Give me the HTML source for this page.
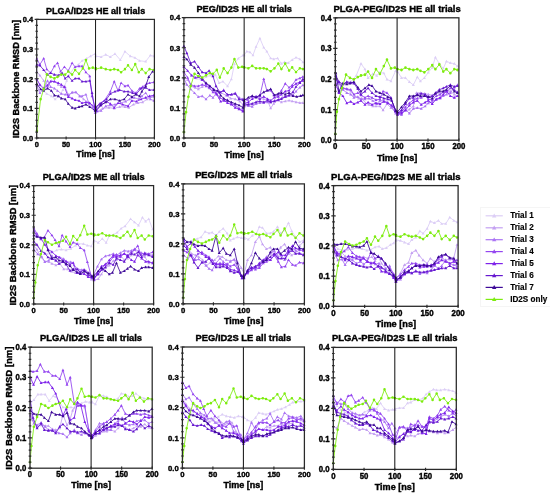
<!DOCTYPE html><html><head><meta charset="utf-8"><style>html,body{margin:0;padding:0;background:#fff}svg{display:block;filter:blur(0.45px)}text{font-family:"Liberation Sans",sans-serif;font-weight:bold;fill:#000;stroke:#000;stroke-width:0.4px}</style></head><body>
<svg width="550" height="495" viewBox="0 0 550 495">
<rect width="550" height="495" fill="#fff"/>
<path d="M36.77 79.19 L39.84 85.33 L42.91 90.71 L46.75 93.78 L51.36 96.08 L55.2 99.16 L59.04 96.08 L62.88 89.94 L66.72 80.72 L70.56 73.04 L74.4 67.67 L78.24 64.59 L82.08 60.75 L86.69 58.45 L90.53 56.14 L95.14 53.84 L95.77 56.14 L101.14 56.91 L105.75 54.61 L110.36 56.91 L114.97 53.84 L120.35 59.98 L124.95 51.54 L130.33 56.14 L134.94 57.68 L139.55 60.75 L145.69 61.52 L150.3 55.38 L153.83 56.14" fill="none" stroke="#dccef6" stroke-width="0.83" stroke-linejoin="round"/>
<path d="M36.77 77.67L38.21 80.25L35.32 80.25ZM39.84 83.81L41.28 86.39L38.4 86.39ZM42.91 89.19L44.36 91.77L41.47 91.77ZM46.75 92.26L48.2 94.84L45.31 94.84ZM51.36 94.56L52.81 97.15L49.92 97.15ZM55.2 97.63L56.65 100.22L53.76 100.22ZM59.04 94.56L60.49 97.15L57.6 97.15ZM62.88 88.42L64.33 91L61.44 91ZM66.72 79.2L68.17 81.79L65.28 81.79ZM70.56 71.52L72.01 74.11L69.12 74.11ZM74.4 66.14L75.85 68.73L72.96 68.73ZM78.24 63.07L79.69 65.66L76.8 65.66ZM82.08 59.23L83.53 61.82L80.64 61.82ZM86.69 56.93L88.14 59.51L85.25 59.51ZM90.53 54.62L91.98 57.21L89.09 57.21ZM95.14 52.32L96.58 54.9L93.7 54.9ZM95.77 54.62L97.21 57.21L94.32 57.21ZM101.14 55.39L102.59 57.98L99.7 57.98ZM105.75 53.09L107.2 55.67L104.31 55.67ZM110.36 55.39L111.81 57.98L108.92 57.98ZM114.97 52.32L116.41 54.9L113.53 54.9ZM120.35 58.46L121.79 61.05L118.9 61.05ZM124.95 50.02L126.4 52.6L123.51 52.6ZM130.33 54.62L131.77 57.21L128.89 57.21ZM134.94 56.16L136.38 58.74L133.49 58.74ZM139.55 59.23L140.99 61.82L138.1 61.82ZM145.69 60L147.14 62.58L144.25 62.58ZM150.3 53.86L151.74 56.44L148.86 56.44ZM153.83 54.62L155.28 57.21L152.39 57.21Z" fill="#dccef6"/>
<path d="M36.77 71.51 L39.84 75.35 L43.68 80.72 L47.52 86.87 L51.36 80.72 L54.43 81.49 L58.27 84.56 L61.35 86.87 L65.19 86.87 L68.26 94.55 L72.1 93.01 L75.94 92.24 L79.78 96.08 L83.62 99.16 L88.23 102.23 L92.07 105.3 L95.14 106.84 L97.3 111.44 L102.68 108.37 L108.82 107.6 L114.2 108.37 L119.58 106.84 L124.95 106.84 L128.79 107.6 L133.4 104.53 L138.01 103 L142.62 102.23 L147.23 99.16 L151.07 96.85 L153.83 96.85" fill="none" stroke="#c4a0f2" stroke-width="0.83" stroke-linejoin="round"/>
<path d="M36.77 69.99L38.21 72.57L35.32 72.57ZM39.84 73.83L41.28 76.41L38.4 76.41ZM43.68 79.2L45.12 81.79L42.24 81.79ZM47.52 85.35L48.97 87.93L46.08 87.93ZM51.36 79.2L52.81 81.79L49.92 81.79ZM54.43 79.97L55.88 82.55L52.99 82.55ZM58.27 83.04L59.72 85.63L56.83 85.63ZM61.35 85.35L62.79 87.93L59.9 87.93ZM65.19 85.35L66.63 87.93L63.74 87.93ZM68.26 93.03L69.7 95.61L66.81 95.61ZM72.1 91.49L73.54 94.07L70.65 94.07ZM75.94 90.72L77.38 93.31L74.49 93.31ZM79.78 94.56L81.22 97.15L78.33 97.15ZM83.62 97.63L85.06 100.22L82.17 100.22ZM88.23 100.71L89.67 103.29L86.78 103.29ZM92.07 103.78L93.51 106.36L90.62 106.36ZM95.14 105.32L96.58 107.9L93.7 107.9ZM97.3 109.92L98.75 112.51L95.86 112.51ZM102.68 106.85L104.12 109.44L101.24 109.44ZM108.82 106.08L110.27 108.67L107.38 108.67ZM114.2 106.85L115.65 109.44L112.76 109.44ZM119.58 105.32L121.02 107.9L118.13 107.9ZM124.95 105.32L126.4 107.9L123.51 107.9ZM128.79 106.08L130.24 108.67L127.35 108.67ZM133.4 103.01L134.85 105.6L131.96 105.6ZM138.01 101.48L139.46 104.06L136.57 104.06ZM142.62 100.71L144.06 103.29L141.17 103.29ZM147.23 97.63L148.67 100.22L145.78 100.22ZM151.07 95.33L152.51 97.92L149.62 97.92ZM153.83 95.33L155.28 97.92L152.39 97.92Z" fill="#c4a0f2"/>
<path d="M36.77 85.33 L39.84 93.01 L44.45 87.63 L47.52 80.72 L50.59 86.87 L54.43 88.4 L57.51 90.71 L61.35 93.78 L65.19 94.55 L69.03 95.31 L72.1 92.24 L75.94 92.24 L79.78 96.08 L82.08 96.08 L85.92 94.55 L89 103.76 L92.84 106.84 L95.14 112.98 L95.77 112.21 L101.14 110.68 L105.75 106.07 L110.36 105.3 L114.97 104.53 L120.35 103 L125.72 101.46 L129.56 99.16 L134.17 97.62 L138.78 99.16 L141.85 96.08 L145.69 93.01 L150.3 99.16 L153.83 100.69" fill="none" stroke="#ab74f4" stroke-width="0.83" stroke-linejoin="round"/>
<path d="M36.77 83.81L38.21 86.39L35.32 86.39ZM39.84 91.49L41.28 94.07L38.4 94.07ZM44.45 86.11L45.89 88.7L43 88.7ZM47.52 79.2L48.97 81.79L46.08 81.79ZM50.59 85.35L52.04 87.93L49.15 87.93ZM54.43 86.88L55.88 89.47L52.99 89.47ZM57.51 89.19L58.95 91.77L56.06 91.77ZM61.35 92.26L62.79 94.84L59.9 94.84ZM65.19 93.03L66.63 95.61L63.74 95.61ZM69.03 93.79L70.47 96.38L67.58 96.38ZM72.1 90.72L73.54 93.31L70.65 93.31ZM75.94 90.72L77.38 93.31L74.49 93.31ZM79.78 94.56L81.22 97.15L78.33 97.15ZM82.08 94.56L83.53 97.15L80.64 97.15ZM85.92 93.03L87.37 95.61L84.48 95.61ZM89 102.24L90.44 104.83L87.55 104.83ZM92.84 105.32L94.28 107.9L91.39 107.9ZM95.14 111.46L96.58 114.04L93.7 114.04ZM95.77 110.69L97.21 113.28L94.32 113.28ZM101.14 109.16L102.59 111.74L99.7 111.74ZM105.75 104.55L107.2 107.13L104.31 107.13ZM110.36 103.78L111.81 106.36L108.92 106.36ZM114.97 103.01L116.41 105.6L113.53 105.6ZM120.35 101.48L121.79 104.06L118.9 104.06ZM125.72 99.94L127.17 102.52L124.28 102.52ZM129.56 97.63L131.01 100.22L128.12 100.22ZM134.17 96.1L135.61 98.68L132.73 98.68ZM138.78 97.63L140.22 100.22L137.33 100.22ZM141.85 94.56L143.3 97.15L140.41 97.15ZM145.69 91.49L147.14 94.07L144.25 94.07ZM150.3 97.63L151.74 100.22L148.86 100.22ZM153.83 99.17L155.28 101.76L152.39 101.76Z" fill="#ab74f4"/>
<path d="M36.77 58.45 L39.84 64.59 L43.68 58.45 L46.75 69.2 L50.59 73.04 L54.43 66.13 L57.51 63.06 L60.58 71.51 L64.42 66.9 L68.26 70.74 L72.1 63.06 L75.17 66.9 L79.01 66.13 L82.08 66.13 L85.92 72.27 L89.76 76.11 L92.07 96.08 L95.14 108.37 L95.77 108.37 L99.61 103.76 L104.22 100.69 L110.36 91.47 L114.2 81.49 L118.04 90.71 L121.11 83.03 L124.95 86.1 L128.03 85.33 L131.87 90.71 L135.71 93.01 L139.55 88.4 L142.62 86.87 L146.46 83.79 L149.53 83.03 L153.83 82.26" fill="none" stroke="#9446f0" stroke-width="0.83" stroke-linejoin="round"/>
<path d="M36.77 56.93L38.21 59.51L35.32 59.51ZM39.84 63.07L41.28 65.66L38.4 65.66ZM43.68 56.93L45.12 59.51L42.24 59.51ZM46.75 67.68L48.2 70.27L45.31 70.27ZM50.59 71.52L52.04 74.11L49.15 74.11ZM54.43 64.61L55.88 67.19L52.99 67.19ZM57.51 61.54L58.95 64.12L56.06 64.12ZM60.58 69.99L62.02 72.57L59.13 72.57ZM64.42 65.38L65.86 67.96L62.97 67.96ZM68.26 69.22L69.7 71.8L66.81 71.8ZM72.1 61.54L73.54 64.12L70.65 64.12ZM75.17 65.38L76.61 67.96L73.73 67.96ZM79.01 64.61L80.46 67.19L77.57 67.19ZM82.08 64.61L83.53 67.19L80.64 67.19ZM85.92 70.75L87.37 73.34L84.48 73.34ZM89.76 74.59L91.21 77.18L88.32 77.18ZM92.07 94.56L93.51 97.15L90.62 97.15ZM95.14 106.85L96.58 109.44L93.7 109.44ZM95.77 106.85L97.21 109.44L94.32 109.44ZM99.61 102.24L101.05 104.83L98.16 104.83ZM104.22 99.17L105.66 101.76L102.77 101.76ZM110.36 89.95L111.81 92.54L108.92 92.54ZM114.2 79.97L115.65 82.55L112.76 82.55ZM118.04 89.19L119.49 91.77L116.6 91.77ZM121.11 81.51L122.56 84.09L119.67 84.09ZM124.95 84.58L126.4 87.16L123.51 87.16ZM128.03 83.81L129.47 86.39L126.58 86.39ZM131.87 89.19L133.31 91.77L130.42 91.77ZM135.71 91.49L137.15 94.07L134.26 94.07ZM139.55 86.88L140.99 89.47L138.1 89.47ZM142.62 85.35L144.06 87.93L141.17 87.93ZM146.46 82.27L147.9 84.86L145.02 84.86ZM149.53 81.51L150.98 84.09L148.09 84.09ZM153.83 80.74L155.28 83.32L152.39 83.32Z" fill="#9446f0"/>
<path d="M36.77 79.19 L39.84 84.56 L43.68 88.4 L47.52 85.33 L50.59 81.49 L54.43 81.49 L58.27 83.03 L61.35 84.56 L64.42 86.87 L68.26 96.85 L72.1 98.39 L75.17 99.92 L79.01 100.69 L82.08 103 L85.92 102.23 L89.76 103 L95.14 107.6 L96.54 110.68 L101.14 105.3 L106.52 101.46 L110.36 103.76 L114.2 107.6 L118.04 103 L122.65 104.53 L128.03 106.07 L131.87 100.69 L136.47 101.46 L141.08 99.16 L145.69 97.62 L149.53 96.08 L153.83 95.31" fill="none" stroke="#7e22ea" stroke-width="0.83" stroke-linejoin="round"/>
<path d="M36.77 77.67L38.21 80.25L35.32 80.25ZM39.84 83.04L41.28 85.63L38.4 85.63ZM43.68 86.88L45.12 89.47L42.24 89.47ZM47.52 83.81L48.97 86.39L46.08 86.39ZM50.59 79.97L52.04 82.55L49.15 82.55ZM54.43 79.97L55.88 82.55L52.99 82.55ZM58.27 81.51L59.72 84.09L56.83 84.09ZM61.35 83.04L62.79 85.63L59.9 85.63ZM64.42 85.35L65.86 87.93L62.97 87.93ZM68.26 95.33L69.7 97.92L66.81 97.92ZM72.1 96.87L73.54 99.45L70.65 99.45ZM75.17 98.4L76.61 100.99L73.73 100.99ZM79.01 99.17L80.46 101.76L77.57 101.76ZM82.08 101.48L83.53 104.06L80.64 104.06ZM85.92 100.71L87.37 103.29L84.48 103.29ZM89.76 101.48L91.21 104.06L88.32 104.06ZM95.14 106.08L96.58 108.67L93.7 108.67ZM96.54 109.16L97.98 111.74L95.09 111.74ZM101.14 103.78L102.59 106.36L99.7 106.36ZM106.52 99.94L107.97 102.52L105.08 102.52ZM110.36 102.24L111.81 104.83L108.92 104.83ZM114.2 106.08L115.65 108.67L112.76 108.67ZM118.04 101.48L119.49 104.06L116.6 104.06ZM122.65 103.01L124.09 105.6L121.21 105.6ZM128.03 104.55L129.47 107.13L126.58 107.13ZM131.87 99.17L133.31 101.76L130.42 101.76ZM136.47 99.94L137.92 102.52L135.03 102.52ZM141.08 97.63L142.53 100.22L139.64 100.22ZM145.69 96.1L147.14 98.68L144.25 98.68ZM149.53 94.56L150.98 97.15L148.09 97.15ZM153.83 93.79L155.28 96.38L152.39 96.38Z" fill="#7e22ea"/>
<path d="M36.77 64.59 L39.84 65.36 L43.68 69.97 L47.52 74.58 L50.59 73.04 L54.43 74.58 L58.27 75.35 L62.11 73.04 L65.19 78.42 L68.26 76.11 L72.1 80.72 L75.17 78.42 L79.01 78.42 L82.08 81.49 L85.92 81.49 L89.76 80.72 L92.07 93.01 L95.14 109.91 L95.77 106.84 L101.14 103 L106.52 99.16 L110.36 93.78 L114.97 91.47 L119.58 89.94 L124.19 91.47 L128.03 91.47 L132.63 93.01 L136.47 93.78 L141.08 88.4 L145.69 87.63 L149.53 89.94 L153.83 89.94" fill="none" stroke="#6618d0" stroke-width="0.83" stroke-linejoin="round"/>
<path d="M36.77 63.07L38.21 65.66L35.32 65.66ZM39.84 63.84L41.28 66.43L38.4 66.43ZM43.68 68.45L45.12 71.03L42.24 71.03ZM47.52 73.06L48.97 75.64L46.08 75.64ZM50.59 71.52L52.04 74.11L49.15 74.11ZM54.43 73.06L55.88 75.64L52.99 75.64ZM58.27 73.83L59.72 76.41L56.83 76.41ZM62.11 71.52L63.56 74.11L60.67 74.11ZM65.19 76.9L66.63 79.48L63.74 79.48ZM68.26 74.59L69.7 77.18L66.81 77.18ZM72.1 79.2L73.54 81.79L70.65 81.79ZM75.17 76.9L76.61 79.48L73.73 79.48ZM79.01 76.9L80.46 79.48L77.57 79.48ZM82.08 79.97L83.53 82.55L80.64 82.55ZM85.92 79.97L87.37 82.55L84.48 82.55ZM89.76 79.2L91.21 81.79L88.32 81.79ZM92.07 91.49L93.51 94.07L90.62 94.07ZM95.14 108.39L96.58 110.97L93.7 110.97ZM95.77 105.32L97.21 107.9L94.32 107.9ZM101.14 101.48L102.59 104.06L99.7 104.06ZM106.52 97.63L107.97 100.22L105.08 100.22ZM110.36 92.26L111.81 94.84L108.92 94.84ZM114.97 89.95L116.41 92.54L113.53 92.54ZM119.58 88.42L121.02 91L118.13 91ZM124.19 89.95L125.63 92.54L122.74 92.54ZM128.03 89.95L129.47 92.54L126.58 92.54ZM132.63 91.49L134.08 94.07L131.19 94.07ZM136.47 92.26L137.92 94.84L135.03 94.84ZM141.08 86.88L142.53 89.47L139.64 89.47ZM145.69 86.11L147.14 88.7L144.25 88.7ZM149.53 88.42L150.98 91L148.09 91ZM153.83 88.42L155.28 91L152.39 91Z" fill="#6618d0"/>
<path d="M36.77 83.79 L40.61 89.17 L43.68 90.71 L47.52 88.4 L51.36 90.71 L54.43 95.31 L58.27 96.08 L61.35 98.39 L65.19 99.16 L68.26 103.76 L72.1 107.6 L75.17 108.37 L79.01 106.84 L82.08 106.07 L85.92 104.53 L89.76 106.84 L95.14 110.68 L95.77 109.91 L100.38 105.3 L105.75 102.23 L110.36 99.16 L114.97 99.16 L119.58 100.69 L124.19 99.16 L128.03 94.55 L131.87 96.85 L135.71 94.55 L139.55 96.08 L141.85 91.47 L145.69 86.1 L148.76 76.88 L152.6 71.51" fill="none" stroke="#3e0a98" stroke-width="0.83" stroke-linejoin="round"/>
<path d="M36.77 82.27L38.21 84.86L35.32 84.86ZM40.61 87.65L42.05 90.23L39.16 90.23ZM43.68 89.19L45.12 91.77L42.24 91.77ZM47.52 86.88L48.97 89.47L46.08 89.47ZM51.36 89.19L52.81 91.77L49.92 91.77ZM54.43 93.79L55.88 96.38L52.99 96.38ZM58.27 94.56L59.72 97.15L56.83 97.15ZM61.35 96.87L62.79 99.45L59.9 99.45ZM65.19 97.63L66.63 100.22L63.74 100.22ZM68.26 102.24L69.7 104.83L66.81 104.83ZM72.1 106.08L73.54 108.67L70.65 108.67ZM75.17 106.85L76.61 109.44L73.73 109.44ZM79.01 105.32L80.46 107.9L77.57 107.9ZM82.08 104.55L83.53 107.13L80.64 107.13ZM85.92 103.01L87.37 105.6L84.48 105.6ZM89.76 105.32L91.21 107.9L88.32 107.9ZM95.14 109.16L96.58 111.74L93.7 111.74ZM95.77 108.39L97.21 110.97L94.32 110.97ZM100.38 103.78L101.82 106.36L98.93 106.36ZM105.75 100.71L107.2 103.29L104.31 103.29ZM110.36 97.63L111.81 100.22L108.92 100.22ZM114.97 97.63L116.41 100.22L113.53 100.22ZM119.58 99.17L121.02 101.76L118.13 101.76ZM124.19 97.63L125.63 100.22L122.74 100.22ZM128.03 93.03L129.47 95.61L126.58 95.61ZM131.87 95.33L133.31 97.92L130.42 97.92ZM135.71 93.03L137.15 95.61L134.26 95.61ZM139.55 94.56L140.99 97.15L138.1 97.15ZM141.85 89.95L143.3 92.54L140.41 92.54ZM145.69 84.58L147.14 87.16L144.25 87.16ZM148.76 75.36L150.21 77.95L147.32 77.95ZM152.6 69.99L154.05 72.57L151.16 72.57Z" fill="#3e0a98"/>
<path d="M36.92 130.95 L40.61 99.16 L43.68 89.17 L46.75 74.27 L50.59 76.88 L54.43 78.42 L57.51 76.88 L61.35 74.58 L65.19 74.58 L68.26 71.51 L72.1 74.58 L75.17 69.97 L79.01 73.81 L82.85 68.43 L85.92 59.98 L89 68.43 L92.84 67.67 L95.91 68.43 L95.77 69.2 L101.14 67.67 L105.75 69.2 L110.36 69.97 L114.2 69.2 L118.04 69.97 L121.11 72.27 L124.95 69.2 L128.03 65.36 L131.87 69.97 L135.25 64.13 L138.78 72.27 L141.85 69.2 L145.69 73.04 L149.53 69.2 L153.83 69.97" fill="none" stroke="#7dec0e" stroke-width="0.83" stroke-linejoin="round"/>
<path d="M35.7 130.95a1.23 1.23 0 1 0 2.45 0a1.23 1.23 0 1 0 -2.45 0ZM39.38 99.16a1.23 1.23 0 1 0 2.45 0a1.23 1.23 0 1 0 -2.45 0ZM42.45 89.17a1.23 1.23 0 1 0 2.45 0a1.23 1.23 0 1 0 -2.45 0ZM45.53 74.27a1.23 1.23 0 1 0 2.45 0a1.23 1.23 0 1 0 -2.45 0ZM49.37 76.88a1.23 1.23 0 1 0 2.45 0a1.23 1.23 0 1 0 -2.45 0ZM53.21 78.42a1.23 1.23 0 1 0 2.45 0a1.23 1.23 0 1 0 -2.45 0ZM56.28 76.88a1.23 1.23 0 1 0 2.45 0a1.23 1.23 0 1 0 -2.45 0ZM60.12 74.58a1.23 1.23 0 1 0 2.45 0a1.23 1.23 0 1 0 -2.45 0ZM63.96 74.58a1.23 1.23 0 1 0 2.45 0a1.23 1.23 0 1 0 -2.45 0ZM67.03 71.51a1.23 1.23 0 1 0 2.45 0a1.23 1.23 0 1 0 -2.45 0ZM70.87 74.58a1.23 1.23 0 1 0 2.45 0a1.23 1.23 0 1 0 -2.45 0ZM73.94 69.97a1.23 1.23 0 1 0 2.45 0a1.23 1.23 0 1 0 -2.45 0ZM77.78 73.81a1.23 1.23 0 1 0 2.45 0a1.23 1.23 0 1 0 -2.45 0ZM81.62 68.43a1.23 1.23 0 1 0 2.45 0a1.23 1.23 0 1 0 -2.45 0ZM84.7 59.98a1.23 1.23 0 1 0 2.45 0a1.23 1.23 0 1 0 -2.45 0ZM87.77 68.43a1.23 1.23 0 1 0 2.45 0a1.23 1.23 0 1 0 -2.45 0ZM91.61 67.67a1.23 1.23 0 1 0 2.45 0a1.23 1.23 0 1 0 -2.45 0ZM94.68 68.43a1.23 1.23 0 1 0 2.45 0a1.23 1.23 0 1 0 -2.45 0ZM94.54 69.2a1.23 1.23 0 1 0 2.45 0a1.23 1.23 0 1 0 -2.45 0ZM99.92 67.67a1.23 1.23 0 1 0 2.45 0a1.23 1.23 0 1 0 -2.45 0ZM104.53 69.2a1.23 1.23 0 1 0 2.45 0a1.23 1.23 0 1 0 -2.45 0ZM109.13 69.97a1.23 1.23 0 1 0 2.45 0a1.23 1.23 0 1 0 -2.45 0ZM112.98 69.2a1.23 1.23 0 1 0 2.45 0a1.23 1.23 0 1 0 -2.45 0ZM116.82 69.97a1.23 1.23 0 1 0 2.45 0a1.23 1.23 0 1 0 -2.45 0ZM119.89 72.27a1.23 1.23 0 1 0 2.45 0a1.23 1.23 0 1 0 -2.45 0ZM123.73 69.2a1.23 1.23 0 1 0 2.45 0a1.23 1.23 0 1 0 -2.45 0ZM126.8 65.36a1.23 1.23 0 1 0 2.45 0a1.23 1.23 0 1 0 -2.45 0ZM130.64 69.97a1.23 1.23 0 1 0 2.45 0a1.23 1.23 0 1 0 -2.45 0ZM134.02 64.13a1.23 1.23 0 1 0 2.45 0a1.23 1.23 0 1 0 -2.45 0ZM137.55 72.27a1.23 1.23 0 1 0 2.45 0a1.23 1.23 0 1 0 -2.45 0ZM140.62 69.2a1.23 1.23 0 1 0 2.45 0a1.23 1.23 0 1 0 -2.45 0ZM144.47 73.04a1.23 1.23 0 1 0 2.45 0a1.23 1.23 0 1 0 -2.45 0ZM148.31 69.2a1.23 1.23 0 1 0 2.45 0a1.23 1.23 0 1 0 -2.45 0ZM152.61 69.97a1.23 1.23 0 1 0 2.45 0a1.23 1.23 0 1 0 -2.45 0Z" fill="#7dec0e"/>
<line x1="95.55" y1="19.4" x2="95.55" y2="138" stroke="#111" stroke-width="0.98"/>
<rect x="36.7" y="19.4" width="117.7" height="118.6" fill="none" stroke="#2a2a2a" stroke-width="1.23"/>
<path d="M34.64 138H38.76M35.42 132.07H37.98M35.42 126.14H37.98M35.42 120.21H37.98M35.42 114.28H37.98M34.64 108.35H38.76M35.42 102.42H37.98M35.42 96.49H37.98M35.42 90.56H37.98M35.42 84.63H37.98M34.64 78.7H38.76M35.42 72.77H37.98M35.42 66.84H37.98M35.42 60.91H37.98M35.42 54.98H37.98M34.64 49.05H38.76M35.42 43.12H37.98M35.42 37.19H37.98M35.42 31.26H37.98M35.42 25.33H37.98M34.64 19.4H38.76M36.7 136.43V139.57M66.12 136.43V139.57M95.55 136.43V139.57M124.98 136.43V139.57M154.4 136.43V139.57" stroke="#2a2a2a" stroke-width="1.13" fill="none"/>
<text transform="translate(33.17 140.81) scale(0.95,1)" font-size="7.85" text-anchor="end">0.0</text>
<text transform="translate(33.17 111.16) scale(0.95,1)" font-size="7.85" text-anchor="end">0.1</text>
<text transform="translate(33.17 81.51) scale(0.95,1)" font-size="7.85" text-anchor="end">0.2</text>
<text transform="translate(33.17 51.86) scale(0.95,1)" font-size="7.85" text-anchor="end">0.3</text>
<text transform="translate(33.17 22.21) scale(0.95,1)" font-size="7.85" text-anchor="end">0.4</text>
<text transform="translate(36.7 146.73) scale(0.95,1)" font-size="7.85" text-anchor="middle">0</text>
<text transform="translate(66.12 146.73) scale(0.95,1)" font-size="7.85" text-anchor="middle">50</text>
<text transform="translate(95.55 146.73) scale(0.95,1)" font-size="7.85" text-anchor="middle">100</text>
<text transform="translate(124.98 146.73) scale(0.95,1)" font-size="7.85" text-anchor="middle">150</text>
<text transform="translate(154.4 146.73) scale(0.95,1)" font-size="7.85" text-anchor="middle">200</text>
<text x="95.55" y="157.42" font-size="8.68" text-anchor="middle">Time [ns]</text>
<text x="95.55" y="13.71" font-size="9.02" text-anchor="middle">PLGA/ID2S HE all trials</text>
<text transform="translate(19.44 79.1) rotate(-90)" x="0" y="0" font-size="9.17" text-anchor="middle">ID2S Backbone RMSD [nm]</text>
<path d="M183.9 66.11 L187.61 70.72 L192.22 75.33 L196.82 78.4 L201.43 79.94 L206.04 76.87 L210.65 75.33 L215.26 74.56 L219.1 83.01 L222.94 81.47 L227.55 86.08 L231.39 79.17 L234.46 63.81 L238.3 58.43 L242.91 55.36 L244.23 55.2 L246.84 51.36 L249.91 52.13 L252.98 55.2 L256.06 46.75 L259.9 38.3 L263.74 47.52 L266.81 51.36 L270.65 58.27 L273.72 59.04 L277.56 58.27 L281.4 63.65 L284.47 62.11 L288.31 62.88 L292.16 59.81 L296 57.51 L299.84 59.04 L302.91 62.11" fill="none" stroke="#dccef6" stroke-width="0.85" stroke-linejoin="round"/>
<path d="M183.9 64.56L185.38 67.2L182.42 67.2ZM187.61 69.17L189.09 71.81L186.13 71.81ZM192.22 73.77L193.7 76.42L190.74 76.42ZM196.82 76.85L198.3 79.49L195.35 79.49ZM201.43 78.38L202.91 81.03L199.95 81.03ZM206.04 75.31L207.52 77.96L204.56 77.96ZM210.65 73.77L212.13 76.42L209.17 76.42ZM215.26 73.01L216.74 75.65L213.78 75.65ZM219.1 81.45L220.58 84.1L217.62 84.1ZM222.94 79.92L224.42 82.56L221.46 82.56ZM227.55 84.53L229.03 87.17L226.07 87.17ZM231.39 77.61L232.87 80.26L229.91 80.26ZM234.46 62.25L235.94 64.9L232.98 64.9ZM238.3 56.88L239.78 59.52L236.82 59.52ZM242.91 53.8L244.39 56.45L241.43 56.45ZM244.23 53.64L245.71 56.29L242.75 56.29ZM246.84 49.8L248.32 52.45L245.36 52.45ZM249.91 50.57L251.39 53.22L248.43 53.22ZM252.98 53.64L254.46 56.29L251.51 56.29ZM256.06 45.2L257.54 47.84L254.58 47.84ZM259.9 36.75L261.38 39.39L258.42 39.39ZM263.74 45.96L265.22 48.61L262.26 48.61ZM266.81 49.8L268.29 52.45L265.33 52.45ZM270.65 56.72L272.13 59.36L269.17 59.36ZM273.72 57.49L275.2 60.13L272.24 60.13ZM277.56 56.72L279.04 59.36L276.08 59.36ZM281.4 62.09L282.88 64.74L279.92 64.74ZM284.47 60.56L285.95 63.2L283 63.2ZM288.31 61.33L289.79 63.97L286.84 63.97ZM292.16 58.25L293.63 60.9L290.68 60.9ZM296 55.95L297.47 58.59L294.52 58.59ZM299.84 57.49L301.31 60.13L298.36 60.13ZM302.91 60.56L304.39 63.2L301.43 63.2Z" fill="#dccef6"/>
<path d="M183.9 75.33 L187.61 79.94 L191.45 86.08 L195.29 87.62 L198.36 89.16 L202.2 86.85 L206.04 84.55 L209.88 88.39 L213.72 90.69 L217.56 91.46 L221.4 93 L226.01 95.3 L230.62 98.37 L235.23 99.14 L239.84 101.44 L242.91 104.52 L244.23 106.66 L247.61 105.12 L252.22 104.36 L256.06 103.59 L259.9 96.68 L263.74 98.98 L267.58 100.52 L270.65 108.2 L273.72 103.59 L277.56 100.52 L281.4 102.05 L285.24 101.28 L289.08 100.52 L292.16 101.28 L296 102.05 L299.84 102.82 L302.91 102.82" fill="none" stroke="#c4a0f2" stroke-width="0.85" stroke-linejoin="round"/>
<path d="M183.9 73.77L185.38 76.42L182.42 76.42ZM187.61 78.38L189.09 81.03L186.13 81.03ZM191.45 84.53L192.93 87.17L189.97 87.17ZM195.29 86.06L196.77 88.71L193.81 88.71ZM198.36 87.6L199.84 90.24L196.88 90.24ZM202.2 85.29L203.68 87.94L200.72 87.94ZM206.04 82.99L207.52 85.64L204.56 85.64ZM209.88 86.83L211.36 89.48L208.4 89.48ZM213.72 89.13L215.2 91.78L212.24 91.78ZM217.56 89.9L219.04 92.55L216.08 92.55ZM221.4 91.44L222.88 94.08L219.92 94.08ZM226.01 93.74L227.49 96.39L224.53 96.39ZM230.62 96.82L232.1 99.46L229.14 99.46ZM235.23 97.58L236.71 100.23L233.75 100.23ZM239.84 99.89L241.31 102.53L238.36 102.53ZM242.91 102.96L244.39 105.61L241.43 105.61ZM244.23 105.1L245.71 107.75L242.75 107.75ZM247.61 103.57L249.09 106.21L246.13 106.21ZM252.22 102.8L253.7 105.45L250.74 105.45ZM256.06 102.03L257.54 104.68L254.58 104.68ZM259.9 95.12L261.38 97.77L258.42 97.77ZM263.74 97.42L265.22 100.07L262.26 100.07ZM267.58 98.96L269.06 101.61L266.1 101.61ZM270.65 106.64L272.13 109.29L269.17 109.29ZM273.72 102.03L275.2 104.68L272.24 104.68ZM277.56 98.96L279.04 101.61L276.08 101.61ZM281.4 100.5L282.88 103.14L279.92 103.14ZM285.24 99.73L286.72 102.37L283.76 102.37ZM289.08 98.96L290.56 101.61L287.6 101.61ZM292.16 99.73L293.63 102.37L290.68 102.37ZM296 100.5L297.47 103.14L294.52 103.14ZM299.84 101.26L301.31 103.91L298.36 103.91ZM302.91 101.26L304.39 103.91L301.43 103.91Z" fill="#c4a0f2"/>
<path d="M183.9 78.4 L186.84 84.55 L190.68 89.16 L194.52 93 L198.36 96.84 L202.2 96.07 L206.04 99.14 L209.88 95.3 L212.95 97.6 L216.03 93.76 L220.63 92.23 L223.71 89.92 L227.55 95.3 L231.39 94.53 L235.23 93 L239.07 97.6 L242.91 99.14 L244.23 102.05 L248.38 105.89 L252.22 106.66 L256.06 103.59 L259.9 102.82 L263.74 102.82 L267.58 102.05 L270.65 102.05 L274.49 100.52 L278.33 99.75 L282.17 97.44 L286.01 96.68 L289.08 95.91 L292.92 95.14 L296 91.3 L299.84 87.46 L302.91 85.16" fill="none" stroke="#ab74f4" stroke-width="0.85" stroke-linejoin="round"/>
<path d="M183.9 76.85L185.38 79.49L182.42 79.49ZM186.84 82.99L188.32 85.64L185.36 85.64ZM190.68 87.6L192.16 90.24L189.2 90.24ZM194.52 91.44L196 94.08L193.04 94.08ZM198.36 95.28L199.84 97.93L196.88 97.93ZM202.2 94.51L203.68 97.16L200.72 97.16ZM206.04 97.58L207.52 100.23L204.56 100.23ZM209.88 93.74L211.36 96.39L208.4 96.39ZM212.95 96.05L214.43 98.69L211.48 98.69ZM216.03 92.21L217.5 94.85L214.55 94.85ZM220.63 90.67L222.11 93.32L219.16 93.32ZM223.71 88.37L225.19 91.01L222.23 91.01ZM227.55 93.74L229.03 96.39L226.07 96.39ZM231.39 92.98L232.87 95.62L229.91 95.62ZM235.23 91.44L236.71 94.08L233.75 94.08ZM239.07 96.05L240.55 98.69L237.59 98.69ZM242.91 97.58L244.39 100.23L241.43 100.23ZM244.23 100.5L245.71 103.14L242.75 103.14ZM248.38 104.34L249.85 106.98L246.9 106.98ZM252.22 105.1L253.7 107.75L250.74 107.75ZM256.06 102.03L257.54 104.68L254.58 104.68ZM259.9 101.26L261.38 103.91L258.42 103.91ZM263.74 101.26L265.22 103.91L262.26 103.91ZM267.58 100.5L269.06 103.14L266.1 103.14ZM270.65 100.5L272.13 103.14L269.17 103.14ZM274.49 98.96L275.97 101.61L273.01 101.61ZM278.33 98.19L279.81 100.84L276.85 100.84ZM282.17 95.89L283.65 98.53L280.69 98.53ZM286.01 95.12L287.49 97.77L284.53 97.77ZM289.08 94.35L290.56 97L287.6 97ZM292.92 93.58L294.4 96.23L291.44 96.23ZM296 89.74L297.47 92.39L294.52 92.39ZM299.84 85.9L301.31 88.55L298.36 88.55ZM302.91 83.6L304.39 86.24L301.43 86.24Z" fill="#ab74f4"/>
<path d="M183.9 72.26 L187.61 77.63 L190.68 84.55 L194.52 86.08 L198.36 86.08 L202.2 84.55 L206.04 86.08 L209.11 87.62 L212.95 92.23 L216.03 93 L219.87 97.6 L223.71 99.91 L227.55 99.91 L231.39 103.75 L235.23 105.28 L239.07 108.36 L242.91 110.66 L244.23 98.98 L247.61 99.75 L252.22 96.68 L256.06 96.68 L259.9 95.91 L263.74 79.01 L266.81 90.53 L270.65 90.53 L273.72 95.14 L277.56 95.14 L281.4 90.53 L285.24 83.62 L289.08 87.46 L292.16 85.16 L296 79.78 L299.84 78.24 L302.91 76.71" fill="none" stroke="#9446f0" stroke-width="0.85" stroke-linejoin="round"/>
<path d="M183.9 70.7L185.38 73.35L182.42 73.35ZM187.61 76.08L189.09 78.72L186.13 78.72ZM190.68 82.99L192.16 85.64L189.2 85.64ZM194.52 84.53L196 87.17L193.04 87.17ZM198.36 84.53L199.84 87.17L196.88 87.17ZM202.2 82.99L203.68 85.64L200.72 85.64ZM206.04 84.53L207.52 87.17L204.56 87.17ZM209.11 86.06L210.59 88.71L207.64 88.71ZM212.95 90.67L214.43 93.32L211.48 93.32ZM216.03 91.44L217.5 94.08L214.55 94.08ZM219.87 96.05L221.34 98.69L218.39 98.69ZM223.71 98.35L225.19 101L222.23 101ZM227.55 98.35L229.03 101L226.07 101ZM231.39 102.19L232.87 104.84L229.91 104.84ZM235.23 103.73L236.71 106.37L233.75 106.37ZM239.07 106.8L240.55 109.45L237.59 109.45ZM242.91 109.1L244.39 111.75L241.43 111.75ZM244.23 97.42L245.71 100.07L242.75 100.07ZM247.61 98.19L249.09 100.84L246.13 100.84ZM252.22 95.12L253.7 97.77L250.74 97.77ZM256.06 95.12L257.54 97.77L254.58 97.77ZM259.9 94.35L261.38 97L258.42 97ZM263.74 77.45L265.22 80.1L262.26 80.1ZM266.81 88.98L268.29 91.62L265.33 91.62ZM270.65 88.98L272.13 91.62L269.17 91.62ZM273.72 93.58L275.2 96.23L272.24 96.23ZM277.56 93.58L279.04 96.23L276.08 96.23ZM281.4 88.98L282.88 91.62L279.92 91.62ZM285.24 82.06L286.72 84.71L283.76 84.71ZM289.08 85.9L290.56 88.55L287.6 88.55ZM292.16 83.6L293.63 86.24L290.68 86.24ZM296 78.22L297.47 80.87L294.52 80.87ZM299.84 76.69L301.31 79.33L298.36 79.33ZM302.91 75.15L304.39 77.8L301.43 77.8Z" fill="#9446f0"/>
<path d="M183.9 66.88 L187.61 70.72 L191.45 75.33 L195.29 77.63 L198.36 76.87 L202.2 79.94 L206.04 83.78 L209.88 86.08 L213.72 89.16 L216.79 94.53 L220.63 101.44 L224.47 100.68 L227.55 102.98 L231.39 104.52 L235.23 107.59 L239.07 109.12 L242.91 111.43 L244.23 103.59 L248.38 102.05 L252.22 98.98 L256.06 96.68 L259.9 98.98 L263.74 96.68 L267.58 98.98 L270.65 100.52 L274.49 97.44 L278.33 96.68 L281.4 94.37 L285.24 91.3 L289.08 90.53 L292.16 86.69 L296 83.62 L299.84 82.08 L302.91 80.55" fill="none" stroke="#7e22ea" stroke-width="0.85" stroke-linejoin="round"/>
<path d="M183.9 65.33L185.38 67.97L182.42 67.97ZM187.61 69.17L189.09 71.81L186.13 71.81ZM191.45 73.77L192.93 76.42L189.97 76.42ZM195.29 76.08L196.77 78.72L193.81 78.72ZM198.36 75.31L199.84 77.96L196.88 77.96ZM202.2 78.38L203.68 81.03L200.72 81.03ZM206.04 82.22L207.52 84.87L204.56 84.87ZM209.88 84.53L211.36 87.17L208.4 87.17ZM213.72 87.6L215.2 90.24L212.24 90.24ZM216.79 92.98L218.27 95.62L215.32 95.62ZM220.63 99.89L222.11 102.53L219.16 102.53ZM224.47 99.12L225.95 101.77L223 101.77ZM227.55 101.42L229.03 104.07L226.07 104.07ZM231.39 102.96L232.87 105.61L229.91 105.61ZM235.23 106.03L236.71 108.68L233.75 108.68ZM239.07 107.57L240.55 110.21L237.59 110.21ZM242.91 109.87L244.39 112.52L241.43 112.52ZM244.23 102.03L245.71 104.68L242.75 104.68ZM248.38 100.5L249.85 103.14L246.9 103.14ZM252.22 97.42L253.7 100.07L250.74 100.07ZM256.06 95.12L257.54 97.77L254.58 97.77ZM259.9 97.42L261.38 100.07L258.42 100.07ZM263.74 95.12L265.22 97.77L262.26 97.77ZM267.58 97.42L269.06 100.07L266.1 100.07ZM270.65 98.96L272.13 101.61L269.17 101.61ZM274.49 95.89L275.97 98.53L273.01 98.53ZM278.33 95.12L279.81 97.77L276.85 97.77ZM281.4 92.82L282.88 95.46L279.92 95.46ZM285.24 89.74L286.72 92.39L283.76 92.39ZM289.08 88.98L290.56 91.62L287.6 91.62ZM292.16 85.13L293.63 87.78L290.68 87.78ZM296 82.06L297.47 84.71L294.52 84.71ZM299.84 80.53L301.31 83.17L298.36 83.17ZM302.91 78.99L304.39 81.64L301.43 81.64Z" fill="#7e22ea"/>
<path d="M183.9 46.14 L186.84 53.06 L190.68 63.04 L194.52 61.51 L198.36 66.88 L202.2 72.26 L206.04 73.03 L209.11 70.72 L212.95 76.1 L216.03 86.08 L219.87 92.23 L223.71 90.69 L227.55 94.53 L231.39 94.53 L235.23 93.76 L239.07 99.14 L242.91 99.91 L244.23 105.12 L248.38 104.36 L252.22 103.59 L256.06 102.05 L259.9 101.28 L263.74 102.05 L267.58 100.52 L270.65 102.05 L274.49 101.28 L278.33 99.75 L281.4 98.98 L285.24 96.68 L289.08 95.14 L292.92 92.07 L296 86.69 L299.84 82.85 L302.91 79.01" fill="none" stroke="#6618d0" stroke-width="0.85" stroke-linejoin="round"/>
<path d="M183.9 44.59L185.38 47.23L182.42 47.23ZM186.84 51.5L188.32 54.15L185.36 54.15ZM190.68 61.49L192.16 64.13L189.2 64.13ZM194.52 59.95L196 62.59L193.04 62.59ZM198.36 65.33L199.84 67.97L196.88 67.97ZM202.2 70.7L203.68 73.35L200.72 73.35ZM206.04 71.47L207.52 74.12L204.56 74.12ZM209.11 69.17L210.59 71.81L207.64 71.81ZM212.95 74.54L214.43 77.19L211.48 77.19ZM216.03 84.53L217.5 87.17L214.55 87.17ZM219.87 90.67L221.34 93.32L218.39 93.32ZM223.71 89.13L225.19 91.78L222.23 91.78ZM227.55 92.98L229.03 95.62L226.07 95.62ZM231.39 92.98L232.87 95.62L229.91 95.62ZM235.23 92.21L236.71 94.85L233.75 94.85ZM239.07 97.58L240.55 100.23L237.59 100.23ZM242.91 98.35L244.39 101L241.43 101ZM244.23 103.57L245.71 106.21L242.75 106.21ZM248.38 102.8L249.85 105.45L246.9 105.45ZM252.22 102.03L253.7 104.68L250.74 104.68ZM256.06 100.5L257.54 103.14L254.58 103.14ZM259.9 99.73L261.38 102.37L258.42 102.37ZM263.74 100.5L265.22 103.14L262.26 103.14ZM267.58 98.96L269.06 101.61L266.1 101.61ZM270.65 100.5L272.13 103.14L269.17 103.14ZM274.49 99.73L275.97 102.37L273.01 102.37ZM278.33 98.19L279.81 100.84L276.85 100.84ZM281.4 97.42L282.88 100.07L279.92 100.07ZM285.24 95.12L286.72 97.77L283.76 97.77ZM289.08 93.58L290.56 96.23L287.6 96.23ZM292.92 90.51L294.4 93.16L291.44 93.16ZM296 85.13L297.47 87.78L294.52 87.78ZM299.84 81.29L301.31 83.94L298.36 83.94ZM302.91 77.45L304.39 80.1L301.43 80.1Z" fill="#6618d0"/>
<path d="M183.9 56.9 L186.84 59.2 L190.68 64.58 L194.52 67.65 L198.36 73.03 L202.2 78.4 L206.04 83.01 L209.88 86.08 L213.72 89.92 L217.56 90.69 L220.63 95.3 L223.71 98.37 L227.55 100.68 L231.39 102.21 L235.23 103.75 L239.07 105.28 L242.91 107.59 L244.23 100.52 L248.38 97.44 L252.22 95.91 L256.06 97.44 L259.9 95.14 L263.74 92.07 L267.58 90.53 L270.65 89 L274.49 95.14 L278.33 93.6 L281.4 92.84 L285.24 94.37 L289.08 92.84 L292.92 95.91 L296.76 96.68 L300.6 95.91 L302.91 95.14" fill="none" stroke="#3e0a98" stroke-width="0.85" stroke-linejoin="round"/>
<path d="M183.9 55.34L185.38 57.99L182.42 57.99ZM186.84 57.64L188.32 60.29L185.36 60.29ZM190.68 63.02L192.16 65.67L189.2 65.67ZM194.52 66.09L196 68.74L193.04 68.74ZM198.36 71.47L199.84 74.12L196.88 74.12ZM202.2 76.85L203.68 79.49L200.72 79.49ZM206.04 81.45L207.52 84.1L204.56 84.1ZM209.88 84.53L211.36 87.17L208.4 87.17ZM213.72 88.37L215.2 91.01L212.24 91.01ZM217.56 89.13L219.04 91.78L216.08 91.78ZM220.63 93.74L222.11 96.39L219.16 96.39ZM223.71 96.82L225.19 99.46L222.23 99.46ZM227.55 99.12L229.03 101.77L226.07 101.77ZM231.39 100.66L232.87 103.3L229.91 103.3ZM235.23 102.19L236.71 104.84L233.75 104.84ZM239.07 103.73L240.55 106.37L237.59 106.37ZM242.91 106.03L244.39 108.68L241.43 108.68ZM244.23 98.96L245.71 101.61L242.75 101.61ZM248.38 95.89L249.85 98.53L246.9 98.53ZM252.22 94.35L253.7 97L250.74 97ZM256.06 95.89L257.54 98.53L254.58 98.53ZM259.9 93.58L261.38 96.23L258.42 96.23ZM263.74 90.51L265.22 93.16L262.26 93.16ZM267.58 88.98L269.06 91.62L266.1 91.62ZM270.65 87.44L272.13 90.08L269.17 90.08ZM274.49 93.58L275.97 96.23L273.01 96.23ZM278.33 92.05L279.81 94.69L276.85 94.69ZM281.4 91.28L282.88 93.93L279.92 93.93ZM285.24 92.82L286.72 95.46L283.76 95.46ZM289.08 91.28L290.56 93.93L287.6 93.93ZM292.92 94.35L294.4 97L291.44 97ZM296.76 95.12L298.24 97.77L295.28 97.77ZM300.6 94.35L302.08 97L299.13 97ZM302.91 93.58L304.39 96.23L301.43 96.23Z" fill="#3e0a98"/>
<path d="M183.92 132.17 L186.07 112.2 L188.38 96.84 L190.68 86.08 L194.52 73.79 L198.36 76.1 L202.2 77.63 L206.04 75.33 L209.88 73.03 L212.95 73.79 L216.79 69.95 L219.87 77.63 L223.71 68.42 L227.55 73.03 L231.39 67.65 L234.46 59.2 L238.3 67.65 L242.14 66.88 L244.23 67.49 L248.38 68.26 L252.22 65.95 L256.06 68.26 L259.9 68.26 L263.74 68.26 L266.81 69.03 L270.65 71.33 L274.49 68.26 L278.33 63.65 L281.4 69.03 L285.24 63.65 L289.08 70.56 L292.16 67.49 L296 72.1 L299.84 68.26 L302.91 69.03" fill="none" stroke="#7dec0e" stroke-width="0.85" stroke-linejoin="round"/>
<path d="M182.67 132.17a1.26 1.26 0 1 0 2.51 0a1.26 1.26 0 1 0 -2.51 0ZM184.82 112.2a1.26 1.26 0 1 0 2.51 0a1.26 1.26 0 1 0 -2.51 0ZM187.12 96.84a1.26 1.26 0 1 0 2.51 0a1.26 1.26 0 1 0 -2.51 0ZM189.43 86.08a1.26 1.26 0 1 0 2.51 0a1.26 1.26 0 1 0 -2.51 0ZM193.27 73.79a1.26 1.26 0 1 0 2.51 0a1.26 1.26 0 1 0 -2.51 0ZM197.11 76.1a1.26 1.26 0 1 0 2.51 0a1.26 1.26 0 1 0 -2.51 0ZM200.95 77.63a1.26 1.26 0 1 0 2.51 0a1.26 1.26 0 1 0 -2.51 0ZM204.79 75.33a1.26 1.26 0 1 0 2.51 0a1.26 1.26 0 1 0 -2.51 0ZM208.63 73.03a1.26 1.26 0 1 0 2.51 0a1.26 1.26 0 1 0 -2.51 0ZM211.7 73.79a1.26 1.26 0 1 0 2.51 0a1.26 1.26 0 1 0 -2.51 0ZM215.54 69.95a1.26 1.26 0 1 0 2.51 0a1.26 1.26 0 1 0 -2.51 0ZM218.61 77.63a1.26 1.26 0 1 0 2.51 0a1.26 1.26 0 1 0 -2.51 0ZM222.45 68.42a1.26 1.26 0 1 0 2.51 0a1.26 1.26 0 1 0 -2.51 0ZM226.29 73.03a1.26 1.26 0 1 0 2.51 0a1.26 1.26 0 1 0 -2.51 0ZM230.13 67.65a1.26 1.26 0 1 0 2.51 0a1.26 1.26 0 1 0 -2.51 0ZM233.2 59.2a1.26 1.26 0 1 0 2.51 0a1.26 1.26 0 1 0 -2.51 0ZM237.04 67.65a1.26 1.26 0 1 0 2.51 0a1.26 1.26 0 1 0 -2.51 0ZM240.88 66.88a1.26 1.26 0 1 0 2.51 0a1.26 1.26 0 1 0 -2.51 0ZM242.97 67.49a1.26 1.26 0 1 0 2.51 0a1.26 1.26 0 1 0 -2.51 0ZM247.12 68.26a1.26 1.26 0 1 0 2.51 0a1.26 1.26 0 1 0 -2.51 0ZM250.96 65.95a1.26 1.26 0 1 0 2.51 0a1.26 1.26 0 1 0 -2.51 0ZM254.8 68.26a1.26 1.26 0 1 0 2.51 0a1.26 1.26 0 1 0 -2.51 0ZM258.64 68.26a1.26 1.26 0 1 0 2.51 0a1.26 1.26 0 1 0 -2.51 0ZM262.48 68.26a1.26 1.26 0 1 0 2.51 0a1.26 1.26 0 1 0 -2.51 0ZM265.55 69.03a1.26 1.26 0 1 0 2.51 0a1.26 1.26 0 1 0 -2.51 0ZM269.39 71.33a1.26 1.26 0 1 0 2.51 0a1.26 1.26 0 1 0 -2.51 0ZM273.23 68.26a1.26 1.26 0 1 0 2.51 0a1.26 1.26 0 1 0 -2.51 0ZM277.08 63.65a1.26 1.26 0 1 0 2.51 0a1.26 1.26 0 1 0 -2.51 0ZM280.15 69.03a1.26 1.26 0 1 0 2.51 0a1.26 1.26 0 1 0 -2.51 0ZM283.99 63.65a1.26 1.26 0 1 0 2.51 0a1.26 1.26 0 1 0 -2.51 0ZM287.83 70.56a1.26 1.26 0 1 0 2.51 0a1.26 1.26 0 1 0 -2.51 0ZM290.9 67.49a1.26 1.26 0 1 0 2.51 0a1.26 1.26 0 1 0 -2.51 0ZM294.74 72.1a1.26 1.26 0 1 0 2.51 0a1.26 1.26 0 1 0 -2.51 0ZM298.58 68.26a1.26 1.26 0 1 0 2.51 0a1.26 1.26 0 1 0 -2.51 0ZM301.65 69.03a1.26 1.26 0 1 0 2.51 0a1.26 1.26 0 1 0 -2.51 0Z" fill="#7dec0e"/>
<line x1="244.15" y1="17.6" x2="244.15" y2="138" stroke="#111" stroke-width="1.00"/>
<rect x="183.9" y="17.6" width="120.5" height="120.4" fill="none" stroke="#2a2a2a" stroke-width="1.26"/>
<path d="M181.79 138H186.01M182.59 131.98H185.21M182.59 125.96H185.21M182.59 119.94H185.21M182.59 113.92H185.21M181.79 107.9H186.01M182.59 101.88H185.21M182.59 95.86H185.21M182.59 89.84H185.21M182.59 83.82H185.21M181.79 77.8H186.01M182.59 71.78H185.21M182.59 65.76H185.21M182.59 59.74H185.21M182.59 53.72H185.21M181.79 47.7H186.01M182.59 41.68H185.21M182.59 35.66H185.21M182.59 29.64H185.21M182.59 23.62H185.21M181.79 17.6H186.01M183.9 136.39V139.61M214.03 136.39V139.61M244.15 136.39V139.61M274.27 136.39V139.61M304.4 136.39V139.61" stroke="#2a2a2a" stroke-width="1.15" fill="none"/>
<text transform="translate(180.28 140.87) scale(0.95,1)" font-size="8.03" text-anchor="end">0.0</text>
<text transform="translate(180.28 110.77) scale(0.95,1)" font-size="8.03" text-anchor="end">0.1</text>
<text transform="translate(180.28 80.67) scale(0.95,1)" font-size="8.03" text-anchor="end">0.2</text>
<text transform="translate(180.28 50.57) scale(0.95,1)" font-size="8.03" text-anchor="end">0.3</text>
<text transform="translate(180.28 20.47) scale(0.95,1)" font-size="8.03" text-anchor="end">0.4</text>
<text transform="translate(183.9 146.94) scale(0.95,1)" font-size="8.03" text-anchor="middle">0</text>
<text transform="translate(214.03 146.94) scale(0.95,1)" font-size="8.03" text-anchor="middle">50</text>
<text transform="translate(244.15 146.94) scale(0.95,1)" font-size="8.03" text-anchor="middle">100</text>
<text transform="translate(274.27 146.94) scale(0.95,1)" font-size="8.03" text-anchor="middle">150</text>
<text transform="translate(304.4 146.94) scale(0.95,1)" font-size="8.03" text-anchor="middle">200</text>
<text x="244.15" y="157.88" font-size="8.89" text-anchor="middle">Time [ns]</text>
<text x="244.15" y="11.78" font-size="9.24" text-anchor="middle">PEG/ID2S HE all trials</text>
<path d="M335.79 81.82 L341.3 86.55 L346.03 83.39 L350.76 81.82 L356.27 75.52 L361 63.7 L364.94 69.21 L368.09 77.88 L372.82 73.94 L376.76 75.52 L379.91 72.36 L383.85 73.15 L387 79.46 L390.94 81.03 L395.67 70.79 L397.58 71.58 L401.52 77.88 L405.45 77.88 L409.39 81.82 L413.33 84.97 L417.27 77.09 L420.42 81.03 L424.36 77.88 L428.3 72.36 L432.24 67.64 L435.39 57.39 L439.33 63.7 L443.27 68.42 L446.43 61.33 L450.36 62.91 L454.3 63.7 L457.46 66.06" fill="none" stroke="#dccef6" stroke-width="0.88" stroke-linejoin="round"/>
<path d="M335.79 80.22L337.3 82.94L334.27 82.94ZM341.3 84.95L342.82 87.66L339.79 87.66ZM346.03 81.8L347.55 84.51L344.51 84.51ZM350.76 80.22L352.27 82.94L349.24 82.94ZM356.27 73.92L357.79 76.63L354.76 76.63ZM361 62.1L362.52 64.81L359.48 64.81ZM364.94 67.62L366.46 70.33L363.42 70.33ZM368.09 76.28L369.61 79L366.58 79ZM372.82 72.34L374.34 75.06L371.3 75.06ZM376.76 73.92L378.28 76.63L375.24 76.63ZM379.91 70.77L381.43 73.48L378.39 73.48ZM383.85 71.56L385.37 74.27L382.33 74.27ZM387 77.86L388.52 80.57L385.48 80.57ZM390.94 79.43L392.46 82.15L389.42 82.15ZM395.67 69.19L397.18 71.91L394.15 71.91ZM397.58 69.98L399.09 72.69L396.06 72.69ZM401.52 76.28L403.03 79L400 79ZM405.45 76.28L406.97 79L403.94 79ZM409.39 80.22L410.91 82.94L407.88 82.94ZM413.33 83.37L414.85 86.09L411.82 86.09ZM417.27 75.5L418.79 78.21L415.76 78.21ZM420.42 79.43L421.94 82.15L418.91 82.15ZM424.36 76.28L425.88 79L422.85 79ZM428.3 70.77L429.82 73.48L426.79 73.48ZM432.24 66.04L433.76 68.75L430.73 68.75ZM435.39 55.8L436.91 58.51L433.88 58.51ZM439.33 62.1L440.85 64.81L437.82 64.81ZM443.27 66.83L444.79 69.54L441.76 69.54ZM446.43 59.74L447.94 62.45L444.91 62.45ZM450.36 61.31L451.88 64.03L448.85 64.03ZM454.3 62.1L455.82 64.81L452.79 64.81ZM457.46 64.46L458.97 67.18L455.94 67.18Z" fill="#dccef6"/>
<path d="M335.79 86.55 L339.73 91.27 L343.67 88.12 L347.61 89.7 L350.76 91.27 L354.7 96 L358.64 98.36 L361.79 98.36 L365.73 103.09 L368.88 104.67 L372.82 106.24 L375.97 106.24 L379.91 106.24 L383.06 110.18 L387 103.88 L390.94 107.82 L395.67 111.76 L397.58 114.91 L401.52 110.18 L405.45 110.97 L409.39 109.4 L413.33 106.24 L416.49 92.85 L420.42 92.85 L424.36 93.64 L428.3 94.43 L432.24 95.21 L436.18 92.85 L440.12 94.43 L443.27 92.06 L447.21 90.49 L450.36 91.27 L454.3 94.43 L457.46 96" fill="none" stroke="#c4a0f2" stroke-width="0.88" stroke-linejoin="round"/>
<path d="M335.79 84.95L337.3 87.66L334.27 87.66ZM339.73 89.68L341.24 92.39L338.21 92.39ZM343.67 86.53L345.18 89.24L342.15 89.24ZM347.61 88.1L349.12 90.82L346.09 90.82ZM350.76 89.68L352.27 92.39L349.24 92.39ZM354.7 94.4L356.21 97.12L353.18 97.12ZM358.64 96.77L360.15 99.48L357.12 99.48ZM361.79 96.77L363.31 99.48L360.27 99.48ZM365.73 101.5L367.24 104.21L364.21 104.21ZM368.88 103.07L370.4 105.79L367.36 105.79ZM372.82 104.65L374.34 107.36L371.3 107.36ZM375.97 104.65L377.49 107.36L374.45 107.36ZM379.91 104.65L381.43 107.36L378.39 107.36ZM383.06 108.59L384.58 111.3L381.55 111.3ZM387 102.28L388.52 105L385.48 105ZM390.94 106.22L392.46 108.94L389.42 108.94ZM395.67 110.16L397.18 112.88L394.15 112.88ZM397.58 113.31L399.09 116.03L396.06 116.03ZM401.52 108.59L403.03 111.3L400 111.3ZM405.45 109.37L406.97 112.09L403.94 112.09ZM409.39 107.8L410.91 110.51L407.88 110.51ZM413.33 104.65L414.85 107.36L411.82 107.36ZM416.49 91.25L418 93.97L414.97 93.97ZM420.42 91.25L421.94 93.97L418.91 93.97ZM424.36 92.04L425.88 94.76L422.85 94.76ZM428.3 92.83L429.82 95.54L426.79 95.54ZM432.24 93.62L433.76 96.33L430.73 96.33ZM436.18 91.25L437.7 93.97L434.67 93.97ZM440.12 92.83L441.64 95.54L438.61 95.54ZM443.27 90.47L444.79 93.18L441.76 93.18ZM447.21 88.89L448.73 91.6L445.7 91.6ZM450.36 89.68L451.88 92.39L448.85 92.39ZM454.3 92.83L455.82 95.54L452.79 95.54ZM457.46 94.4L458.97 97.12L455.94 97.12Z" fill="#c4a0f2"/>
<path d="M335.79 78.67 L338.94 83.39 L342.88 89.7 L346.82 92.85 L350.76 94.43 L353.91 97.58 L357.85 96.79 L361 99.15 L364.94 99.15 L368.88 98.36 L372.82 100.73 L376.76 103.88 L379.91 100.73 L383.85 100.73 L387.79 102.3 L391.73 107.03 L395.67 113.34 L397.58 114.12 L401.52 114.91 L405.45 109.4 L409.39 113.34 L413.33 108.61 L417.27 107.82 L421.21 108.61 L425.15 106.24 L428.3 103.09 L432.24 101.52 L436.18 99.94 L440.12 98.36 L443.27 96 L446.43 94.43 L450.36 92.85 L454.3 87.33 L457.46 84.97" fill="none" stroke="#ab74f4" stroke-width="0.88" stroke-linejoin="round"/>
<path d="M335.79 77.07L337.3 79.79L334.27 79.79ZM338.94 81.8L340.46 84.51L337.42 84.51ZM342.88 88.1L344.4 90.82L341.36 90.82ZM346.82 91.25L348.34 93.97L345.3 93.97ZM350.76 92.83L352.27 95.54L349.24 95.54ZM353.91 95.98L355.43 98.69L352.39 98.69ZM357.85 95.19L359.37 97.91L356.33 97.91ZM361 97.56L362.52 100.27L359.48 100.27ZM364.94 97.56L366.46 100.27L363.42 100.27ZM368.88 96.77L370.4 99.48L367.36 99.48ZM372.82 99.13L374.34 101.85L371.3 101.85ZM376.76 102.28L378.28 105L375.24 105ZM379.91 99.13L381.43 101.85L378.39 101.85ZM383.85 99.13L385.37 101.85L382.33 101.85ZM387.79 100.71L389.31 103.42L386.27 103.42ZM391.73 105.44L393.25 108.15L390.21 108.15ZM395.67 111.74L397.18 114.45L394.15 114.45ZM397.58 112.53L399.09 115.24L396.06 115.24ZM401.52 113.31L403.03 116.03L400 116.03ZM405.45 107.8L406.97 110.51L403.94 110.51ZM409.39 111.74L410.91 114.45L407.88 114.45ZM413.33 107.01L414.85 109.73L411.82 109.73ZM417.27 106.22L418.79 108.94L415.76 108.94ZM421.21 107.01L422.73 109.73L419.7 109.73ZM425.15 104.65L426.67 107.36L423.64 107.36ZM428.3 101.5L429.82 104.21L426.79 104.21ZM432.24 99.92L433.76 102.63L430.73 102.63ZM436.18 98.34L437.7 101.06L434.67 101.06ZM440.12 96.77L441.64 99.48L438.61 99.48ZM443.27 94.4L444.79 97.12L441.76 97.12ZM446.43 92.83L447.94 95.54L444.91 95.54ZM450.36 91.25L451.88 93.97L448.85 93.97ZM454.3 85.74L455.82 88.45L452.79 88.45ZM457.46 83.37L458.97 86.09L455.94 86.09Z" fill="#ab74f4"/>
<path d="M335.79 80.24 L338.94 81.82 L342.88 88.12 L346.82 88.91 L350.76 89.7 L353.91 94.43 L357.85 92.85 L361 95.21 L364.94 97.58 L368.09 96 L372.03 97.58 L375.97 99.94 L379.91 99.15 L383.06 91.27 L387 92.85 L390.94 97.58 L395.67 111.76 L397.58 114.91 L401.52 111.76 L405.45 107.03 L409.39 103.09 L413.33 99.94 L417.27 98.36 L421.21 97.58 L425.15 96 L428.3 99.15 L432.24 99.94 L436.18 96 L440.12 94.43 L443.27 91.27 L447.21 91.27 L450.36 88.12 L454.3 89.7 L457.46 92.06" fill="none" stroke="#9446f0" stroke-width="0.88" stroke-linejoin="round"/>
<path d="M335.79 78.65L337.3 81.36L334.27 81.36ZM338.94 80.22L340.46 82.94L337.42 82.94ZM342.88 86.53L344.4 89.24L341.36 89.24ZM346.82 87.31L348.34 90.03L345.3 90.03ZM350.76 88.1L352.27 90.82L349.24 90.82ZM353.91 92.83L355.43 95.54L352.39 95.54ZM357.85 91.25L359.37 93.97L356.33 93.97ZM361 93.62L362.52 96.33L359.48 96.33ZM364.94 95.98L366.46 98.69L363.42 98.69ZM368.09 94.4L369.61 97.12L366.58 97.12ZM372.03 95.98L373.55 98.69L370.51 98.69ZM375.97 98.34L377.49 101.06L374.45 101.06ZM379.91 97.56L381.43 100.27L378.39 100.27ZM383.06 89.68L384.58 92.39L381.55 92.39ZM387 91.25L388.52 93.97L385.48 93.97ZM390.94 95.98L392.46 98.69L389.42 98.69ZM395.67 110.16L397.18 112.88L394.15 112.88ZM397.58 113.31L399.09 116.03L396.06 116.03ZM401.52 110.16L403.03 112.88L400 112.88ZM405.45 105.44L406.97 108.15L403.94 108.15ZM409.39 101.5L410.91 104.21L407.88 104.21ZM413.33 98.34L414.85 101.06L411.82 101.06ZM417.27 96.77L418.79 99.48L415.76 99.48ZM421.21 95.98L422.73 98.69L419.7 98.69ZM425.15 94.4L426.67 97.12L423.64 97.12ZM428.3 97.56L429.82 100.27L426.79 100.27ZM432.24 98.34L433.76 101.06L430.73 101.06ZM436.18 94.4L437.7 97.12L434.67 97.12ZM440.12 92.83L441.64 95.54L438.61 95.54ZM443.27 89.68L444.79 92.39L441.76 92.39ZM447.21 89.68L448.73 92.39L445.7 92.39ZM450.36 86.53L451.88 89.24L448.85 89.24ZM454.3 88.1L455.82 90.82L452.79 90.82ZM457.46 90.47L458.97 93.18L455.94 93.18Z" fill="#9446f0"/>
<path d="M335.79 83.39 L338.94 92.85 L342.88 96 L346.82 103.09 L350.76 101.52 L353.91 103.88 L357.85 102.3 L361 100.73 L364.94 104.67 L368.09 102.3 L372.03 104.67 L375.97 103.09 L379.91 103.88 L383.85 101.52 L387.79 103.09 L391.73 105.46 L395.67 110.18 L397.58 112.55 L401.52 113.34 L405.45 110.18 L409.39 105.46 L413.33 102.3 L417.27 100.73 L421.21 104.67 L425.15 102.3 L428.3 100.73 L432.24 103.88 L436.18 99.15 L440.12 97.58 L443.27 94.43 L446.43 91.27 L450.36 96 L454.3 97.58 L457.46 96" fill="none" stroke="#7e22ea" stroke-width="0.88" stroke-linejoin="round"/>
<path d="M335.79 81.8L337.3 84.51L334.27 84.51ZM338.94 91.25L340.46 93.97L337.42 93.97ZM342.88 94.4L344.4 97.12L341.36 97.12ZM346.82 101.5L348.34 104.21L345.3 104.21ZM350.76 99.92L352.27 102.63L349.24 102.63ZM353.91 102.28L355.43 105L352.39 105ZM357.85 100.71L359.37 103.42L356.33 103.42ZM361 99.13L362.52 101.85L359.48 101.85ZM364.94 103.07L366.46 105.79L363.42 105.79ZM368.09 100.71L369.61 103.42L366.58 103.42ZM372.03 103.07L373.55 105.79L370.51 105.79ZM375.97 101.5L377.49 104.21L374.45 104.21ZM379.91 102.28L381.43 105L378.39 105ZM383.85 99.92L385.37 102.63L382.33 102.63ZM387.79 101.5L389.31 104.21L386.27 104.21ZM391.73 103.86L393.25 106.57L390.21 106.57ZM395.67 108.59L397.18 111.3L394.15 111.3ZM397.58 110.95L399.09 113.66L396.06 113.66ZM401.52 111.74L403.03 114.45L400 114.45ZM405.45 108.59L406.97 111.3L403.94 111.3ZM409.39 103.86L410.91 106.57L407.88 106.57ZM413.33 100.71L414.85 103.42L411.82 103.42ZM417.27 99.13L418.79 101.85L415.76 101.85ZM421.21 103.07L422.73 105.79L419.7 105.79ZM425.15 100.71L426.67 103.42L423.64 103.42ZM428.3 99.13L429.82 101.85L426.79 101.85ZM432.24 102.28L433.76 105L430.73 105ZM436.18 97.56L437.7 100.27L434.67 100.27ZM440.12 95.98L441.64 98.69L438.61 98.69ZM443.27 92.83L444.79 95.54L441.76 95.54ZM446.43 89.68L447.94 92.39L444.91 92.39ZM450.36 94.4L451.88 97.12L448.85 97.12ZM454.3 95.98L455.82 98.69L452.79 98.69ZM457.46 94.4L458.97 97.12L455.94 97.12Z" fill="#7e22ea"/>
<path d="M335.79 75.52 L338.94 81.82 L342.88 84.18 L346.82 81.82 L350.76 82.61 L353.91 83.39 L357.85 88.91 L361 94.43 L364.94 91.27 L368.09 88.12 L372.03 92.85 L375.97 96 L379.91 96.79 L383.85 98.36 L387.79 99.15 L391.73 100.73 L395.67 110.18 L397.58 113.34 L401.52 110.18 L405.45 103.88 L409.39 98.36 L413.33 97.58 L417.27 94.43 L421.21 93.64 L425.15 94.43 L428.3 96.79 L432.24 96 L435.39 92.85 L439.33 89.7 L443.27 88.12 L446.43 86.55 L450.36 84.97 L454.3 86.55 L457.46 85.76" fill="none" stroke="#6618d0" stroke-width="0.88" stroke-linejoin="round"/>
<path d="M335.79 73.92L337.3 76.63L334.27 76.63ZM338.94 80.22L340.46 82.94L337.42 82.94ZM342.88 82.59L344.4 85.3L341.36 85.3ZM346.82 80.22L348.34 82.94L345.3 82.94ZM350.76 81.01L352.27 83.72L349.24 83.72ZM353.91 81.8L355.43 84.51L352.39 84.51ZM357.85 87.31L359.37 90.03L356.33 90.03ZM361 92.83L362.52 95.54L359.48 95.54ZM364.94 89.68L366.46 92.39L363.42 92.39ZM368.09 86.53L369.61 89.24L366.58 89.24ZM372.03 91.25L373.55 93.97L370.51 93.97ZM375.97 94.4L377.49 97.12L374.45 97.12ZM379.91 95.19L381.43 97.91L378.39 97.91ZM383.85 96.77L385.37 99.48L382.33 99.48ZM387.79 97.56L389.31 100.27L386.27 100.27ZM391.73 99.13L393.25 101.85L390.21 101.85ZM395.67 108.59L397.18 111.3L394.15 111.3ZM397.58 111.74L399.09 114.45L396.06 114.45ZM401.52 108.59L403.03 111.3L400 111.3ZM405.45 102.28L406.97 105L403.94 105ZM409.39 96.77L410.91 99.48L407.88 99.48ZM413.33 95.98L414.85 98.69L411.82 98.69ZM417.27 92.83L418.79 95.54L415.76 95.54ZM421.21 92.04L422.73 94.76L419.7 94.76ZM425.15 92.83L426.67 95.54L423.64 95.54ZM428.3 95.19L429.82 97.91L426.79 97.91ZM432.24 94.4L433.76 97.12L430.73 97.12ZM435.39 91.25L436.91 93.97L433.88 93.97ZM439.33 88.1L440.85 90.82L437.82 90.82ZM443.27 86.53L444.79 89.24L441.76 89.24ZM446.43 84.95L447.94 87.66L444.91 87.66ZM450.36 83.37L451.88 86.09L448.85 86.09ZM454.3 84.95L455.82 87.66L452.79 87.66ZM457.46 84.16L458.97 86.88L455.94 86.88Z" fill="#6618d0"/>
<path d="M335.79 73.15 L338.94 91.27 L342.88 83.39 L346.82 84.18 L349.97 83.39 L353.91 81.82 L357.85 87.33 L361 91.27 L364.94 88.12 L368.88 84.97 L372.03 85.76 L375.97 91.27 L379.91 92.85 L383.85 94.43 L387.79 96.79 L390.94 98.36 L395.67 110.97 L397.58 111.76 L401.52 107.03 L405.45 102.3 L409.39 96 L413.33 96 L417.27 95.21 L420.42 96 L424.36 96 L428.3 96.79 L432.24 98.36 L435.39 93.64 L439.33 91.27 L443.27 91.27 L446.43 89.7 L450.36 85.76 L454.3 91.27 L457.46 92.85" fill="none" stroke="#3e0a98" stroke-width="0.88" stroke-linejoin="round"/>
<path d="M335.79 71.56L337.3 74.27L334.27 74.27ZM338.94 89.68L340.46 92.39L337.42 92.39ZM342.88 81.8L344.4 84.51L341.36 84.51ZM346.82 82.59L348.34 85.3L345.3 85.3ZM349.97 81.8L351.49 84.51L348.45 84.51ZM353.91 80.22L355.43 82.94L352.39 82.94ZM357.85 85.74L359.37 88.45L356.33 88.45ZM361 89.68L362.52 92.39L359.48 92.39ZM364.94 86.53L366.46 89.24L363.42 89.24ZM368.88 83.37L370.4 86.09L367.36 86.09ZM372.03 84.16L373.55 86.88L370.51 86.88ZM375.97 89.68L377.49 92.39L374.45 92.39ZM379.91 91.25L381.43 93.97L378.39 93.97ZM383.85 92.83L385.37 95.54L382.33 95.54ZM387.79 95.19L389.31 97.91L386.27 97.91ZM390.94 96.77L392.46 99.48L389.42 99.48ZM395.67 109.37L397.18 112.09L394.15 112.09ZM397.58 110.16L399.09 112.88L396.06 112.88ZM401.52 105.44L403.03 108.15L400 108.15ZM405.45 100.71L406.97 103.42L403.94 103.42ZM409.39 94.4L410.91 97.12L407.88 97.12ZM413.33 94.4L414.85 97.12L411.82 97.12ZM417.27 93.62L418.79 96.33L415.76 96.33ZM420.42 94.4L421.94 97.12L418.91 97.12ZM424.36 94.4L425.88 97.12L422.85 97.12ZM428.3 95.19L429.82 97.91L426.79 97.91ZM432.24 96.77L433.76 99.48L430.73 99.48ZM435.39 92.04L436.91 94.76L433.88 94.76ZM439.33 89.68L440.85 92.39L437.82 92.39ZM443.27 89.68L444.79 92.39L441.76 92.39ZM446.43 88.1L447.94 90.82L444.91 90.82ZM450.36 84.16L451.88 86.88L448.85 86.88ZM454.3 89.68L455.82 92.39L452.79 92.39ZM457.46 91.25L458.97 93.97L455.94 93.97Z" fill="#3e0a98"/>
<path d="M335.32 133.98 L336.89 111.76 L338.94 99.15 L342.09 88.12 L346.03 74.73 L349.97 77.88 L353.91 79.46 L357.85 77.09 L361 75.52 L364.94 74.73 L368.09 71.58 L372.03 77.88 L375.97 69.21 L379.91 73.94 L383.85 66.06 L387 59.76 L390.94 68.42 L394.88 67.64 L397.58 69.21 L401.52 70 L405.45 67.64 L409.39 69.21 L413.33 70 L417.27 69.21 L420.42 70.79 L424.36 72.36 L428.3 69.21 L432.24 65.27 L435.39 69.21 L439.33 64.49 L443.27 71.58 L446.43 69.21 L450.36 73.15 L454.3 69.21 L457.46 70" fill="none" stroke="#7dec0e" stroke-width="0.88" stroke-linejoin="round"/>
<path d="M334.03 133.98a1.29 1.29 0 1 0 2.57 0a1.29 1.29 0 1 0 -2.57 0ZM335.6 111.76a1.29 1.29 0 1 0 2.57 0a1.29 1.29 0 1 0 -2.57 0ZM337.65 99.15a1.29 1.29 0 1 0 2.57 0a1.29 1.29 0 1 0 -2.57 0ZM340.8 88.12a1.29 1.29 0 1 0 2.57 0a1.29 1.29 0 1 0 -2.57 0ZM344.74 74.73a1.29 1.29 0 1 0 2.57 0a1.29 1.29 0 1 0 -2.57 0ZM348.68 77.88a1.29 1.29 0 1 0 2.57 0a1.29 1.29 0 1 0 -2.57 0ZM352.62 79.46a1.29 1.29 0 1 0 2.57 0a1.29 1.29 0 1 0 -2.57 0ZM356.56 77.09a1.29 1.29 0 1 0 2.57 0a1.29 1.29 0 1 0 -2.57 0ZM359.71 75.52a1.29 1.29 0 1 0 2.57 0a1.29 1.29 0 1 0 -2.57 0ZM363.65 74.73a1.29 1.29 0 1 0 2.57 0a1.29 1.29 0 1 0 -2.57 0ZM366.8 71.58a1.29 1.29 0 1 0 2.57 0a1.29 1.29 0 1 0 -2.57 0ZM370.74 77.88a1.29 1.29 0 1 0 2.57 0a1.29 1.29 0 1 0 -2.57 0ZM374.68 69.21a1.29 1.29 0 1 0 2.57 0a1.29 1.29 0 1 0 -2.57 0ZM378.62 73.94a1.29 1.29 0 1 0 2.57 0a1.29 1.29 0 1 0 -2.57 0ZM382.56 66.06a1.29 1.29 0 1 0 2.57 0a1.29 1.29 0 1 0 -2.57 0ZM385.71 59.76a1.29 1.29 0 1 0 2.57 0a1.29 1.29 0 1 0 -2.57 0ZM389.65 68.42a1.29 1.29 0 1 0 2.57 0a1.29 1.29 0 1 0 -2.57 0ZM393.59 67.64a1.29 1.29 0 1 0 2.57 0a1.29 1.29 0 1 0 -2.57 0ZM396.29 69.21a1.29 1.29 0 1 0 2.57 0a1.29 1.29 0 1 0 -2.57 0ZM400.23 70a1.29 1.29 0 1 0 2.57 0a1.29 1.29 0 1 0 -2.57 0ZM404.17 67.64a1.29 1.29 0 1 0 2.57 0a1.29 1.29 0 1 0 -2.57 0ZM408.11 69.21a1.29 1.29 0 1 0 2.57 0a1.29 1.29 0 1 0 -2.57 0ZM412.05 70a1.29 1.29 0 1 0 2.57 0a1.29 1.29 0 1 0 -2.57 0ZM415.99 69.21a1.29 1.29 0 1 0 2.57 0a1.29 1.29 0 1 0 -2.57 0ZM419.14 70.79a1.29 1.29 0 1 0 2.57 0a1.29 1.29 0 1 0 -2.57 0ZM423.08 72.36a1.29 1.29 0 1 0 2.57 0a1.29 1.29 0 1 0 -2.57 0ZM427.02 69.21a1.29 1.29 0 1 0 2.57 0a1.29 1.29 0 1 0 -2.57 0ZM430.96 65.27a1.29 1.29 0 1 0 2.57 0a1.29 1.29 0 1 0 -2.57 0ZM434.11 69.21a1.29 1.29 0 1 0 2.57 0a1.29 1.29 0 1 0 -2.57 0ZM438.05 64.49a1.29 1.29 0 1 0 2.57 0a1.29 1.29 0 1 0 -2.57 0ZM441.99 71.58a1.29 1.29 0 1 0 2.57 0a1.29 1.29 0 1 0 -2.57 0ZM445.14 69.21a1.29 1.29 0 1 0 2.57 0a1.29 1.29 0 1 0 -2.57 0ZM449.08 73.15a1.29 1.29 0 1 0 2.57 0a1.29 1.29 0 1 0 -2.57 0ZM453.02 69.21a1.29 1.29 0 1 0 2.57 0a1.29 1.29 0 1 0 -2.57 0ZM456.17 70a1.29 1.29 0 1 0 2.57 0a1.29 1.29 0 1 0 -2.57 0Z" fill="#7dec0e"/>
<line x1="397.1" y1="17.8" x2="397.1" y2="140.2" stroke="#111" stroke-width="1.03"/>
<rect x="335.3" y="17.8" width="123.6" height="122.4" fill="none" stroke="#2a2a2a" stroke-width="1.29"/>
<path d="M333.14 140.2H337.46M333.96 134.08H336.64M333.96 127.96H336.64M333.96 121.84H336.64M333.96 115.72H336.64M333.14 109.6H337.46M333.96 103.48H336.64M333.96 97.36H336.64M333.96 91.24H336.64M333.96 85.12H336.64M333.14 79H337.46M333.96 72.88H336.64M333.96 66.76H336.64M333.96 60.64H336.64M333.96 54.52H336.64M333.14 48.4H337.46M333.96 42.28H336.64M333.96 36.16H336.64M333.96 30.04H336.64M333.96 23.92H336.64M333.14 17.8H337.46M335.3 138.55V141.85M366.2 138.55V141.85M397.1 138.55V141.85M428 138.55V141.85M458.9 138.55V141.85" stroke="#2a2a2a" stroke-width="1.18" fill="none"/>
<text transform="translate(331.59 143.15) scale(0.95,1)" font-size="8.24" text-anchor="end">0.0</text>
<text transform="translate(331.59 112.55) scale(0.95,1)" font-size="8.24" text-anchor="end">0.1</text>
<text transform="translate(331.59 81.95) scale(0.95,1)" font-size="8.24" text-anchor="end">0.2</text>
<text transform="translate(331.59 51.35) scale(0.95,1)" font-size="8.24" text-anchor="end">0.3</text>
<text transform="translate(331.59 20.75) scale(0.95,1)" font-size="8.24" text-anchor="end">0.4</text>
<text transform="translate(335.3 149.37) scale(0.95,1)" font-size="8.24" text-anchor="middle">0</text>
<text transform="translate(366.2 149.37) scale(0.95,1)" font-size="8.24" text-anchor="middle">50</text>
<text transform="translate(397.1 149.37) scale(0.95,1)" font-size="8.24" text-anchor="middle">100</text>
<text transform="translate(428 149.37) scale(0.95,1)" font-size="8.24" text-anchor="middle">150</text>
<text transform="translate(458.9 149.37) scale(0.95,1)" font-size="8.24" text-anchor="middle">200</text>
<text x="397.1" y="160.59" font-size="9.12" text-anchor="middle">Time [ns]</text>
<text x="397.1" y="11.83" font-size="9.48" text-anchor="middle">PLGA-PEG/ID2S HE all trials</text>
<path d="M33.79 241.52 L37.73 246.24 L42.45 250.97 L47.18 254.12 L51.91 252.55 L56.64 250.18 L61.36 249.39 L66.09 250.18 L70.82 248.61 L75.55 245.46 L78.7 243.88 L83.43 243.88 L87.36 245.46 L91.3 246.24 L93.67 241.52 L93.89 240.3 L98.3 242.67 L102.24 238.73 L106.18 242.67 L109.33 235.58 L113.27 234.79 L117.21 232.42 L121.15 228.49 L125.09 226.12 L130.61 219.03 L134.55 222.18 L138.49 225.33 L142.43 217.45 L145.58 221.39 L148.73 219.03 L152.67 229.27" fill="none" stroke="#dccef6" stroke-width="0.85" stroke-linejoin="round"/>
<path d="M33.79 239.97L35.26 242.6L32.32 242.6ZM37.73 244.69L39.2 247.33L36.26 247.33ZM42.45 249.42L43.93 252.05L40.98 252.05ZM47.18 252.57L48.65 255.21L45.71 255.21ZM51.91 251L53.38 253.63L50.44 253.63ZM56.64 248.63L58.11 251.27L55.17 251.27ZM61.36 247.85L62.84 250.48L59.89 250.48ZM66.09 248.63L67.56 251.27L64.62 251.27ZM70.82 247.06L72.29 249.69L69.35 249.69ZM75.55 243.91L77.02 246.54L74.08 246.54ZM78.7 242.33L80.17 244.96L77.23 244.96ZM83.43 242.33L84.9 244.96L81.95 244.96ZM87.36 243.91L88.84 246.54L85.89 246.54ZM91.3 244.69L92.78 247.33L89.83 247.33ZM93.67 239.97L95.14 242.6L92.2 242.6ZM93.89 238.76L95.36 241.39L92.42 241.39ZM98.3 241.12L99.77 243.75L96.83 243.75ZM102.24 237.18L103.71 239.81L100.77 239.81ZM106.18 241.12L107.65 243.75L104.71 243.75ZM109.33 234.03L110.81 236.66L107.86 236.66ZM113.27 233.24L114.74 235.87L111.8 235.87ZM117.21 230.88L118.68 233.51L115.74 233.51ZM121.15 226.94L122.62 229.57L119.68 229.57ZM125.09 224.57L126.56 227.21L123.62 227.21ZM130.61 217.48L132.08 220.11L129.14 220.11ZM134.55 220.63L136.02 223.27L133.08 223.27ZM138.49 223.79L139.96 226.42L137.01 226.42ZM142.43 215.91L143.9 218.54L140.95 218.54ZM145.58 219.85L147.05 222.48L144.11 222.48ZM148.73 217.48L150.2 220.11L147.26 220.11ZM152.67 227.72L154.14 230.36L151.2 230.36Z" fill="#dccef6"/>
<path d="M33.79 246.24 L36.94 249.39 L40.88 257.27 L44.82 261.21 L48.76 262 L51.91 263.58 L55.85 265.15 L59.79 263.58 L63.73 269.09 L67.67 269.09 L71.61 271.46 L75.55 273.03 L79.49 271.46 L83.43 269.88 L87.36 274.61 L91.3 279.34 L94.46 279.34 L93.89 280.49 L98.3 278.91 L101.45 274.18 L105.39 267.88 L109.33 265.52 L113.27 260.79 L116.42 260 L120.36 255.27 L124.3 260 L127.46 258.43 L131.39 255.27 L134.55 248.97 L137.7 254.49 L140.85 255.27 L144.79 256.85 L148.73 263.15 L152.67 262.36" fill="none" stroke="#c4a0f2" stroke-width="0.85" stroke-linejoin="round"/>
<path d="M33.79 244.69L35.26 247.33L32.32 247.33ZM36.94 247.85L38.41 250.48L35.47 250.48ZM40.88 255.73L42.35 258.36L39.41 258.36ZM44.82 259.66L46.29 262.3L43.35 262.3ZM48.76 260.45L50.23 263.09L47.29 263.09ZM51.91 262.03L53.38 264.66L50.44 264.66ZM55.85 263.6L57.32 266.24L54.38 266.24ZM59.79 262.03L61.26 264.66L58.32 264.66ZM63.73 267.54L65.2 270.18L62.26 270.18ZM67.67 267.54L69.14 270.18L66.2 270.18ZM71.61 269.91L73.08 272.54L70.14 272.54ZM75.55 271.48L77.02 274.12L74.08 274.12ZM79.49 269.91L80.96 272.54L78.01 272.54ZM83.43 268.33L84.9 270.96L81.95 270.96ZM87.36 273.06L88.84 275.69L85.89 275.69ZM91.3 277.79L92.78 280.42L89.83 280.42ZM94.46 277.79L95.93 280.42L92.98 280.42ZM93.89 278.94L95.36 281.57L92.42 281.57ZM98.3 277.36L99.77 279.99L96.83 279.99ZM101.45 272.63L102.93 275.27L99.98 275.27ZM105.39 266.33L106.87 268.96L103.92 268.96ZM109.33 263.97L110.81 266.6L107.86 266.6ZM113.27 259.24L114.74 261.87L111.8 261.87ZM116.42 258.45L117.9 261.09L114.95 261.09ZM120.36 253.73L121.84 256.36L118.89 256.36ZM124.3 258.45L125.78 261.09L122.83 261.09ZM127.46 256.88L128.93 259.51L125.98 259.51ZM131.39 253.73L132.87 256.36L129.92 256.36ZM134.55 247.42L136.02 250.05L133.08 250.05ZM137.7 252.94L139.17 255.57L136.23 255.57ZM140.85 253.73L142.32 256.36L139.38 256.36ZM144.79 255.3L146.26 257.93L143.32 257.93ZM148.73 261.6L150.2 264.24L147.26 264.24ZM152.67 260.82L154.14 263.45L151.2 263.45Z" fill="#c4a0f2"/>
<path d="M33.79 249.39 L37.73 254.12 L41.67 256.49 L44.82 262 L48.76 260.43 L51.91 255.7 L55.85 260.43 L59.79 257.27 L63.73 258.85 L66.88 262 L70.82 262 L73.97 265.15 L77.91 269.09 L81.85 269.88 L85.79 270.67 L89.73 273.03 L93.67 277.76 L93.89 274.18 L97.52 266.3 L101.45 259.21 L105.39 256.06 L109.33 255.27 L113.27 253.7 L116.42 255.27 L120.36 252.91 L124.3 250.55 L128.24 251.33 L131.39 250.55 L134.55 248.97 L138.49 251.33 L141.64 252.91 L144.79 255.27 L148.73 254.49 L152.67 255.27" fill="none" stroke="#ab74f4" stroke-width="0.85" stroke-linejoin="round"/>
<path d="M33.79 247.85L35.26 250.48L32.32 250.48ZM37.73 252.57L39.2 255.21L36.26 255.21ZM41.67 254.94L43.14 257.57L40.2 257.57ZM44.82 260.45L46.29 263.09L43.35 263.09ZM48.76 258.88L50.23 261.51L47.29 261.51ZM51.91 254.15L53.38 256.78L50.44 256.78ZM55.85 258.88L57.32 261.51L54.38 261.51ZM59.79 255.73L61.26 258.36L58.32 258.36ZM63.73 257.3L65.2 259.93L62.26 259.93ZM66.88 260.45L68.35 263.09L65.41 263.09ZM70.82 260.45L72.29 263.09L69.35 263.09ZM73.97 263.6L75.44 266.24L72.5 266.24ZM77.91 267.54L79.38 270.18L76.44 270.18ZM81.85 268.33L83.32 270.96L80.38 270.96ZM85.79 269.12L87.26 271.75L84.32 271.75ZM89.73 271.48L91.2 274.12L88.26 274.12ZM93.67 276.21L95.14 278.84L92.2 278.84ZM93.89 272.63L95.36 275.27L92.42 275.27ZM97.52 264.76L98.99 267.39L96.04 267.39ZM101.45 257.66L102.93 260.3L99.98 260.3ZM105.39 254.51L106.87 257.15L103.92 257.15ZM109.33 253.73L110.81 256.36L107.86 256.36ZM113.27 252.15L114.74 254.78L111.8 254.78ZM116.42 253.73L117.9 256.36L114.95 256.36ZM120.36 251.36L121.84 253.99L118.89 253.99ZM124.3 249L125.78 251.63L122.83 251.63ZM128.24 249.79L129.71 252.42L126.77 252.42ZM131.39 249L132.87 251.63L129.92 251.63ZM134.55 247.42L136.02 250.05L133.08 250.05ZM138.49 249.79L139.96 252.42L137.01 252.42ZM141.64 251.36L143.11 253.99L140.17 253.99ZM144.79 253.73L146.26 256.36L143.32 256.36ZM148.73 252.94L150.2 255.57L147.26 255.57ZM152.67 253.73L154.14 256.36L151.2 256.36Z" fill="#ab74f4"/>
<path d="M33.79 228.12 L36.94 233.64 L40.88 239.15 L44.03 237.58 L47.97 230.49 L51.91 235.21 L55.06 239.94 L59 246.24 L62.15 235.21 L66.09 241.52 L70.03 247.03 L73.18 242.3 L77.12 243.88 L80.27 247.82 L84.21 250.18 L87.36 262 L91.3 276.18 L93.89 278.91 L97.52 274.18 L101.45 269.46 L105.39 263.94 L109.33 262.36 L113.27 256.85 L116.42 254.49 L120.36 256.85 L124.3 253.7 L127.46 255.27 L131.39 252.12 L134.55 249.76 L137.7 245.82 L140.85 254.49 L144.79 252.91 L148.73 253.7 L152.67 252.12" fill="none" stroke="#9446f0" stroke-width="0.85" stroke-linejoin="round"/>
<path d="M33.79 226.57L35.26 229.21L32.32 229.21ZM36.94 232.09L38.41 234.72L35.47 234.72ZM40.88 237.6L42.35 240.24L39.41 240.24ZM44.03 236.03L45.5 238.66L42.56 238.66ZM47.97 228.94L49.44 231.57L46.5 231.57ZM51.91 233.66L53.38 236.3L50.44 236.3ZM55.06 238.39L56.53 241.02L53.59 241.02ZM59 244.69L60.47 247.33L57.53 247.33ZM62.15 233.66L63.62 236.3L60.68 236.3ZM66.09 239.97L67.56 242.6L64.62 242.6ZM70.03 245.48L71.5 248.12L68.56 248.12ZM73.18 240.76L74.65 243.39L71.71 243.39ZM77.12 242.33L78.59 244.96L75.65 244.96ZM80.27 246.27L81.75 248.9L78.8 248.9ZM84.21 248.63L85.68 251.27L82.74 251.27ZM87.36 260.45L88.84 263.09L85.89 263.09ZM91.3 274.63L92.78 277.27L89.83 277.27ZM93.89 277.36L95.36 279.99L92.42 279.99ZM97.52 272.63L98.99 275.27L96.04 275.27ZM101.45 267.91L102.93 270.54L99.98 270.54ZM105.39 262.39L106.87 265.02L103.92 265.02ZM109.33 260.82L110.81 263.45L107.86 263.45ZM113.27 255.3L114.74 257.93L111.8 257.93ZM116.42 252.94L117.9 255.57L114.95 255.57ZM120.36 255.3L121.84 257.93L118.89 257.93ZM124.3 252.15L125.78 254.78L122.83 254.78ZM127.46 253.73L128.93 256.36L125.98 256.36ZM131.39 250.57L132.87 253.21L129.92 253.21ZM134.55 248.21L136.02 250.84L133.08 250.84ZM137.7 244.27L139.17 246.9L136.23 246.9ZM140.85 252.94L142.32 255.57L139.38 255.57ZM144.79 251.36L146.26 253.99L143.32 253.99ZM148.73 252.15L150.2 254.78L147.26 254.78ZM152.67 250.57L154.14 253.21L151.2 253.21Z" fill="#9446f0"/>
<path d="M33.79 230.49 L36.94 236 L40.88 238.36 L44.82 244.67 L47.97 249.39 L51.91 251.76 L55.85 255.7 L59 257.27 L62.94 260.43 L66.09 261.21 L70.03 264.36 L73.18 262.79 L77.12 273.03 L80.27 273.82 L84.21 273.82 L88.15 276.97 L92.09 277.76 L93.89 279.7 L97.52 272.61 L101.45 266.3 L105.39 264.73 L109.33 260 L113.27 255.27 L116.42 256.85 L120.36 255.27 L124.3 253.7 L128.24 256.85 L131.39 260 L134.55 261.58 L137.7 255.27 L141.64 258.43 L145.58 261.58 L148.73 261.58 L152.67 263.15" fill="none" stroke="#7e22ea" stroke-width="0.85" stroke-linejoin="round"/>
<path d="M33.79 228.94L35.26 231.57L32.32 231.57ZM36.94 234.45L38.41 237.08L35.47 237.08ZM40.88 236.82L42.35 239.45L39.41 239.45ZM44.82 243.12L46.29 245.75L43.35 245.75ZM47.97 247.85L49.44 250.48L46.5 250.48ZM51.91 250.21L53.38 252.84L50.44 252.84ZM55.85 254.15L57.32 256.78L54.38 256.78ZM59 255.73L60.47 258.36L57.53 258.36ZM62.94 258.88L64.41 261.51L61.47 261.51ZM66.09 259.66L67.56 262.3L64.62 262.3ZM70.03 262.82L71.5 265.45L68.56 265.45ZM73.18 261.24L74.65 263.87L71.71 263.87ZM77.12 271.48L78.59 274.12L75.65 274.12ZM80.27 272.27L81.75 274.9L78.8 274.9ZM84.21 272.27L85.68 274.9L82.74 274.9ZM88.15 275.42L89.62 278.06L86.68 278.06ZM92.09 276.21L93.56 278.84L90.62 278.84ZM93.89 278.15L95.36 280.78L92.42 280.78ZM97.52 271.06L98.99 273.69L96.04 273.69ZM101.45 264.76L102.93 267.39L99.98 267.39ZM105.39 263.18L106.87 265.81L103.92 265.81ZM109.33 258.45L110.81 261.09L107.86 261.09ZM113.27 253.73L114.74 256.36L111.8 256.36ZM116.42 255.3L117.9 257.93L114.95 257.93ZM120.36 253.73L121.84 256.36L118.89 256.36ZM124.3 252.15L125.78 254.78L122.83 254.78ZM128.24 255.3L129.71 257.93L126.77 257.93ZM131.39 258.45L132.87 261.09L129.92 261.09ZM134.55 260.03L136.02 262.66L133.08 262.66ZM137.7 253.73L139.17 256.36L136.23 256.36ZM141.64 256.88L143.11 259.51L140.17 259.51ZM145.58 260.03L147.05 262.66L144.11 262.66ZM148.73 260.03L150.2 262.66L147.26 262.66ZM152.67 261.6L154.14 264.24L151.2 264.24Z" fill="#7e22ea"/>
<path d="M33.79 241.52 L36.94 244.67 L40.88 250.97 L44.82 253.33 L47.97 257.27 L51.91 258.85 L55.85 260.43 L59 263.58 L62.94 262 L66.09 264.36 L70.03 270.67 L73.18 269.09 L77.12 269.09 L80.27 272.24 L84.21 269.88 L88.15 274.61 L92.09 276.97 L93.89 278.12 L98.3 274.18 L102.24 269.46 L105.39 267.09 L109.33 263.15 L113.27 264.73 L116.42 258.43 L120.36 260 L124.3 261.58 L127.46 256.06 L131.39 253.7 L134.55 254.49 L138.49 252.12 L141.64 256.85 L144.79 253.7 L148.73 255.27 L152.67 256.85" fill="none" stroke="#6618d0" stroke-width="0.85" stroke-linejoin="round"/>
<path d="M33.79 239.97L35.26 242.6L32.32 242.6ZM36.94 243.12L38.41 245.75L35.47 245.75ZM40.88 249.42L42.35 252.05L39.41 252.05ZM44.82 251.79L46.29 254.42L43.35 254.42ZM47.97 255.73L49.44 258.36L46.5 258.36ZM51.91 257.3L53.38 259.93L50.44 259.93ZM55.85 258.88L57.32 261.51L54.38 261.51ZM59 262.03L60.47 264.66L57.53 264.66ZM62.94 260.45L64.41 263.09L61.47 263.09ZM66.09 262.82L67.56 265.45L64.62 265.45ZM70.03 269.12L71.5 271.75L68.56 271.75ZM73.18 267.54L74.65 270.18L71.71 270.18ZM77.12 267.54L78.59 270.18L75.65 270.18ZM80.27 270.7L81.75 273.33L78.8 273.33ZM84.21 268.33L85.68 270.96L82.74 270.96ZM88.15 273.06L89.62 275.69L86.68 275.69ZM92.09 275.42L93.56 278.06L90.62 278.06ZM93.89 276.57L95.36 279.21L92.42 279.21ZM98.3 272.63L99.77 275.27L96.83 275.27ZM102.24 267.91L103.71 270.54L100.77 270.54ZM105.39 265.54L106.87 268.18L103.92 268.18ZM109.33 261.6L110.81 264.24L107.86 264.24ZM113.27 263.18L114.74 265.81L111.8 265.81ZM116.42 256.88L117.9 259.51L114.95 259.51ZM120.36 258.45L121.84 261.09L118.89 261.09ZM124.3 260.03L125.78 262.66L122.83 262.66ZM127.46 254.51L128.93 257.15L125.98 257.15ZM131.39 252.15L132.87 254.78L129.92 254.78ZM134.55 252.94L136.02 255.57L133.08 255.57ZM138.49 250.57L139.96 253.21L137.01 253.21ZM141.64 255.3L143.11 257.93L140.17 257.93ZM144.79 252.15L146.26 254.78L143.32 254.78ZM148.73 253.73L150.2 256.36L147.26 256.36ZM152.67 255.3L154.14 257.93L151.2 257.93Z" fill="#6618d0"/>
<path d="M33.79 235.21 L36.94 236.79 L40.88 237.58 L44.82 237.58 L47.97 250.18 L51.91 258.06 L55.85 257.27 L59 260.43 L62.94 261.21 L66.09 263.58 L70.03 265.94 L73.18 269.88 L77.12 272.24 L80.27 273.82 L84.21 271.46 L88.15 273.03 L92.09 276.18 L93.89 275.76 L98.3 271.03 L101.45 267.88 L105.39 271.03 L109.33 274.18 L112.49 272.61 L116.42 263.15 L120.36 272.61 L124.3 271.03 L127.46 268.67 L130.61 266.3 L134.55 269.46 L138.49 271.03 L141.64 267.88 L145.58 267.09 L148.73 267.09 L152.67 267.88" fill="none" stroke="#3e0a98" stroke-width="0.85" stroke-linejoin="round"/>
<path d="M33.79 233.66L35.26 236.3L32.32 236.3ZM36.94 235.24L38.41 237.87L35.47 237.87ZM40.88 236.03L42.35 238.66L39.41 238.66ZM44.82 236.03L46.29 238.66L43.35 238.66ZM47.97 248.63L49.44 251.27L46.5 251.27ZM51.91 256.51L53.38 259.15L50.44 259.15ZM55.85 255.73L57.32 258.36L54.38 258.36ZM59 258.88L60.47 261.51L57.53 261.51ZM62.94 259.66L64.41 262.3L61.47 262.3ZM66.09 262.03L67.56 264.66L64.62 264.66ZM70.03 264.39L71.5 267.02L68.56 267.02ZM73.18 268.33L74.65 270.96L71.71 270.96ZM77.12 270.7L78.59 273.33L75.65 273.33ZM80.27 272.27L81.75 274.9L78.8 274.9ZM84.21 269.91L85.68 272.54L82.74 272.54ZM88.15 271.48L89.62 274.12L86.68 274.12ZM92.09 274.63L93.56 277.27L90.62 277.27ZM93.89 274.21L95.36 276.84L92.42 276.84ZM98.3 269.48L99.77 272.12L96.83 272.12ZM101.45 266.33L102.93 268.96L99.98 268.96ZM105.39 269.48L106.87 272.12L103.92 272.12ZM109.33 272.63L110.81 275.27L107.86 275.27ZM112.49 271.06L113.96 273.69L111.01 273.69ZM116.42 261.6L117.9 264.24L114.95 264.24ZM120.36 271.06L121.84 273.69L118.89 273.69ZM124.3 269.48L125.78 272.12L122.83 272.12ZM127.46 267.12L128.93 269.75L125.98 269.75ZM130.61 264.76L132.08 267.39L129.14 267.39ZM134.55 267.91L136.02 270.54L133.08 270.54ZM138.49 269.48L139.96 272.12L137.01 272.12ZM141.64 266.33L143.11 268.96L140.17 268.96ZM145.58 265.54L147.05 268.18L144.11 268.18ZM148.73 265.54L150.2 268.18L147.26 268.18ZM152.67 266.33L154.14 268.96L151.2 268.96Z" fill="#3e0a98"/>
<path d="M33.7 297.93 L35.36 282.49 L37.73 265.15 L40.88 254.12 L44.82 239.94 L47.97 242.3 L51.91 244.67 L55.85 243.09 L59 242.3 L62.94 240.73 L66.09 236.79 L70.03 243.88 L73.18 236 L77.12 239.94 L80.27 235.21 L84.21 225.76 L87.36 234.42 L91.3 233.64 L94.46 234.42 L93.89 235.58 L98.3 234.79 L102.24 233.21 L106.18 235.58 L109.33 235.58 L113.27 235.58 L116.42 236.36 L120.36 237.94 L123.52 235.58 L127.46 231.64 L130.61 236.36 L134.55 230.06 L137.7 237.94 L141.64 235.58 L144.79 239.52 L148.73 235.58 L152.67 236.36" fill="none" stroke="#7dec0e" stroke-width="0.85" stroke-linejoin="round"/>
<path d="M32.45 297.93a1.25 1.25 0 1 0 2.5 0a1.25 1.25 0 1 0 -2.5 0ZM34.11 282.49a1.25 1.25 0 1 0 2.5 0a1.25 1.25 0 1 0 -2.5 0ZM36.48 265.15a1.25 1.25 0 1 0 2.5 0a1.25 1.25 0 1 0 -2.5 0ZM39.63 254.12a1.25 1.25 0 1 0 2.5 0a1.25 1.25 0 1 0 -2.5 0ZM43.57 239.94a1.25 1.25 0 1 0 2.5 0a1.25 1.25 0 1 0 -2.5 0ZM46.72 242.3a1.25 1.25 0 1 0 2.5 0a1.25 1.25 0 1 0 -2.5 0ZM50.66 244.67a1.25 1.25 0 1 0 2.5 0a1.25 1.25 0 1 0 -2.5 0ZM54.6 243.09a1.25 1.25 0 1 0 2.5 0a1.25 1.25 0 1 0 -2.5 0ZM57.75 242.3a1.25 1.25 0 1 0 2.5 0a1.25 1.25 0 1 0 -2.5 0ZM61.69 240.73a1.25 1.25 0 1 0 2.5 0a1.25 1.25 0 1 0 -2.5 0ZM64.84 236.79a1.25 1.25 0 1 0 2.5 0a1.25 1.25 0 1 0 -2.5 0ZM68.78 243.88a1.25 1.25 0 1 0 2.5 0a1.25 1.25 0 1 0 -2.5 0ZM71.93 236a1.25 1.25 0 1 0 2.5 0a1.25 1.25 0 1 0 -2.5 0ZM75.87 239.94a1.25 1.25 0 1 0 2.5 0a1.25 1.25 0 1 0 -2.5 0ZM79.02 235.21a1.25 1.25 0 1 0 2.5 0a1.25 1.25 0 1 0 -2.5 0ZM82.96 225.76a1.25 1.25 0 1 0 2.5 0a1.25 1.25 0 1 0 -2.5 0ZM86.12 234.42a1.25 1.25 0 1 0 2.5 0a1.25 1.25 0 1 0 -2.5 0ZM90.06 233.64a1.25 1.25 0 1 0 2.5 0a1.25 1.25 0 1 0 -2.5 0ZM93.21 234.42a1.25 1.25 0 1 0 2.5 0a1.25 1.25 0 1 0 -2.5 0ZM92.64 235.58a1.25 1.25 0 1 0 2.5 0a1.25 1.25 0 1 0 -2.5 0ZM97.05 234.79a1.25 1.25 0 1 0 2.5 0a1.25 1.25 0 1 0 -2.5 0ZM100.99 233.21a1.25 1.25 0 1 0 2.5 0a1.25 1.25 0 1 0 -2.5 0ZM104.93 235.58a1.25 1.25 0 1 0 2.5 0a1.25 1.25 0 1 0 -2.5 0ZM108.08 235.58a1.25 1.25 0 1 0 2.5 0a1.25 1.25 0 1 0 -2.5 0ZM112.02 235.58a1.25 1.25 0 1 0 2.5 0a1.25 1.25 0 1 0 -2.5 0ZM115.18 236.36a1.25 1.25 0 1 0 2.5 0a1.25 1.25 0 1 0 -2.5 0ZM119.12 237.94a1.25 1.25 0 1 0 2.5 0a1.25 1.25 0 1 0 -2.5 0ZM122.27 235.58a1.25 1.25 0 1 0 2.5 0a1.25 1.25 0 1 0 -2.5 0ZM126.21 231.64a1.25 1.25 0 1 0 2.5 0a1.25 1.25 0 1 0 -2.5 0ZM129.36 236.36a1.25 1.25 0 1 0 2.5 0a1.25 1.25 0 1 0 -2.5 0ZM133.3 230.06a1.25 1.25 0 1 0 2.5 0a1.25 1.25 0 1 0 -2.5 0ZM136.45 237.94a1.25 1.25 0 1 0 2.5 0a1.25 1.25 0 1 0 -2.5 0ZM140.39 235.58a1.25 1.25 0 1 0 2.5 0a1.25 1.25 0 1 0 -2.5 0ZM143.54 239.52a1.25 1.25 0 1 0 2.5 0a1.25 1.25 0 1 0 -2.5 0ZM147.48 235.58a1.25 1.25 0 1 0 2.5 0a1.25 1.25 0 1 0 -2.5 0ZM151.42 236.36a1.25 1.25 0 1 0 2.5 0a1.25 1.25 0 1 0 -2.5 0Z" fill="#7dec0e"/>
<line x1="93.65" y1="185.6" x2="93.65" y2="304" stroke="#111" stroke-width="1.00"/>
<rect x="33.7" y="185.6" width="119.9" height="118.4" fill="none" stroke="#2a2a2a" stroke-width="1.25"/>
<path d="M31.6 304H35.8M32.4 298.08H35M32.4 292.16H35M32.4 286.24H35M32.4 280.32H35M31.6 274.4H35.8M32.4 268.48H35M32.4 262.56H35M32.4 256.64H35M32.4 250.72H35M31.6 244.8H35.8M32.4 238.88H35M32.4 232.96H35M32.4 227.04H35M32.4 221.12H35M31.6 215.2H35.8M32.4 209.28H35M32.4 203.36H35M32.4 197.44H35M32.4 191.52H35M31.6 185.6H35.8M33.7 302.4V305.6M63.68 302.4V305.6M93.65 302.4V305.6M123.62 302.4V305.6M153.6 302.4V305.6" stroke="#2a2a2a" stroke-width="1.15" fill="none"/>
<text transform="translate(30.1 306.86) scale(0.95,1)" font-size="7.99" text-anchor="end">0.0</text>
<text transform="translate(30.1 277.26) scale(0.95,1)" font-size="7.99" text-anchor="end">0.1</text>
<text transform="translate(30.1 247.66) scale(0.95,1)" font-size="7.99" text-anchor="end">0.2</text>
<text transform="translate(30.1 218.06) scale(0.95,1)" font-size="7.99" text-anchor="end">0.3</text>
<text transform="translate(30.1 188.46) scale(0.95,1)" font-size="7.99" text-anchor="end">0.4</text>
<text transform="translate(33.7 312.89) scale(0.95,1)" font-size="7.99" text-anchor="middle">0</text>
<text transform="translate(63.68 312.89) scale(0.95,1)" font-size="7.99" text-anchor="middle">50</text>
<text transform="translate(93.65 312.89) scale(0.95,1)" font-size="7.99" text-anchor="middle">100</text>
<text transform="translate(123.62 312.89) scale(0.95,1)" font-size="7.99" text-anchor="middle">150</text>
<text transform="translate(153.6 312.89) scale(0.95,1)" font-size="7.99" text-anchor="middle">200</text>
<text x="93.65" y="323.78" font-size="8.84" text-anchor="middle">Time [ns]</text>
<text x="93.65" y="179.8" font-size="9.19" text-anchor="middle">PLGA/ID2S ME all trials</text>
<text transform="translate(16.11 245.2) rotate(-90)" x="0" y="0" font-size="9.34" text-anchor="middle">ID2S Backbone RMSD [nm]</text>
<path d="M183.79 241.88 L187.73 242.67 L191.67 241.09 L194.82 239.52 L197.18 238.73 L201.12 237.15 L205.06 231.64 L209 233.21 L212.15 232.42 L216.09 235.58 L219.24 231.64 L223.18 228.49 L227.12 233.21 L230.27 240.3 L233.43 238.73 L237.36 237.15 L241.3 237.94 L244.46 238.73 L243.89 237.15 L248.3 239.52 L252.24 235.58 L256.18 234 L259.33 226.91 L262.49 227.7 L266.42 233.21 L270.36 233.21 L273.52 231.64 L277.46 226.91 L280.61 233.21 L284.55 230.06 L288.49 222.97 L291.64 230.85 L295.58 237.15 L299.52 241.88 L303.46 240.3" fill="none" stroke="#dccef6" stroke-width="0.86" stroke-linejoin="round"/>
<path d="M183.79 240.31L185.28 242.98L182.3 242.98ZM187.73 241.1L189.22 243.76L186.24 243.76ZM191.67 239.52L193.16 242.19L190.18 242.19ZM194.82 237.95L196.31 240.61L193.33 240.61ZM197.18 237.16L198.67 239.82L195.69 239.82ZM201.12 235.59L202.61 238.25L199.63 238.25ZM205.06 230.07L206.55 232.73L203.57 232.73ZM209 231.65L210.49 234.31L207.51 234.31ZM212.15 230.86L213.64 233.52L210.66 233.52ZM216.09 234.01L217.58 236.67L214.6 236.67ZM219.24 230.07L220.73 232.73L217.75 232.73ZM223.18 226.92L224.67 229.58L221.69 229.58ZM227.12 231.65L228.61 234.31L225.63 234.31ZM230.27 238.74L231.76 241.4L228.79 241.4ZM233.43 237.16L234.91 239.82L231.94 239.82ZM237.36 235.59L238.85 238.25L235.88 238.25ZM241.3 236.37L242.79 239.04L239.82 239.04ZM244.46 237.16L245.94 239.82L242.97 239.82ZM243.89 235.59L245.38 238.25L242.4 238.25ZM248.3 237.95L249.79 240.61L246.81 240.61ZM252.24 234.01L253.73 236.67L250.75 236.67ZM256.18 232.43L257.67 235.1L254.69 235.1ZM259.33 225.34L260.82 228.01L257.85 228.01ZM262.49 226.13L263.97 228.79L261 228.79ZM266.42 231.65L267.91 234.31L264.94 234.31ZM270.36 231.65L271.85 234.31L268.88 234.31ZM273.52 230.07L275 232.73L272.03 232.73ZM277.46 225.34L278.94 228.01L275.97 228.01ZM280.61 231.65L282.1 234.31L279.12 234.31ZM284.55 228.49L286.03 231.16L283.06 231.16ZM288.49 221.4L289.97 224.07L287 224.07ZM291.64 229.28L293.13 231.95L290.15 231.95ZM295.58 235.59L297.07 238.25L294.09 238.25ZM299.52 240.31L301 242.98L298.03 242.98ZM303.46 238.74L304.94 241.4L301.97 241.4Z" fill="#dccef6"/>
<path d="M183.79 244.24 L187.73 248.18 L191.67 253.7 L195.61 255.27 L198.76 256.85 L202.7 260 L206.64 265.52 L210.58 262.36 L214.52 260 L218.46 256.06 L222.39 256.85 L226.33 260 L230.27 260.79 L234.21 260 L237.36 261.58 L241.3 267.88 L244.46 274.18 L243.89 275.76 L247.52 260 L251.45 255.27 L255.39 241.88 L259.33 236.36 L262.49 244.24 L266.42 248.97 L270.36 247.39 L273.52 253.7 L277.46 255.27 L280.61 247.39 L284.55 244.24 L288.49 250.55 L291.64 255.27 L295.58 252.91 L299.52 245.82 L303.46 241.88" fill="none" stroke="#c4a0f2" stroke-width="0.86" stroke-linejoin="round"/>
<path d="M183.79 242.68L185.28 245.34L182.3 245.34ZM187.73 246.62L189.22 249.28L186.24 249.28ZM191.67 252.13L193.16 254.79L190.18 254.79ZM195.61 253.71L197.09 256.37L194.12 256.37ZM198.76 255.28L200.25 257.95L197.27 257.95ZM202.7 258.43L204.19 261.1L201.21 261.1ZM206.64 263.95L208.13 266.61L205.15 266.61ZM210.58 260.8L212.06 263.46L209.09 263.46ZM214.52 258.43L216 261.1L213.03 261.1ZM218.46 254.49L219.94 257.16L216.97 257.16ZM222.39 255.28L223.88 257.95L220.91 257.95ZM226.33 258.43L227.82 261.1L224.85 261.1ZM230.27 259.22L231.76 261.89L228.79 261.89ZM234.21 258.43L235.7 261.1L232.72 261.1ZM237.36 260.01L238.85 262.67L235.88 262.67ZM241.3 266.31L242.79 268.98L239.82 268.98ZM244.46 272.62L245.94 275.28L242.97 275.28ZM243.89 274.19L245.38 276.86L242.4 276.86ZM247.52 258.43L249 261.1L246.03 261.1ZM251.45 253.71L252.94 256.37L249.97 256.37ZM255.39 240.31L256.88 242.98L253.91 242.98ZM259.33 234.8L260.82 237.46L257.85 237.46ZM262.49 242.68L263.97 245.34L261 245.34ZM266.42 247.4L267.91 250.07L264.94 250.07ZM270.36 245.83L271.85 248.49L268.88 248.49ZM273.52 252.13L275 254.79L272.03 254.79ZM277.46 253.71L278.94 256.37L275.97 256.37ZM280.61 245.83L282.1 248.49L279.12 248.49ZM284.55 242.68L286.03 245.34L283.06 245.34ZM288.49 248.98L289.97 251.64L287 251.64ZM291.64 253.71L293.13 256.37L290.15 256.37ZM295.58 251.34L297.07 254.01L294.09 254.01ZM299.52 244.25L301 246.92L298.03 246.92ZM303.46 240.31L304.94 242.98L301.97 242.98Z" fill="#c4a0f2"/>
<path d="M183.79 255.27 L187.73 258.43 L191.67 255.27 L195.61 260 L198.76 259.21 L202.7 262.36 L205.85 265.52 L209 268.67 L212.15 270.24 L216.09 263.15 L220.03 258.43 L223.18 261.58 L227.12 264.73 L230.27 261.58 L234.21 259.21 L237.36 267.88 L242.09 278.12 L243.89 276.55 L247.52 273.4 L251.45 270.24 L255.39 267.88 L259.33 266.3 L263.27 260 L266.42 256.85 L270.36 253.7 L274.3 250.55 L277.46 256.85 L281.39 255.27 L284.55 260 L288.49 253.7 L292.43 248.18 L295.58 250.55 L299.52 252.91 L303.46 254.49" fill="none" stroke="#ab74f4" stroke-width="0.86" stroke-linejoin="round"/>
<path d="M183.79 253.71L185.28 256.37L182.3 256.37ZM187.73 256.86L189.22 259.52L186.24 259.52ZM191.67 253.71L193.16 256.37L190.18 256.37ZM195.61 258.43L197.09 261.1L194.12 261.1ZM198.76 257.65L200.25 260.31L197.27 260.31ZM202.7 260.8L204.19 263.46L201.21 263.46ZM205.85 263.95L207.34 266.61L204.36 266.61ZM209 267.1L210.49 269.76L207.51 269.76ZM212.15 268.68L213.64 271.34L210.66 271.34ZM216.09 261.59L217.58 264.25L214.6 264.25ZM220.03 256.86L221.52 259.52L218.54 259.52ZM223.18 260.01L224.67 262.67L221.69 262.67ZM227.12 263.16L228.61 265.83L225.63 265.83ZM230.27 260.01L231.76 262.67L228.79 262.67ZM234.21 257.65L235.7 260.31L232.72 260.31ZM237.36 266.31L238.85 268.98L235.88 268.98ZM242.09 276.56L243.58 279.22L240.6 279.22ZM243.89 274.98L245.38 277.64L242.4 277.64ZM247.52 271.83L249 274.49L246.03 274.49ZM251.45 268.68L252.94 271.34L249.97 271.34ZM255.39 266.31L256.88 268.98L253.91 268.98ZM259.33 264.74L260.82 267.4L257.85 267.4ZM263.27 258.43L264.76 261.1L261.78 261.1ZM266.42 255.28L267.91 257.95L264.94 257.95ZM270.36 252.13L271.85 254.79L268.88 254.79ZM274.3 248.98L275.79 251.64L272.82 251.64ZM277.46 255.28L278.94 257.95L275.97 257.95ZM281.39 253.71L282.88 256.37L279.91 256.37ZM284.55 258.43L286.03 261.1L283.06 261.1ZM288.49 252.13L289.97 254.79L287 254.79ZM292.43 246.62L293.91 249.28L290.94 249.28ZM295.58 248.98L297.07 251.64L294.09 251.64ZM299.52 251.34L301 254.01L298.03 254.01ZM303.46 252.92L304.94 255.58L301.97 255.58Z" fill="#ab74f4"/>
<path d="M183.79 250.55 L186.94 252.12 L190.09 255.27 L194.03 260 L197.97 253.7 L201.91 252.12 L205.85 255.27 L209 256.85 L212.15 260 L216.09 264.73 L220.03 263.15 L223.18 264.73 L227.12 263.94 L230.27 266.3 L234.21 264.73 L238.15 269.46 L242.09 277.34 L243.89 274.97 L247.52 271.82 L251.45 267.09 L255.39 269.46 L259.33 267.88 L263.27 263.15 L266.42 261.58 L270.36 260 L274.3 255.27 L278.24 261.58 L281.39 267.09 L285.33 266.3 L288.49 260 L292.43 264.73 L295.58 265.52 L299.52 262.36 L303.46 263.15" fill="none" stroke="#9446f0" stroke-width="0.86" stroke-linejoin="round"/>
<path d="M183.79 248.98L185.28 251.64L182.3 251.64ZM186.94 250.56L188.43 253.22L185.45 253.22ZM190.09 253.71L191.58 256.37L188.6 256.37ZM194.03 258.43L195.52 261.1L192.54 261.1ZM197.97 252.13L199.46 254.79L196.48 254.79ZM201.91 250.56L203.4 253.22L200.42 253.22ZM205.85 253.71L207.34 256.37L204.36 256.37ZM209 255.28L210.49 257.95L207.51 257.95ZM212.15 258.43L213.64 261.1L210.66 261.1ZM216.09 263.16L217.58 265.83L214.6 265.83ZM220.03 261.59L221.52 264.25L218.54 264.25ZM223.18 263.16L224.67 265.83L221.69 265.83ZM227.12 262.37L228.61 265.04L225.63 265.04ZM230.27 264.74L231.76 267.4L228.79 267.4ZM234.21 263.16L235.7 265.83L232.72 265.83ZM238.15 267.89L239.64 270.55L236.66 270.55ZM242.09 275.77L243.58 278.43L240.6 278.43ZM243.89 273.4L245.38 276.07L242.4 276.07ZM247.52 270.25L249 272.92L246.03 272.92ZM251.45 265.53L252.94 268.19L249.97 268.19ZM255.39 267.89L256.88 270.55L253.91 270.55ZM259.33 266.31L260.82 268.98L257.85 268.98ZM263.27 261.59L264.76 264.25L261.78 264.25ZM266.42 260.01L267.91 262.67L264.94 262.67ZM270.36 258.43L271.85 261.1L268.88 261.1ZM274.3 253.71L275.79 256.37L272.82 256.37ZM278.24 260.01L279.73 262.67L276.75 262.67ZM281.39 265.53L282.88 268.19L279.91 268.19ZM285.33 264.74L286.82 267.4L283.85 267.4ZM288.49 258.43L289.97 261.1L287 261.1ZM292.43 263.16L293.91 265.83L290.94 265.83ZM295.58 263.95L297.07 266.61L294.09 266.61ZM299.52 260.8L301 263.46L298.03 263.46ZM303.46 261.59L304.94 264.25L301.97 264.25Z" fill="#9446f0"/>
<path d="M183.79 240.3 L186.94 246.61 L190.88 243.46 L194.82 246.61 L197.97 250.55 L201.91 253.7 L205.85 256.85 L209 258.43 L212.94 263.15 L216.09 263.94 L220.03 264.73 L223.18 263.94 L227.12 266.3 L230.27 269.46 L234.21 270.24 L238.15 271.82 L242.09 275.76 L243.89 275.76 L247.52 272.61 L251.45 269.46 L255.39 267.09 L259.33 263.15 L263.27 260 L266.42 258.43 L270.36 260 L274.3 255.27 L278.24 252.12 L281.39 255.27 L285.33 255.27 L288.49 249.76 L292.43 245.82 L295.58 248.18 L299.52 249.76 L303.46 250.55" fill="none" stroke="#7e22ea" stroke-width="0.86" stroke-linejoin="round"/>
<path d="M183.79 238.74L185.28 241.4L182.3 241.4ZM186.94 245.04L188.43 247.7L185.45 247.7ZM190.88 241.89L192.37 244.55L189.39 244.55ZM194.82 245.04L196.31 247.7L193.33 247.7ZM197.97 248.98L199.46 251.64L196.48 251.64ZM201.91 252.13L203.4 254.79L200.42 254.79ZM205.85 255.28L207.34 257.95L204.36 257.95ZM209 256.86L210.49 259.52L207.51 259.52ZM212.94 261.59L214.43 264.25L211.45 264.25ZM216.09 262.37L217.58 265.04L214.6 265.04ZM220.03 263.16L221.52 265.83L218.54 265.83ZM223.18 262.37L224.67 265.04L221.69 265.04ZM227.12 264.74L228.61 267.4L225.63 267.4ZM230.27 267.89L231.76 270.55L228.79 270.55ZM234.21 268.68L235.7 271.34L232.72 271.34ZM238.15 270.25L239.64 272.92L236.66 272.92ZM242.09 274.19L243.58 276.86L240.6 276.86ZM243.89 274.19L245.38 276.86L242.4 276.86ZM247.52 271.04L249 273.7L246.03 273.7ZM251.45 267.89L252.94 270.55L249.97 270.55ZM255.39 265.53L256.88 268.19L253.91 268.19ZM259.33 261.59L260.82 264.25L257.85 264.25ZM263.27 258.43L264.76 261.1L261.78 261.1ZM266.42 256.86L267.91 259.52L264.94 259.52ZM270.36 258.43L271.85 261.1L268.88 261.1ZM274.3 253.71L275.79 256.37L272.82 256.37ZM278.24 250.56L279.73 253.22L276.75 253.22ZM281.39 253.71L282.88 256.37L279.91 256.37ZM285.33 253.71L286.82 256.37L283.85 256.37ZM288.49 248.19L289.97 250.86L287 250.86ZM292.43 244.25L293.91 246.92L290.94 246.92ZM295.58 246.62L297.07 249.28L294.09 249.28ZM299.52 248.19L301 250.86L298.03 250.86ZM303.46 248.98L304.94 251.64L301.97 251.64Z" fill="#7e22ea"/>
<path d="M183.79 245.82 L186.94 248.97 L190.88 255.27 L194.03 262.36 L197.97 267.88 L201.91 262.36 L205.85 261.58 L209 258.43 L212.94 263.94 L216.09 267.09 L220.03 267.09 L223.18 266.3 L227.12 267.88 L230.27 271.03 L234.21 272.61 L238.15 271.82 L242.09 278.12 L243.89 278.12 L247.52 270.24 L251.45 267.88 L255.39 266.3 L259.33 264.73 L263.27 261.58 L266.42 260 L270.36 256.85 L274.3 253.7 L278.24 258.43 L281.39 258.43 L285.33 258.43 L288.49 252.12 L292.43 250.55 L295.58 253.7 L299.52 253.7 L303.46 255.27" fill="none" stroke="#6618d0" stroke-width="0.86" stroke-linejoin="round"/>
<path d="M183.79 244.25L185.28 246.92L182.3 246.92ZM186.94 247.4L188.43 250.07L185.45 250.07ZM190.88 253.71L192.37 256.37L189.39 256.37ZM194.03 260.8L195.52 263.46L192.54 263.46ZM197.97 266.31L199.46 268.98L196.48 268.98ZM201.91 260.8L203.4 263.46L200.42 263.46ZM205.85 260.01L207.34 262.67L204.36 262.67ZM209 256.86L210.49 259.52L207.51 259.52ZM212.94 262.37L214.43 265.04L211.45 265.04ZM216.09 265.53L217.58 268.19L214.6 268.19ZM220.03 265.53L221.52 268.19L218.54 268.19ZM223.18 264.74L224.67 267.4L221.69 267.4ZM227.12 266.31L228.61 268.98L225.63 268.98ZM230.27 269.47L231.76 272.13L228.79 272.13ZM234.21 271.04L235.7 273.7L232.72 273.7ZM238.15 270.25L239.64 272.92L236.66 272.92ZM242.09 276.56L243.58 279.22L240.6 279.22ZM243.89 276.56L245.38 279.22L242.4 279.22ZM247.52 268.68L249 271.34L246.03 271.34ZM251.45 266.31L252.94 268.98L249.97 268.98ZM255.39 264.74L256.88 267.4L253.91 267.4ZM259.33 263.16L260.82 265.83L257.85 265.83ZM263.27 260.01L264.76 262.67L261.78 262.67ZM266.42 258.43L267.91 261.1L264.94 261.1ZM270.36 255.28L271.85 257.95L268.88 257.95ZM274.3 252.13L275.79 254.79L272.82 254.79ZM278.24 256.86L279.73 259.52L276.75 259.52ZM281.39 256.86L282.88 259.52L279.91 259.52ZM285.33 256.86L286.82 259.52L283.85 259.52ZM288.49 250.56L289.97 253.22L287 253.22ZM292.43 248.98L293.91 251.64L290.94 251.64ZM295.58 252.13L297.07 254.79L294.09 254.79ZM299.52 252.13L301 254.79L298.03 254.79ZM303.46 253.71L304.94 256.37L301.97 256.37Z" fill="#6618d0"/>
<path d="M183.79 238.73 L186.94 241.88 L190.88 241.88 L194.03 244.24 L197.97 245.82 L201.91 245.03 L205.06 245.82 L209 248.97 L212.15 250.55 L216.09 235.58 L219.24 252.91 L223.18 248.18 L226.33 253.7 L230.27 255.27 L234.21 248.97 L237.36 263.15 L241.3 275.76 L243.89 277.34 L247.52 271.03 L251.45 263.15 L255.39 252.91 L259.33 258.43 L263.27 261.58 L266.42 260 L270.36 252.12 L273.52 248.97 L277.46 248.97 L280.61 253.7 L284.55 250.55 L288.49 247.39 L291.64 248.97 L295.58 241.88 L299.52 248.18 L303.46 248.97" fill="none" stroke="#3e0a98" stroke-width="0.86" stroke-linejoin="round"/>
<path d="M183.79 237.16L185.28 239.82L182.3 239.82ZM186.94 240.31L188.43 242.98L185.45 242.98ZM190.88 240.31L192.37 242.98L189.39 242.98ZM194.03 242.68L195.52 245.34L192.54 245.34ZM197.97 244.25L199.46 246.92L196.48 246.92ZM201.91 243.46L203.4 246.13L200.42 246.13ZM205.06 244.25L206.55 246.92L203.57 246.92ZM209 247.4L210.49 250.07L207.51 250.07ZM212.15 248.98L213.64 251.64L210.66 251.64ZM216.09 234.01L217.58 236.67L214.6 236.67ZM219.24 251.34L220.73 254.01L217.75 254.01ZM223.18 246.62L224.67 249.28L221.69 249.28ZM226.33 252.13L227.82 254.79L224.85 254.79ZM230.27 253.71L231.76 256.37L228.79 256.37ZM234.21 247.4L235.7 250.07L232.72 250.07ZM237.36 261.59L238.85 264.25L235.88 264.25ZM241.3 274.19L242.79 276.86L239.82 276.86ZM243.89 275.77L245.38 278.43L242.4 278.43ZM247.52 269.47L249 272.13L246.03 272.13ZM251.45 261.59L252.94 264.25L249.97 264.25ZM255.39 251.34L256.88 254.01L253.91 254.01ZM259.33 256.86L260.82 259.52L257.85 259.52ZM263.27 260.01L264.76 262.67L261.78 262.67ZM266.42 258.43L267.91 261.1L264.94 261.1ZM270.36 250.56L271.85 253.22L268.88 253.22ZM273.52 247.4L275 250.07L272.03 250.07ZM277.46 247.4L278.94 250.07L275.97 250.07ZM280.61 252.13L282.1 254.79L279.12 254.79ZM284.55 248.98L286.03 251.64L283.06 251.64ZM288.49 245.83L289.97 248.49L287 248.49ZM291.64 247.4L293.13 250.07L290.15 250.07ZM295.58 240.31L297.07 242.98L294.09 242.98ZM299.52 246.62L301 249.28L298.03 249.28ZM303.46 247.4L304.94 250.07L301.97 250.07Z" fill="#3e0a98"/>
<path d="M183.32 297.82 L184.89 278.91 L186.94 260 L190.09 248.97 L194.03 239.52 L197.97 241.88 L201.91 243.46 L205.85 241.88 L209 240.3 L212.15 239.52 L216.09 236.36 L219.24 242.67 L223.18 235.58 L227.12 239.52 L230.27 235.58 L234.21 224.55 L237.36 233.21 L241.3 232.42 L244.46 233.21 L243.89 234 L248.3 233.21 L252.24 231.64 L256.18 234 L259.33 234.79 L263.27 234 L266.42 235.58 L270.36 237.15 L273.52 234 L277.46 230.06 L280.61 235.58 L284.55 228.49 L287.7 235.58 L291.64 234 L295.58 237.94 L299.52 233.21 L303.46 235.58" fill="none" stroke="#7dec0e" stroke-width="0.86" stroke-linejoin="round"/>
<path d="M182.05 297.82a1.26 1.26 0 1 0 2.53 0a1.26 1.26 0 1 0 -2.53 0ZM183.63 278.91a1.26 1.26 0 1 0 2.53 0a1.26 1.26 0 1 0 -2.53 0ZM185.68 260a1.26 1.26 0 1 0 2.53 0a1.26 1.26 0 1 0 -2.53 0ZM188.83 248.97a1.26 1.26 0 1 0 2.53 0a1.26 1.26 0 1 0 -2.53 0ZM192.77 239.52a1.26 1.26 0 1 0 2.53 0a1.26 1.26 0 1 0 -2.53 0ZM196.71 241.88a1.26 1.26 0 1 0 2.53 0a1.26 1.26 0 1 0 -2.53 0ZM200.65 243.46a1.26 1.26 0 1 0 2.53 0a1.26 1.26 0 1 0 -2.53 0ZM204.59 241.88a1.26 1.26 0 1 0 2.53 0a1.26 1.26 0 1 0 -2.53 0ZM207.74 240.3a1.26 1.26 0 1 0 2.53 0a1.26 1.26 0 1 0 -2.53 0ZM210.89 239.52a1.26 1.26 0 1 0 2.53 0a1.26 1.26 0 1 0 -2.53 0ZM214.83 236.36a1.26 1.26 0 1 0 2.53 0a1.26 1.26 0 1 0 -2.53 0ZM217.98 242.67a1.26 1.26 0 1 0 2.53 0a1.26 1.26 0 1 0 -2.53 0ZM221.92 235.58a1.26 1.26 0 1 0 2.53 0a1.26 1.26 0 1 0 -2.53 0ZM225.86 239.52a1.26 1.26 0 1 0 2.53 0a1.26 1.26 0 1 0 -2.53 0ZM229.01 235.58a1.26 1.26 0 1 0 2.53 0a1.26 1.26 0 1 0 -2.53 0ZM232.95 224.55a1.26 1.26 0 1 0 2.53 0a1.26 1.26 0 1 0 -2.53 0ZM236.1 233.21a1.26 1.26 0 1 0 2.53 0a1.26 1.26 0 1 0 -2.53 0ZM240.04 232.42a1.26 1.26 0 1 0 2.53 0a1.26 1.26 0 1 0 -2.53 0ZM243.19 233.21a1.26 1.26 0 1 0 2.53 0a1.26 1.26 0 1 0 -2.53 0ZM242.63 234a1.26 1.26 0 1 0 2.53 0a1.26 1.26 0 1 0 -2.53 0ZM247.04 233.21a1.26 1.26 0 1 0 2.53 0a1.26 1.26 0 1 0 -2.53 0ZM250.98 231.64a1.26 1.26 0 1 0 2.53 0a1.26 1.26 0 1 0 -2.53 0ZM254.92 234a1.26 1.26 0 1 0 2.53 0a1.26 1.26 0 1 0 -2.53 0ZM258.07 234.79a1.26 1.26 0 1 0 2.53 0a1.26 1.26 0 1 0 -2.53 0ZM262.01 234a1.26 1.26 0 1 0 2.53 0a1.26 1.26 0 1 0 -2.53 0ZM265.16 235.58a1.26 1.26 0 1 0 2.53 0a1.26 1.26 0 1 0 -2.53 0ZM269.1 237.15a1.26 1.26 0 1 0 2.53 0a1.26 1.26 0 1 0 -2.53 0ZM272.25 234a1.26 1.26 0 1 0 2.53 0a1.26 1.26 0 1 0 -2.53 0ZM276.19 230.06a1.26 1.26 0 1 0 2.53 0a1.26 1.26 0 1 0 -2.53 0ZM279.34 235.58a1.26 1.26 0 1 0 2.53 0a1.26 1.26 0 1 0 -2.53 0ZM283.28 228.49a1.26 1.26 0 1 0 2.53 0a1.26 1.26 0 1 0 -2.53 0ZM286.43 235.58a1.26 1.26 0 1 0 2.53 0a1.26 1.26 0 1 0 -2.53 0ZM290.37 234a1.26 1.26 0 1 0 2.53 0a1.26 1.26 0 1 0 -2.53 0ZM294.31 237.94a1.26 1.26 0 1 0 2.53 0a1.26 1.26 0 1 0 -2.53 0ZM298.25 233.21a1.26 1.26 0 1 0 2.53 0a1.26 1.26 0 1 0 -2.53 0ZM302.19 235.58a1.26 1.26 0 1 0 2.53 0a1.26 1.26 0 1 0 -2.53 0Z" fill="#7dec0e"/>
<line x1="243.75" y1="183.9" x2="243.75" y2="303.8" stroke="#111" stroke-width="1.01"/>
<rect x="183.1" y="183.9" width="121.3" height="119.9" fill="none" stroke="#2a2a2a" stroke-width="1.26"/>
<path d="M180.98 303.8H185.22M181.79 297.81H184.41M181.79 291.81H184.41M181.79 285.81H184.41M181.79 279.82H184.41M180.98 273.82H185.22M181.79 267.83H184.41M181.79 261.84H184.41M181.79 255.84H184.41M181.79 249.85H184.41M180.98 243.85H185.22M181.79 237.86H184.41M181.79 231.86H184.41M181.79 225.87H184.41M181.79 219.87H184.41M180.98 213.88H185.22M181.79 207.88H184.41M181.79 201.88H184.41M181.79 195.89H184.41M181.79 189.9H184.41M180.98 183.9H185.22M183.1 302.18V305.42M213.42 302.18V305.42M243.75 302.18V305.42M274.07 302.18V305.42M304.4 302.18V305.42" stroke="#2a2a2a" stroke-width="1.16" fill="none"/>
<text transform="translate(179.46 306.69) scale(0.95,1)" font-size="8.09" text-anchor="end">0.0</text>
<text transform="translate(179.46 276.72) scale(0.95,1)" font-size="8.09" text-anchor="end">0.1</text>
<text transform="translate(179.46 246.74) scale(0.95,1)" font-size="8.09" text-anchor="end">0.2</text>
<text transform="translate(179.46 216.77) scale(0.95,1)" font-size="8.09" text-anchor="end">0.3</text>
<text transform="translate(179.46 186.79) scale(0.95,1)" font-size="8.09" text-anchor="end">0.4</text>
<text transform="translate(183.1 312.8) scale(0.95,1)" font-size="8.09" text-anchor="middle">0</text>
<text transform="translate(213.42 312.8) scale(0.95,1)" font-size="8.09" text-anchor="middle">50</text>
<text transform="translate(243.75 312.8) scale(0.95,1)" font-size="8.09" text-anchor="middle">100</text>
<text transform="translate(274.07 312.8) scale(0.95,1)" font-size="8.09" text-anchor="middle">150</text>
<text transform="translate(304.4 312.8) scale(0.95,1)" font-size="8.09" text-anchor="middle">200</text>
<text x="243.75" y="323.81" font-size="8.95" text-anchor="middle">Time [ns]</text>
<text x="243.75" y="178.04" font-size="9.30" text-anchor="middle">PEG/ID2S ME all trials</text>
<path d="M333.81 244.75 L337.85 248.79 L342.7 250.4 L347.55 249.6 L352.39 248.79 L357.24 247.98 L362.09 248.79 L366.94 250.4 L370.98 249.6 L375.02 247.17 L379.06 246.36 L382.29 248.79 L386.33 247.98 L390.37 244.75 L393.61 243.13 L396.03 240.71 L395.94 239.9 L400.46 240.71 L404.51 242.32 L408.55 243.94 L411.78 239.9 L415.82 237.47 L419.86 231.01 L423.09 233.43 L427.13 228.59 L430.36 221.31 L434.4 222.93 L438.44 220.51 L441.68 223.74 L445.72 223.74 L449.76 217.27 L453.8 220.51 L457.03 222.12" fill="none" stroke="#dccef6" stroke-width="0.88" stroke-linejoin="round"/>
<path d="M333.81 243.14L335.34 245.87L332.28 245.87ZM337.85 247.18L339.38 249.91L336.32 249.91ZM342.7 248.79L344.23 251.53L341.17 251.53ZM347.55 247.99L349.07 250.72L346.02 250.72ZM352.39 247.18L353.92 249.91L350.86 249.91ZM357.24 246.37L358.77 249.11L355.71 249.11ZM362.09 247.18L363.62 249.91L360.56 249.91ZM366.94 248.79L368.47 251.53L365.41 251.53ZM370.98 247.99L372.51 250.72L369.45 250.72ZM375.02 245.56L376.55 248.3L373.49 248.3ZM379.06 244.75L380.59 247.49L377.53 247.49ZM382.29 247.18L383.82 249.91L380.76 249.91ZM386.33 246.37L387.86 249.11L384.8 249.11ZM390.37 243.14L391.9 245.87L388.84 245.87ZM393.61 241.52L395.14 244.26L392.08 244.26ZM396.03 239.1L397.56 241.83L394.5 241.83ZM395.94 238.29L397.47 241.03L394.41 241.03ZM400.46 239.1L401.99 241.83L398.94 241.83ZM404.51 240.71L406.03 243.45L402.98 243.45ZM408.55 242.33L410.07 245.07L407.02 245.07ZM411.78 238.29L413.31 241.03L410.25 241.03ZM415.82 235.87L417.35 238.6L414.29 238.6ZM419.86 229.4L421.39 232.14L418.33 232.14ZM423.09 231.82L424.62 234.56L421.56 234.56ZM427.13 226.98L428.66 229.71L425.6 229.71ZM430.36 219.7L431.89 222.44L428.83 222.44ZM434.4 221.32L435.93 224.06L432.88 224.06ZM438.44 218.9L439.97 221.63L436.92 221.63ZM441.68 222.13L443.21 224.86L440.15 224.86ZM445.72 222.13L447.25 224.86L444.19 224.86ZM449.76 215.66L451.29 218.4L448.23 218.4ZM453.8 218.9L455.33 221.63L452.27 221.63ZM457.03 220.51L458.56 223.25L455.5 223.25Z" fill="#dccef6"/>
<path d="M333.81 248.79 L337.04 252.02 L341.08 252.02 L345.12 256.06 L349.16 257.68 L353.2 258.48 L357.24 256.87 L360.47 259.29 L363.71 256.87 L367.75 258.48 L371.79 256.87 L375.02 260.91 L378.25 256.06 L381.48 263.33 L385.53 268.18 L389.57 272.22 L393.61 277.07 L395.94 279.49 L400.46 273.03 L404.51 264.95 L408.55 262.53 L411.78 252.83 L415.82 250.4 L419.05 255.25 L423.09 260.1 L427.13 263.33 L430.36 258.48 L434.4 261.72 L438.44 260.1 L442.48 258.48 L445.72 260.1 L449.76 259.29 L453.8 257.68 L457.03 244.75" fill="none" stroke="#c4a0f2" stroke-width="0.88" stroke-linejoin="round"/>
<path d="M333.81 247.18L335.34 249.91L332.28 249.91ZM337.04 250.41L338.57 253.15L335.51 253.15ZM341.08 250.41L342.61 253.15L339.55 253.15ZM345.12 254.45L346.65 257.19L343.59 257.19ZM349.16 256.07L350.69 258.8L347.63 258.8ZM353.2 256.88L354.73 259.61L351.67 259.61ZM357.24 255.26L358.77 258L355.71 258ZM360.47 257.68L362 260.42L358.95 260.42ZM363.71 255.26L365.24 258L362.18 258ZM367.75 256.88L369.28 259.61L366.22 259.61ZM371.79 255.26L373.32 258L370.26 258ZM375.02 259.3L376.55 262.04L373.49 262.04ZM378.25 254.45L379.78 257.19L376.72 257.19ZM381.48 261.72L383.01 264.46L379.96 264.46ZM385.53 266.57L387.05 269.31L384 269.31ZM389.57 270.61L391.09 273.35L388.04 273.35ZM393.61 275.46L395.14 278.2L392.08 278.2ZM395.94 277.89L397.47 280.62L394.41 280.62ZM400.46 271.42L401.99 274.16L398.94 274.16ZM404.51 263.34L406.03 266.08L402.98 266.08ZM408.55 260.92L410.07 263.65L407.02 263.65ZM411.78 251.22L413.31 253.95L410.25 253.95ZM415.82 248.79L417.35 251.53L414.29 251.53ZM419.05 253.64L420.58 256.38L417.52 256.38ZM423.09 258.49L424.62 261.23L421.56 261.23ZM427.13 261.72L428.66 264.46L425.6 264.46ZM430.36 256.88L431.89 259.61L428.83 259.61ZM434.4 260.11L435.93 262.84L432.88 262.84ZM438.44 258.49L439.97 261.23L436.92 261.23ZM442.48 256.88L444.01 259.61L440.96 259.61ZM445.72 258.49L447.25 261.23L444.19 261.23ZM449.76 257.68L451.29 260.42L448.23 260.42ZM453.8 256.07L455.33 258.8L452.27 258.8ZM457.03 243.14L458.56 245.87L455.5 245.87Z" fill="#c4a0f2"/>
<path d="M333.81 252.02 L337.85 260.1 L341.89 259.29 L345.12 264.95 L349.16 258.48 L352.39 260.1 L356.43 263.33 L360.47 261.72 L363.71 264.14 L366.94 261.72 L370.98 262.53 L375.02 264.14 L379.06 263.33 L381.48 268.18 L385.53 268.99 L389.57 265.76 L393.61 274.65 L395.94 281.11 L400.46 279.49 L404.51 274.65 L408.55 272.22 L411.78 273.03 L415.82 270.61 L419.86 273.84 L423.9 272.22 L427.13 273.03 L431.17 269.8 L434.4 265.76 L438.44 268.18 L441.68 265.76 L445.72 260.1 L449.76 263.33 L453.8 264.95 L457.03 265.76" fill="none" stroke="#ab74f4" stroke-width="0.88" stroke-linejoin="round"/>
<path d="M333.81 250.41L335.34 253.15L332.28 253.15ZM337.85 258.49L339.38 261.23L336.32 261.23ZM341.89 257.68L343.42 260.42L340.36 260.42ZM345.12 263.34L346.65 266.08L343.59 266.08ZM349.16 256.88L350.69 259.61L347.63 259.61ZM352.39 258.49L353.92 261.23L350.86 261.23ZM356.43 261.72L357.96 264.46L354.91 264.46ZM360.47 260.11L362 262.84L358.95 262.84ZM363.71 262.53L365.24 265.27L362.18 265.27ZM366.94 260.11L368.47 262.84L365.41 262.84ZM370.98 260.92L372.51 263.65L369.45 263.65ZM375.02 262.53L376.55 265.27L373.49 265.27ZM379.06 261.72L380.59 264.46L377.53 264.46ZM381.48 266.57L383.01 269.31L379.96 269.31ZM385.53 267.38L387.05 270.12L384 270.12ZM389.57 264.15L391.09 266.88L388.04 266.88ZM393.61 273.04L395.14 275.77L392.08 275.77ZM395.94 279.5L397.47 282.24L394.41 282.24ZM400.46 277.89L401.99 280.62L398.94 280.62ZM404.51 273.04L406.03 275.77L402.98 275.77ZM408.55 270.61L410.07 273.35L407.02 273.35ZM411.78 271.42L413.31 274.16L410.25 274.16ZM415.82 269L417.35 271.73L414.29 271.73ZM419.86 272.23L421.39 274.96L418.33 274.96ZM423.9 270.61L425.43 273.35L422.37 273.35ZM427.13 271.42L428.66 274.16L425.6 274.16ZM431.17 268.19L432.7 270.92L429.64 270.92ZM434.4 264.15L435.93 266.88L432.88 266.88ZM438.44 266.57L439.97 269.31L436.92 269.31ZM441.68 264.15L443.21 266.88L440.15 266.88ZM445.72 258.49L447.25 261.23L444.19 261.23ZM449.76 261.72L451.29 264.46L448.23 264.46ZM453.8 263.34L455.33 266.08L452.27 266.08ZM457.03 264.15L458.56 266.88L455.5 266.88Z" fill="#ab74f4"/>
<path d="M333.81 247.17 L337.04 253.64 L340.27 253.64 L344.31 251.21 L348.35 247.17 L352.39 252.83 L356.43 256.06 L359.67 256.87 L362.9 257.68 L366.94 261.72 L370.98 252.02 L375.02 258.48 L378.25 256.06 L381.48 258.48 L385.53 264.95 L389.57 268.18 L393.61 273.84 L395.94 277.88 L400.46 274.65 L404.51 269.8 L408.55 266.57 L411.78 263.33 L415.82 263.33 L419.86 264.95 L423.9 264.95 L427.13 264.95 L431.17 266.57 L434.4 264.95 L438.44 258.48 L441.68 256.87 L445.72 254.44 L449.76 258.48 L453.8 260.1 L457.03 260.1" fill="none" stroke="#9446f0" stroke-width="0.88" stroke-linejoin="round"/>
<path d="M333.81 245.56L335.34 248.3L332.28 248.3ZM337.04 252.03L338.57 254.76L335.51 254.76ZM340.27 252.03L341.8 254.76L338.74 254.76ZM344.31 249.6L345.84 252.34L342.78 252.34ZM348.35 245.56L349.88 248.3L346.82 248.3ZM352.39 251.22L353.92 253.95L350.86 253.95ZM356.43 254.45L357.96 257.19L354.91 257.19ZM359.67 255.26L361.2 258L358.14 258ZM362.9 256.07L364.43 258.8L361.37 258.8ZM366.94 260.11L368.47 262.84L365.41 262.84ZM370.98 250.41L372.51 253.15L369.45 253.15ZM375.02 256.88L376.55 259.61L373.49 259.61ZM378.25 254.45L379.78 257.19L376.72 257.19ZM381.48 256.88L383.01 259.61L379.96 259.61ZM385.53 263.34L387.05 266.08L384 266.08ZM389.57 266.57L391.09 269.31L388.04 269.31ZM393.61 272.23L395.14 274.96L392.08 274.96ZM395.94 276.27L397.47 279.01L394.41 279.01ZM400.46 273.04L401.99 275.77L398.94 275.77ZM404.51 268.19L406.03 270.92L402.98 270.92ZM408.55 264.96L410.07 267.69L407.02 267.69ZM411.78 261.72L413.31 264.46L410.25 264.46ZM415.82 261.72L417.35 264.46L414.29 264.46ZM419.86 263.34L421.39 266.08L418.33 266.08ZM423.9 263.34L425.43 266.08L422.37 266.08ZM427.13 263.34L428.66 266.08L425.6 266.08ZM431.17 264.96L432.7 267.69L429.64 267.69ZM434.4 263.34L435.93 266.08L432.88 266.08ZM438.44 256.88L439.97 259.61L436.92 259.61ZM441.68 255.26L443.21 258L440.15 258ZM445.72 252.84L447.25 255.57L444.19 255.57ZM449.76 256.88L451.29 259.61L448.23 259.61ZM453.8 258.49L455.33 261.23L452.27 261.23ZM457.03 258.49L458.56 261.23L455.5 261.23Z" fill="#9446f0"/>
<path d="M333.81 246.36 L337.04 252.83 L341.08 256.87 L345.12 260.1 L348.35 256.06 L352.39 256.87 L356.43 258.48 L360.47 260.1 L363.71 258.48 L367.75 261.72 L370.98 263.33 L374.21 262.53 L378.25 266.57 L381.48 271.41 L385.53 272.22 L389.57 273.84 L393.61 277.88 L395.94 281.92 L400.46 276.26 L404.51 273.84 L408.55 270.61 L411.78 268.18 L415.82 264.95 L419.86 267.37 L423.9 266.57 L427.13 266.57 L431.17 264.95 L434.4 264.14 L438.44 262.53 L441.68 260.1 L445.72 261.72 L449.76 263.33 L453.8 261.72 L457.03 263.33" fill="none" stroke="#7e22ea" stroke-width="0.88" stroke-linejoin="round"/>
<path d="M333.81 244.75L335.34 247.49L332.28 247.49ZM337.04 251.22L338.57 253.95L335.51 253.95ZM341.08 255.26L342.61 258L339.55 258ZM345.12 258.49L346.65 261.23L343.59 261.23ZM348.35 254.45L349.88 257.19L346.82 257.19ZM352.39 255.26L353.92 258L350.86 258ZM356.43 256.88L357.96 259.61L354.91 259.61ZM360.47 258.49L362 261.23L358.95 261.23ZM363.71 256.88L365.24 259.61L362.18 259.61ZM367.75 260.11L369.28 262.84L366.22 262.84ZM370.98 261.72L372.51 264.46L369.45 264.46ZM374.21 260.92L375.74 263.65L372.68 263.65ZM378.25 264.96L379.78 267.69L376.72 267.69ZM381.48 269.8L383.01 272.54L379.96 272.54ZM385.53 270.61L387.05 273.35L384 273.35ZM389.57 272.23L391.09 274.96L388.04 274.96ZM393.61 276.27L395.14 279.01L392.08 279.01ZM395.94 280.31L397.47 283.05L394.41 283.05ZM400.46 274.65L401.99 277.39L398.94 277.39ZM404.51 272.23L406.03 274.96L402.98 274.96ZM408.55 269L410.07 271.73L407.02 271.73ZM411.78 266.57L413.31 269.31L410.25 269.31ZM415.82 263.34L417.35 266.08L414.29 266.08ZM419.86 265.76L421.39 268.5L418.33 268.5ZM423.9 264.96L425.43 267.69L422.37 267.69ZM427.13 264.96L428.66 267.69L425.6 267.69ZM431.17 263.34L432.7 266.08L429.64 266.08ZM434.4 262.53L435.93 265.27L432.88 265.27ZM438.44 260.92L439.97 263.65L436.92 263.65ZM441.68 258.49L443.21 261.23L440.15 261.23ZM445.72 260.11L447.25 262.84L444.19 262.84ZM449.76 261.72L451.29 264.46L448.23 264.46ZM453.8 260.11L455.33 262.84L452.27 262.84ZM457.03 261.72L458.56 264.46L455.5 264.46Z" fill="#7e22ea"/>
<path d="M333.81 250.4 L337.04 255.25 L341.08 256.87 L345.12 258.48 L349.16 260.1 L352.39 263.33 L356.43 264.95 L359.67 265.76 L363.71 266.57 L366.94 267.37 L370.98 266.57 L374.21 268.99 L378.25 265.76 L381.48 267.37 L385.53 270.61 L389.57 273.84 L393.61 276.26 L395.94 279.49 L400.46 277.88 L404.51 273.84 L408.55 272.22 L411.78 273.03 L415.82 271.41 L419.86 272.22 L423.9 272.22 L427.13 271.41 L431.17 270.61 L434.4 269.8 L438.44 268.99 L441.68 268.18 L445.72 268.18 L449.76 265.76 L453.8 268.18 L457.03 268.18" fill="none" stroke="#6618d0" stroke-width="0.88" stroke-linejoin="round"/>
<path d="M333.81 248.79L335.34 251.53L332.28 251.53ZM337.04 253.64L338.57 256.38L335.51 256.38ZM341.08 255.26L342.61 258L339.55 258ZM345.12 256.88L346.65 259.61L343.59 259.61ZM349.16 258.49L350.69 261.23L347.63 261.23ZM352.39 261.72L353.92 264.46L350.86 264.46ZM356.43 263.34L357.96 266.08L354.91 266.08ZM359.67 264.15L361.2 266.88L358.14 266.88ZM363.71 264.96L365.24 267.69L362.18 267.69ZM366.94 265.76L368.47 268.5L365.41 268.5ZM370.98 264.96L372.51 267.69L369.45 267.69ZM374.21 267.38L375.74 270.12L372.68 270.12ZM378.25 264.15L379.78 266.88L376.72 266.88ZM381.48 265.76L383.01 268.5L379.96 268.5ZM385.53 269L387.05 271.73L384 271.73ZM389.57 272.23L391.09 274.96L388.04 274.96ZM393.61 274.65L395.14 277.39L392.08 277.39ZM395.94 277.89L397.47 280.62L394.41 280.62ZM400.46 276.27L401.99 279.01L398.94 279.01ZM404.51 272.23L406.03 274.96L402.98 274.96ZM408.55 270.61L410.07 273.35L407.02 273.35ZM411.78 271.42L413.31 274.16L410.25 274.16ZM415.82 269.8L417.35 272.54L414.29 272.54ZM419.86 270.61L421.39 273.35L418.33 273.35ZM423.9 270.61L425.43 273.35L422.37 273.35ZM427.13 269.8L428.66 272.54L425.6 272.54ZM431.17 269L432.7 271.73L429.64 271.73ZM434.4 268.19L435.93 270.92L432.88 270.92ZM438.44 267.38L439.97 270.12L436.92 270.12ZM441.68 266.57L443.21 269.31L440.15 269.31ZM445.72 266.57L447.25 269.31L444.19 269.31ZM449.76 264.15L451.29 266.88L448.23 266.88ZM453.8 266.57L455.33 269.31L452.27 269.31ZM457.03 266.57L458.56 269.31L455.5 269.31Z" fill="#6618d0"/>
<path d="M333.81 243.94 L337.04 244.75 L341.08 243.94 L345.12 243.94 L349.16 244.75 L352.39 246.36 L356.43 246.36 L359.67 247.17 L363.71 245.56 L366.94 241.52 L370.98 252.83 L374.21 253.64 L378.25 256.87 L381.48 258.48 L385.53 263.33 L389.57 269.8 L393.61 275.45 L396.03 277.88 L395.94 281.11 L400.46 277.07 L404.51 272.22 L408.55 271.41 L411.78 268.18 L415.82 265.76 L419.86 265.76 L423.9 264.95 L427.13 265.76 L431.17 265.76 L434.4 263.33 L438.44 256.87 L441.68 255.25 L445.72 254.44 L449.76 257.68 L453.8 258.48 L457.03 263.33" fill="none" stroke="#3e0a98" stroke-width="0.88" stroke-linejoin="round"/>
<path d="M333.81 242.33L335.34 245.07L332.28 245.07ZM337.04 243.14L338.57 245.87L335.51 245.87ZM341.08 242.33L342.61 245.07L339.55 245.07ZM345.12 242.33L346.65 245.07L343.59 245.07ZM349.16 243.14L350.69 245.87L347.63 245.87ZM352.39 244.75L353.92 247.49L350.86 247.49ZM356.43 244.75L357.96 247.49L354.91 247.49ZM359.67 245.56L361.2 248.3L358.14 248.3ZM363.71 243.95L365.24 246.68L362.18 246.68ZM366.94 239.91L368.47 242.64L365.41 242.64ZM370.98 251.22L372.51 253.95L369.45 253.95ZM374.21 252.03L375.74 254.76L372.68 254.76ZM378.25 255.26L379.78 258L376.72 258ZM381.48 256.88L383.01 259.61L379.96 259.61ZM385.53 261.72L387.05 264.46L384 264.46ZM389.57 268.19L391.09 270.92L388.04 270.92ZM393.61 273.85L395.14 276.58L392.08 276.58ZM396.03 276.27L397.56 279.01L394.5 279.01ZM395.94 279.5L397.47 282.24L394.41 282.24ZM400.46 275.46L401.99 278.2L398.94 278.2ZM404.51 270.61L406.03 273.35L402.98 273.35ZM408.55 269.8L410.07 272.54L407.02 272.54ZM411.78 266.57L413.31 269.31L410.25 269.31ZM415.82 264.15L417.35 266.88L414.29 266.88ZM419.86 264.15L421.39 266.88L418.33 266.88ZM423.9 263.34L425.43 266.08L422.37 266.08ZM427.13 264.15L428.66 266.88L425.6 266.88ZM431.17 264.15L432.7 266.88L429.64 266.88ZM434.4 261.72L435.93 264.46L432.88 264.46ZM438.44 255.26L439.97 258L436.92 258ZM441.68 253.64L443.21 256.38L440.15 256.38ZM445.72 252.84L447.25 255.57L444.19 255.57ZM449.76 256.07L451.29 258.8L448.23 258.8ZM453.8 256.88L455.33 259.61L452.27 259.61ZM457.03 261.72L458.56 264.46L455.5 264.46Z" fill="#3e0a98"/>
<path d="M333.5 300.34 L335.42 281.11 L337.85 265.76 L341.08 252.02 L345.12 241.52 L349.16 243.94 L352.39 245.56 L356.43 244.75 L359.67 243.13 L363.71 241.52 L366.94 238.28 L370.98 244.75 L375.02 236.67 L378.25 240.71 L382.29 235.86 L386.33 226.16 L389.57 235.86 L393.61 234.24 L396.03 235.05 L395.94 235.86 L400.46 236.67 L404.51 234.24 L408.55 235.86 L411.78 236.67 L415.82 235.86 L419.86 237.47 L423.09 239.09 L427.13 235.86 L430.36 232.63 L434.4 235.86 L438.44 231.01 L441.68 239.09 L445.72 235.86 L449.76 239.9 L453.8 235.86 L457.03 237.47" fill="none" stroke="#7dec0e" stroke-width="0.88" stroke-linejoin="round"/>
<path d="M332.2 300.34a1.3 1.3 0 1 0 2.6 0a1.3 1.3 0 1 0 -2.6 0ZM334.13 281.11a1.3 1.3 0 1 0 2.6 0a1.3 1.3 0 1 0 -2.6 0ZM336.55 265.76a1.3 1.3 0 1 0 2.6 0a1.3 1.3 0 1 0 -2.6 0ZM339.78 252.02a1.3 1.3 0 1 0 2.6 0a1.3 1.3 0 1 0 -2.6 0ZM343.82 241.52a1.3 1.3 0 1 0 2.6 0a1.3 1.3 0 1 0 -2.6 0ZM347.86 243.94a1.3 1.3 0 1 0 2.6 0a1.3 1.3 0 1 0 -2.6 0ZM351.1 245.56a1.3 1.3 0 1 0 2.6 0a1.3 1.3 0 1 0 -2.6 0ZM355.14 244.75a1.3 1.3 0 1 0 2.6 0a1.3 1.3 0 1 0 -2.6 0ZM358.37 243.13a1.3 1.3 0 1 0 2.6 0a1.3 1.3 0 1 0 -2.6 0ZM362.41 241.52a1.3 1.3 0 1 0 2.6 0a1.3 1.3 0 1 0 -2.6 0ZM365.64 238.28a1.3 1.3 0 1 0 2.6 0a1.3 1.3 0 1 0 -2.6 0ZM369.68 244.75a1.3 1.3 0 1 0 2.6 0a1.3 1.3 0 1 0 -2.6 0ZM373.72 236.67a1.3 1.3 0 1 0 2.6 0a1.3 1.3 0 1 0 -2.6 0ZM376.95 240.71a1.3 1.3 0 1 0 2.6 0a1.3 1.3 0 1 0 -2.6 0ZM381 235.86a1.3 1.3 0 1 0 2.6 0a1.3 1.3 0 1 0 -2.6 0ZM385.04 226.16a1.3 1.3 0 1 0 2.6 0a1.3 1.3 0 1 0 -2.6 0ZM388.27 235.86a1.3 1.3 0 1 0 2.6 0a1.3 1.3 0 1 0 -2.6 0ZM392.31 234.24a1.3 1.3 0 1 0 2.6 0a1.3 1.3 0 1 0 -2.6 0ZM394.73 235.05a1.3 1.3 0 1 0 2.6 0a1.3 1.3 0 1 0 -2.6 0ZM394.64 235.86a1.3 1.3 0 1 0 2.6 0a1.3 1.3 0 1 0 -2.6 0ZM399.17 236.67a1.3 1.3 0 1 0 2.6 0a1.3 1.3 0 1 0 -2.6 0ZM403.21 234.24a1.3 1.3 0 1 0 2.6 0a1.3 1.3 0 1 0 -2.6 0ZM407.25 235.86a1.3 1.3 0 1 0 2.6 0a1.3 1.3 0 1 0 -2.6 0ZM410.48 236.67a1.3 1.3 0 1 0 2.6 0a1.3 1.3 0 1 0 -2.6 0ZM414.52 235.86a1.3 1.3 0 1 0 2.6 0a1.3 1.3 0 1 0 -2.6 0ZM418.56 237.47a1.3 1.3 0 1 0 2.6 0a1.3 1.3 0 1 0 -2.6 0ZM421.79 239.09a1.3 1.3 0 1 0 2.6 0a1.3 1.3 0 1 0 -2.6 0ZM425.83 235.86a1.3 1.3 0 1 0 2.6 0a1.3 1.3 0 1 0 -2.6 0ZM429.07 232.63a1.3 1.3 0 1 0 2.6 0a1.3 1.3 0 1 0 -2.6 0ZM433.11 235.86a1.3 1.3 0 1 0 2.6 0a1.3 1.3 0 1 0 -2.6 0ZM437.15 231.01a1.3 1.3 0 1 0 2.6 0a1.3 1.3 0 1 0 -2.6 0ZM440.38 239.09a1.3 1.3 0 1 0 2.6 0a1.3 1.3 0 1 0 -2.6 0ZM444.42 235.86a1.3 1.3 0 1 0 2.6 0a1.3 1.3 0 1 0 -2.6 0ZM448.46 239.9a1.3 1.3 0 1 0 2.6 0a1.3 1.3 0 1 0 -2.6 0ZM452.5 235.86a1.3 1.3 0 1 0 2.6 0a1.3 1.3 0 1 0 -2.6 0ZM455.73 237.47a1.3 1.3 0 1 0 2.6 0a1.3 1.3 0 1 0 -2.6 0Z" fill="#7dec0e"/>
<line x1="395.8" y1="185.6" x2="395.8" y2="306.3" stroke="#111" stroke-width="1.04"/>
<rect x="333.5" y="185.6" width="124.6" height="120.7" fill="none" stroke="#2a2a2a" stroke-width="1.30"/>
<path d="M331.32 306.3H335.68M332.15 300.26H334.85M332.15 294.23H334.85M332.15 288.19H334.85M332.15 282.16H334.85M331.32 276.12H335.68M332.15 270.09H334.85M332.15 264.06H334.85M332.15 258.02H334.85M332.15 251.99H334.85M331.32 245.95H335.68M332.15 239.92H334.85M332.15 233.88H334.85M332.15 227.84H334.85M332.15 221.81H334.85M331.32 215.78H335.68M332.15 209.74H334.85M332.15 203.7H334.85M332.15 197.67H334.85M332.15 191.63H334.85M331.32 185.6H335.68M333.5 304.64V307.96M364.65 304.64V307.96M395.8 304.64V307.96M426.95 304.64V307.96M458.1 304.64V307.96" stroke="#2a2a2a" stroke-width="1.19" fill="none"/>
<text transform="translate(329.76 309.27) scale(0.95,1)" font-size="8.31" text-anchor="end">0.0</text>
<text transform="translate(329.76 279.09) scale(0.95,1)" font-size="8.31" text-anchor="end">0.1</text>
<text transform="translate(329.76 248.92) scale(0.95,1)" font-size="8.31" text-anchor="end">0.2</text>
<text transform="translate(329.76 218.74) scale(0.95,1)" font-size="8.31" text-anchor="end">0.3</text>
<text transform="translate(329.76 188.57) scale(0.95,1)" font-size="8.31" text-anchor="end">0.4</text>
<text transform="translate(333.5 315.54) scale(0.95,1)" font-size="8.31" text-anchor="middle">0</text>
<text transform="translate(364.65 315.54) scale(0.95,1)" font-size="8.31" text-anchor="middle">50</text>
<text transform="translate(395.8 315.54) scale(0.95,1)" font-size="8.31" text-anchor="middle">100</text>
<text transform="translate(426.95 315.54) scale(0.95,1)" font-size="8.31" text-anchor="middle">150</text>
<text transform="translate(458.1 315.54) scale(0.95,1)" font-size="8.31" text-anchor="middle">200</text>
<text x="395.8" y="326.86" font-size="9.19" text-anchor="middle">Time [ns]</text>
<text x="395.8" y="179.58" font-size="9.55" text-anchor="middle">PLGA-PEG/ID2S ME all trials</text>
<path d="M30.29 404.02 L33.85 399.98 L37.89 394.32 L41.12 394.32 L45.16 394.32 L49.2 400.79 L53.24 395.94 L55.67 396.75 L59.71 402.4 L62.94 407.25 L66.98 407.25 L71.02 407.25 L74.25 408.06 L78.29 405.64 L81.53 403.21 L85.57 401.6 L89.61 402.4 L92.03 401.6 L91.42 402.4 L95.46 404.02 L99.51 395.13 L103.55 395.94 L106.78 396.75 L110.82 399.17 L114.05 399.98 L118.09 398.36 L121.32 393.52 L125.36 394.32 L128.6 396.75 L132.64 395.94 L135.87 393.52 L139.91 396.75 L143.95 398.36 L147.99 399.17 L152.03 399.98" fill="none" stroke="#dccef6" stroke-width="0.87" stroke-linejoin="round"/>
<path d="M30.29 402.44L31.79 405.13L28.79 405.13ZM33.85 398.4L35.35 401.08L32.35 401.08ZM37.89 392.74L39.39 395.43L36.39 395.43ZM41.12 392.74L42.62 395.43L39.62 395.43ZM45.16 392.74L46.66 395.43L43.66 395.43ZM49.2 399.21L50.7 401.89L47.7 401.89ZM53.24 394.36L54.74 397.04L51.74 397.04ZM55.67 395.17L57.17 397.85L54.17 397.85ZM59.71 400.83L61.21 403.51L58.21 403.51ZM62.94 405.67L64.44 408.36L61.44 408.36ZM66.98 405.67L68.48 408.36L65.48 408.36ZM71.02 405.67L72.52 408.36L69.52 408.36ZM74.25 406.48L75.75 409.17L72.75 409.17ZM78.29 404.06L79.79 406.74L76.79 406.74ZM81.53 401.63L83.02 404.32L80.03 404.32ZM85.57 400.02L87.07 402.7L84.07 402.7ZM89.61 400.83L91.11 403.51L88.11 403.51ZM92.03 400.02L93.53 402.7L90.53 402.7ZM91.42 400.83L92.92 403.51L89.92 403.51ZM95.46 402.44L96.96 405.13L93.97 405.13ZM99.51 393.55L101 396.24L98.01 396.24ZM103.55 394.36L105.04 397.04L102.05 397.04ZM106.78 395.17L108.28 397.85L105.28 397.85ZM110.82 397.59L112.32 400.28L109.32 400.28ZM114.05 398.4L115.55 401.08L112.55 401.08ZM118.09 396.79L119.59 399.47L116.59 399.47ZM121.32 391.94L122.82 394.62L119.82 394.62ZM125.36 392.74L126.86 395.43L123.86 395.43ZM128.6 395.17L130.1 397.85L127.1 397.85ZM132.64 394.36L134.14 397.04L131.14 397.04ZM135.87 391.94L137.37 394.62L134.37 394.62ZM139.91 395.17L141.41 397.85L138.41 397.85ZM143.95 396.79L145.45 399.47L142.45 399.47ZM147.99 397.59L149.49 400.28L146.49 400.28ZM152.03 398.4L153.53 401.08L150.53 401.08Z" fill="#dccef6"/>
<path d="M30.29 410.48 L33.04 420.18 L37.08 426.65 L41.12 425.03 L45.16 425.84 L48.39 425.84 L52.43 429.07 L55.67 429.88 L59.71 428.26 L62.94 414.53 L66.98 425.03 L69.4 421.8 L72.64 410.48 L77.48 402.4 L81.53 405.64 L84.76 407.25 L88.8 429.88 L92.03 436.34 L91.42 438.77 L95.46 435.54 L99.51 433.92 L103.55 431.49 L106.78 431.49 L110.82 429.88 L114.86 431.49 L118.09 428.26 L122.13 425.03 L125.36 427.45 L129.4 429.88 L133.44 428.26 L137.48 425.84 L140.72 426.65 L144.76 424.22 L148.8 427.45 L152.03 428.26" fill="none" stroke="#c4a0f2" stroke-width="0.87" stroke-linejoin="round"/>
<path d="M30.29 408.91L31.79 411.59L28.79 411.59ZM33.04 418.6L34.54 421.29L31.54 421.29ZM37.08 425.07L38.58 427.75L35.58 427.75ZM41.12 423.45L42.62 426.14L39.62 426.14ZM45.16 424.26L46.66 426.94L43.66 426.94ZM48.39 424.26L49.89 426.94L46.89 426.94ZM52.43 427.49L53.93 430.18L50.93 430.18ZM55.67 428.3L57.17 430.98L54.17 430.98ZM59.71 426.68L61.21 429.37L58.21 429.37ZM62.94 412.95L64.44 415.63L61.44 415.63ZM66.98 423.45L68.48 426.14L65.48 426.14ZM69.4 420.22L70.9 422.9L67.9 422.9ZM72.64 408.91L74.14 411.59L71.14 411.59ZM77.48 400.83L78.98 403.51L75.99 403.51ZM81.53 404.06L83.02 406.74L80.03 406.74ZM84.76 405.67L86.26 408.36L83.26 408.36ZM88.8 428.3L90.3 430.98L87.3 430.98ZM92.03 434.77L93.53 437.45L90.53 437.45ZM91.42 437.19L92.92 439.87L89.92 439.87ZM95.46 433.96L96.96 436.64L93.97 436.64ZM99.51 432.34L101 435.02L98.01 435.02ZM103.55 429.92L105.04 432.6L102.05 432.6ZM106.78 429.92L108.28 432.6L105.28 432.6ZM110.82 428.3L112.32 430.98L109.32 430.98ZM114.86 429.92L116.36 432.6L113.36 432.6ZM118.09 426.68L119.59 429.37L116.59 429.37ZM122.13 423.45L123.63 426.14L120.63 426.14ZM125.36 425.88L126.86 428.56L123.86 428.56ZM129.4 428.3L130.9 430.98L127.9 430.98ZM133.44 426.68L134.94 429.37L131.94 429.37ZM137.48 424.26L138.98 426.94L135.99 426.94ZM140.72 425.07L142.22 427.75L139.22 427.75ZM144.76 422.64L146.26 425.33L143.26 425.33ZM148.8 425.88L150.3 428.56L147.3 428.56ZM152.03 426.68L153.53 429.37L150.53 429.37Z" fill="#c4a0f2"/>
<path d="M30.29 415.33 L33.85 423.41 L37.08 425.03 L41.12 422.61 L45.16 426.65 L48.39 429.88 L52.43 429.88 L55.67 431.49 L58.9 433.11 L62.94 433.92 L66.98 437.15 L70.21 433.11 L74.25 429.88 L77.48 433.11 L81.53 434.73 L84.76 432.3 L89.61 435.54 L91.42 437.15 L95.46 429.88 L99.51 423.41 L103.55 424.22 L106.78 429.88 L110.82 429.88 L114.86 423.41 L118.09 420.99 L122.13 417.76 L125.36 423.41 L129.4 425.03 L133.44 424.22 L136.68 420.99 L140.72 420.18 L144.76 420.18 L148.8 423.41 L152.03 421.8" fill="none" stroke="#ab74f4" stroke-width="0.87" stroke-linejoin="round"/>
<path d="M30.29 413.75L31.79 416.44L28.79 416.44ZM33.85 421.84L35.35 424.52L32.35 424.52ZM37.08 423.45L38.58 426.14L35.58 426.14ZM41.12 421.03L42.62 423.71L39.62 423.71ZM45.16 425.07L46.66 427.75L43.66 427.75ZM48.39 428.3L49.89 430.98L46.89 430.98ZM52.43 428.3L53.93 430.98L50.93 430.98ZM55.67 429.92L57.17 432.6L54.17 432.6ZM58.9 431.53L60.4 434.22L57.4 434.22ZM62.94 432.34L64.44 435.02L61.44 435.02ZM66.98 435.57L68.48 438.26L65.48 438.26ZM70.21 431.53L71.71 434.22L68.71 434.22ZM74.25 428.3L75.75 430.98L72.75 430.98ZM77.48 431.53L78.98 434.22L75.99 434.22ZM81.53 433.15L83.02 435.83L80.03 435.83ZM84.76 430.72L86.26 433.41L83.26 433.41ZM89.61 433.96L91.11 436.64L88.11 436.64ZM91.42 435.57L92.92 438.26L89.92 438.26ZM95.46 428.3L96.96 430.98L93.97 430.98ZM99.51 421.84L101 424.52L98.01 424.52ZM103.55 422.64L105.04 425.33L102.05 425.33ZM106.78 428.3L108.28 430.98L105.28 430.98ZM110.82 428.3L112.32 430.98L109.32 430.98ZM114.86 421.84L116.36 424.52L113.36 424.52ZM118.09 419.41L119.59 422.09L116.59 422.09ZM122.13 416.18L123.63 418.86L120.63 418.86ZM125.36 421.84L126.86 424.52L123.86 424.52ZM129.4 423.45L130.9 426.14L127.9 426.14ZM133.44 422.64L134.94 425.33L131.94 425.33ZM136.68 419.41L138.18 422.09L135.18 422.09ZM140.72 418.6L142.22 421.29L139.22 421.29ZM144.76 418.6L146.26 421.29L143.26 421.29ZM148.8 421.84L150.3 424.52L147.3 424.52ZM152.03 420.22L153.53 422.9L150.53 422.9Z" fill="#ab74f4"/>
<path d="M30.29 370.89 L33.04 371.7 L37.08 370.89 L40.31 364.42 L44.35 371.7 L48.39 371.7 L52.43 375.74 L55.67 375.74 L59.71 378.97 L62.94 370.08 L66.98 384.63 L70.21 377.35 L74.25 403.21 L78.29 405.64 L81.53 405.64 L84.76 405.64 L88.8 429.88 L92.03 436.34 L91.42 436.34 L95.46 431.49 L99.51 426.65 L103.55 423.41 L106.78 421.8 L110.82 418.57 L114.86 414.53 L118.09 410.48 L121.32 405.64 L125.36 413.72 L129.4 415.33 L133.44 413.72 L136.68 413.72 L140.72 414.53 L144.76 413.72 L148.8 415.33 L152.03 416.14" fill="none" stroke="#9446f0" stroke-width="0.87" stroke-linejoin="round"/>
<path d="M30.29 369.31L31.79 371.99L28.79 371.99ZM33.04 370.12L34.54 372.8L31.54 372.8ZM37.08 369.31L38.58 371.99L35.58 371.99ZM40.31 362.85L41.81 365.53L38.81 365.53ZM44.35 370.12L45.85 372.8L42.85 372.8ZM48.39 370.12L49.89 372.8L46.89 372.8ZM52.43 374.16L53.93 376.84L50.93 376.84ZM55.67 374.16L57.17 376.84L54.17 376.84ZM59.71 377.39L61.21 380.07L58.21 380.07ZM62.94 368.5L64.44 371.19L61.44 371.19ZM66.98 383.05L68.48 385.73L65.48 385.73ZM70.21 375.78L71.71 378.46L68.71 378.46ZM74.25 401.63L75.75 404.32L72.75 404.32ZM78.29 404.06L79.79 406.74L76.79 406.74ZM81.53 404.06L83.02 406.74L80.03 406.74ZM84.76 404.06L86.26 406.74L83.26 406.74ZM88.8 428.3L90.3 430.98L87.3 430.98ZM92.03 434.77L93.53 437.45L90.53 437.45ZM91.42 434.77L92.92 437.45L89.92 437.45ZM95.46 429.92L96.96 432.6L93.97 432.6ZM99.51 425.07L101 427.75L98.01 427.75ZM103.55 421.84L105.04 424.52L102.05 424.52ZM106.78 420.22L108.28 422.9L105.28 422.9ZM110.82 416.99L112.32 419.67L109.32 419.67ZM114.86 412.95L116.36 415.63L113.36 415.63ZM118.09 408.91L119.59 411.59L116.59 411.59ZM121.32 404.06L122.82 406.74L119.82 406.74ZM125.36 412.14L126.86 414.82L123.86 414.82ZM129.4 413.75L130.9 416.44L127.9 416.44ZM133.44 412.14L134.94 414.82L131.94 414.82ZM136.68 412.14L138.18 414.82L135.18 414.82ZM140.72 412.95L142.22 415.63L139.22 415.63ZM144.76 412.14L146.26 414.82L143.26 414.82ZM148.8 413.75L150.3 416.44L147.3 416.44ZM152.03 414.56L153.53 417.25L150.53 417.25Z" fill="#9446f0"/>
<path d="M30.29 377.35 L33.53 384.63 L37.08 376.55 L41.12 383.01 L45.16 382.2 L48.39 382.2 L52.43 387.86 L55.67 393.52 L58.9 402.4 L62.94 415.33 L66.17 408.87 L70.21 420.18 L74.25 417.76 L77.48 402.4 L80.72 404.83 L84.76 421.8 L88.8 431.49 L92.03 436.34 L91.42 435.54 L95.46 432.3 L99.51 430.69 L103.55 429.07 L106.78 428.26 L110.82 425.84 L114.86 424.22 L118.09 423.41 L122.13 425.84 L125.36 423.41 L129.4 420.99 L133.44 421.8 L136.68 424.22 L140.72 420.99 L144.76 416.95 L148.8 417.76 L152.03 416.95" fill="none" stroke="#7e22ea" stroke-width="0.87" stroke-linejoin="round"/>
<path d="M30.29 375.78L31.79 378.46L28.79 378.46ZM33.53 383.05L35.02 385.73L32.03 385.73ZM37.08 374.97L38.58 377.65L35.58 377.65ZM41.12 381.43L42.62 384.11L39.62 384.11ZM45.16 380.62L46.66 383.31L43.66 383.31ZM48.39 380.62L49.89 383.31L46.89 383.31ZM52.43 386.28L53.93 388.96L50.93 388.96ZM55.67 391.94L57.17 394.62L54.17 394.62ZM58.9 400.83L60.4 403.51L57.4 403.51ZM62.94 413.75L64.44 416.44L61.44 416.44ZM66.17 407.29L67.67 409.97L64.67 409.97ZM70.21 418.6L71.71 421.29L68.71 421.29ZM74.25 416.18L75.75 418.86L72.75 418.86ZM77.48 400.83L78.98 403.51L75.99 403.51ZM80.72 403.25L82.22 405.93L79.22 405.93ZM84.76 420.22L86.26 422.9L83.26 422.9ZM88.8 429.92L90.3 432.6L87.3 432.6ZM92.03 434.77L93.53 437.45L90.53 437.45ZM91.42 433.96L92.92 436.64L89.92 436.64ZM95.46 430.72L96.96 433.41L93.97 433.41ZM99.51 429.11L101 431.79L98.01 431.79ZM103.55 427.49L105.04 430.18L102.05 430.18ZM106.78 426.68L108.28 429.37L105.28 429.37ZM110.82 424.26L112.32 426.94L109.32 426.94ZM114.86 422.64L116.36 425.33L113.36 425.33ZM118.09 421.84L119.59 424.52L116.59 424.52ZM122.13 424.26L123.63 426.94L120.63 426.94ZM125.36 421.84L126.86 424.52L123.86 424.52ZM129.4 419.41L130.9 422.09L127.9 422.09ZM133.44 420.22L134.94 422.9L131.94 422.9ZM136.68 422.64L138.18 425.33L135.18 425.33ZM140.72 419.41L142.22 422.09L139.22 422.09ZM144.76 415.37L146.26 418.05L143.26 418.05ZM148.8 416.18L150.3 418.86L147.3 418.86ZM152.03 415.37L153.53 418.05L150.53 418.05Z" fill="#7e22ea"/>
<path d="M30.29 400.79 L33.04 417.76 L37.08 428.26 L41.12 423.41 L44.35 429.88 L48.39 430.69 L52.43 430.69 L55.67 433.11 L59.71 426.65 L62.94 424.22 L66.98 428.26 L70.21 431.49 L74.25 431.49 L77.48 432.3 L81.53 431.49 L85.57 433.11 L89.61 435.54 L92.03 436.34 L91.42 437.96 L95.46 433.92 L99.51 433.11 L103.55 429.88 L106.78 428.26 L110.82 426.65 L114.86 426.65 L118.09 425.03 L122.13 425.84 L125.36 429.07 L129.4 429.88 L133.44 431.49 L136.68 429.07 L140.72 424.22 L144.76 428.26 L148.8 425.84 L152.03 427.45" fill="none" stroke="#6618d0" stroke-width="0.87" stroke-linejoin="round"/>
<path d="M30.29 399.21L31.79 401.89L28.79 401.89ZM33.04 416.18L34.54 418.86L31.54 418.86ZM37.08 426.68L38.58 429.37L35.58 429.37ZM41.12 421.84L42.62 424.52L39.62 424.52ZM44.35 428.3L45.85 430.98L42.85 430.98ZM48.39 429.11L49.89 431.79L46.89 431.79ZM52.43 429.11L53.93 431.79L50.93 431.79ZM55.67 431.53L57.17 434.22L54.17 434.22ZM59.71 425.07L61.21 427.75L58.21 427.75ZM62.94 422.64L64.44 425.33L61.44 425.33ZM66.98 426.68L68.48 429.37L65.48 429.37ZM70.21 429.92L71.71 432.6L68.71 432.6ZM74.25 429.92L75.75 432.6L72.75 432.6ZM77.48 430.72L78.98 433.41L75.99 433.41ZM81.53 429.92L83.02 432.6L80.03 432.6ZM85.57 431.53L87.07 434.22L84.07 434.22ZM89.61 433.96L91.11 436.64L88.11 436.64ZM92.03 434.77L93.53 437.45L90.53 437.45ZM91.42 436.38L92.92 439.06L89.92 439.06ZM95.46 432.34L96.96 435.02L93.97 435.02ZM99.51 431.53L101 434.22L98.01 434.22ZM103.55 428.3L105.04 430.98L102.05 430.98ZM106.78 426.68L108.28 429.37L105.28 429.37ZM110.82 425.07L112.32 427.75L109.32 427.75ZM114.86 425.07L116.36 427.75L113.36 427.75ZM118.09 423.45L119.59 426.14L116.59 426.14ZM122.13 424.26L123.63 426.94L120.63 426.94ZM125.36 427.49L126.86 430.18L123.86 430.18ZM129.4 428.3L130.9 430.98L127.9 430.98ZM133.44 429.92L134.94 432.6L131.94 432.6ZM136.68 427.49L138.18 430.18L135.18 430.18ZM140.72 422.64L142.22 425.33L139.22 425.33ZM144.76 426.68L146.26 429.37L143.26 429.37ZM148.8 424.26L150.3 426.94L147.3 426.94ZM152.03 425.88L153.53 428.56L150.53 428.56Z" fill="#6618d0"/>
<path d="M30.29 410.48 L33.85 413.72 L37.08 414.53 L41.12 414.53 L44.35 417.76 L48.39 420.99 L51.63 412.1 L55.67 414.53 L59.71 414.53 L62.94 416.14 L66.98 412.91 L70.21 423.41 L74.25 424.22 L77.48 426.65 L81.53 428.26 L84.76 431.49 L88.8 434.73 L92.03 437.15 L91.42 437.96 L95.46 433.11 L99.51 429.88 L103.55 426.65 L106.78 425.03 L110.82 421.8 L114.86 418.57 L118.09 418.57 L122.13 419.37 L125.36 418.57 L129.4 415.33 L133.44 412.1 L136.68 410.48 L140.72 410.48 L144.76 410.48 L148.8 411.29 L152.03 408.87" fill="none" stroke="#3e0a98" stroke-width="0.87" stroke-linejoin="round"/>
<path d="M30.29 408.91L31.79 411.59L28.79 411.59ZM33.85 412.14L35.35 414.82L32.35 414.82ZM37.08 412.95L38.58 415.63L35.58 415.63ZM41.12 412.95L42.62 415.63L39.62 415.63ZM44.35 416.18L45.85 418.86L42.85 418.86ZM48.39 419.41L49.89 422.09L46.89 422.09ZM51.63 410.52L53.13 413.21L50.13 413.21ZM55.67 412.95L57.17 415.63L54.17 415.63ZM59.71 412.95L61.21 415.63L58.21 415.63ZM62.94 414.56L64.44 417.25L61.44 417.25ZM66.98 411.33L68.48 414.01L65.48 414.01ZM70.21 421.84L71.71 424.52L68.71 424.52ZM74.25 422.64L75.75 425.33L72.75 425.33ZM77.48 425.07L78.98 427.75L75.99 427.75ZM81.53 426.68L83.02 429.37L80.03 429.37ZM84.76 429.92L86.26 432.6L83.26 432.6ZM88.8 433.15L90.3 435.83L87.3 435.83ZM92.03 435.57L93.53 438.26L90.53 438.26ZM91.42 436.38L92.92 439.06L89.92 439.06ZM95.46 431.53L96.96 434.22L93.97 434.22ZM99.51 428.3L101 430.98L98.01 430.98ZM103.55 425.07L105.04 427.75L102.05 427.75ZM106.78 423.45L108.28 426.14L105.28 426.14ZM110.82 420.22L112.32 422.9L109.32 422.9ZM114.86 416.99L116.36 419.67L113.36 419.67ZM118.09 416.99L119.59 419.67L116.59 419.67ZM122.13 417.8L123.63 420.48L120.63 420.48ZM125.36 416.99L126.86 419.67L123.86 419.67ZM129.4 413.75L130.9 416.44L127.9 416.44ZM133.44 410.52L134.94 413.21L131.94 413.21ZM136.68 408.91L138.18 411.59L135.18 411.59ZM140.72 408.91L142.22 411.59L139.22 411.59ZM144.76 408.91L146.26 411.59L143.26 411.59ZM148.8 409.71L150.3 412.4L147.3 412.4ZM152.03 407.29L153.53 409.97L150.53 409.97Z" fill="#3e0a98"/>
<path d="M30 462.2 L31.42 446.04 L33.85 426.65 L37.08 416.95 L41.12 404.02 L45.16 405.64 L48.39 408.06 L52.43 405.64 L55.67 404.02 L59.71 403.21 L62.94 400.79 L66.98 407.25 L70.21 399.17 L74.25 404.02 L77.48 398.36 L81.53 388.67 L84.76 396.75 L88.8 395.94 L92.03 396.75 L91.42 396.75 L95.46 397.56 L99.51 395.13 L103.55 398.36 L106.78 398.36 L110.82 399.17 L114.05 399.98 L118.09 400.79 L121.32 398.36 L125.36 395.13 L128.6 399.17 L132.64 392.71 L135.87 400.79 L139.91 397.56 L143.95 401.6 L147.99 398.36 L152.03 399.17" fill="none" stroke="#7dec0e" stroke-width="0.87" stroke-linejoin="round"/>
<path d="M28.73 462.2a1.27 1.27 0 1 0 2.55 0a1.27 1.27 0 1 0 -2.55 0ZM30.15 446.04a1.27 1.27 0 1 0 2.55 0a1.27 1.27 0 1 0 -2.55 0ZM32.58 426.65a1.27 1.27 0 1 0 2.55 0a1.27 1.27 0 1 0 -2.55 0ZM35.81 416.95a1.27 1.27 0 1 0 2.55 0a1.27 1.27 0 1 0 -2.55 0ZM39.85 404.02a1.27 1.27 0 1 0 2.55 0a1.27 1.27 0 1 0 -2.55 0ZM43.89 405.64a1.27 1.27 0 1 0 2.55 0a1.27 1.27 0 1 0 -2.55 0ZM47.12 408.06a1.27 1.27 0 1 0 2.55 0a1.27 1.27 0 1 0 -2.55 0ZM51.16 405.64a1.27 1.27 0 1 0 2.55 0a1.27 1.27 0 1 0 -2.55 0ZM54.39 404.02a1.27 1.27 0 1 0 2.55 0a1.27 1.27 0 1 0 -2.55 0ZM58.43 403.21a1.27 1.27 0 1 0 2.55 0a1.27 1.27 0 1 0 -2.55 0ZM61.67 400.79a1.27 1.27 0 1 0 2.55 0a1.27 1.27 0 1 0 -2.55 0ZM65.71 407.25a1.27 1.27 0 1 0 2.55 0a1.27 1.27 0 1 0 -2.55 0ZM68.94 399.17a1.27 1.27 0 1 0 2.55 0a1.27 1.27 0 1 0 -2.55 0ZM72.98 404.02a1.27 1.27 0 1 0 2.55 0a1.27 1.27 0 1 0 -2.55 0ZM76.21 398.36a1.27 1.27 0 1 0 2.55 0a1.27 1.27 0 1 0 -2.55 0ZM80.25 388.67a1.27 1.27 0 1 0 2.55 0a1.27 1.27 0 1 0 -2.55 0ZM83.48 396.75a1.27 1.27 0 1 0 2.55 0a1.27 1.27 0 1 0 -2.55 0ZM87.53 395.94a1.27 1.27 0 1 0 2.55 0a1.27 1.27 0 1 0 -2.55 0ZM90.76 396.75a1.27 1.27 0 1 0 2.55 0a1.27 1.27 0 1 0 -2.55 0ZM90.15 396.75a1.27 1.27 0 1 0 2.55 0a1.27 1.27 0 1 0 -2.55 0ZM94.19 397.56a1.27 1.27 0 1 0 2.55 0a1.27 1.27 0 1 0 -2.55 0ZM98.23 395.13a1.27 1.27 0 1 0 2.55 0a1.27 1.27 0 1 0 -2.55 0ZM102.27 398.36a1.27 1.27 0 1 0 2.55 0a1.27 1.27 0 1 0 -2.55 0ZM105.5 398.36a1.27 1.27 0 1 0 2.55 0a1.27 1.27 0 1 0 -2.55 0ZM109.55 399.17a1.27 1.27 0 1 0 2.55 0a1.27 1.27 0 1 0 -2.55 0ZM112.78 399.98a1.27 1.27 0 1 0 2.55 0a1.27 1.27 0 1 0 -2.55 0ZM116.82 400.79a1.27 1.27 0 1 0 2.55 0a1.27 1.27 0 1 0 -2.55 0ZM120.05 398.36a1.27 1.27 0 1 0 2.55 0a1.27 1.27 0 1 0 -2.55 0ZM124.09 395.13a1.27 1.27 0 1 0 2.55 0a1.27 1.27 0 1 0 -2.55 0ZM127.32 399.17a1.27 1.27 0 1 0 2.55 0a1.27 1.27 0 1 0 -2.55 0ZM131.36 392.71a1.27 1.27 0 1 0 2.55 0a1.27 1.27 0 1 0 -2.55 0ZM134.6 400.79a1.27 1.27 0 1 0 2.55 0a1.27 1.27 0 1 0 -2.55 0ZM138.64 397.56a1.27 1.27 0 1 0 2.55 0a1.27 1.27 0 1 0 -2.55 0ZM142.68 401.6a1.27 1.27 0 1 0 2.55 0a1.27 1.27 0 1 0 -2.55 0ZM146.72 398.36a1.27 1.27 0 1 0 2.55 0a1.27 1.27 0 1 0 -2.55 0ZM150.76 399.17a1.27 1.27 0 1 0 2.55 0a1.27 1.27 0 1 0 -2.55 0Z" fill="#7dec0e"/>
<line x1="91.1" y1="347.2" x2="91.1" y2="468.2" stroke="#111" stroke-width="1.02"/>
<rect x="30" y="347.2" width="122.2" height="121" fill="none" stroke="#2a2a2a" stroke-width="1.27"/>
<path d="M27.86 468.2H32.14M28.68 462.15H31.32M28.68 456.1H31.32M28.68 450.05H31.32M28.68 444H31.32M27.86 437.95H32.14M28.68 431.9H31.32M28.68 425.85H31.32M28.68 419.8H31.32M28.68 413.75H31.32M27.86 407.7H32.14M28.68 401.65H31.32M28.68 395.6H31.32M28.68 389.55H31.32M28.68 383.5H31.32M27.86 377.45H32.14M28.68 371.4H31.32M28.68 365.35H31.32M28.68 359.3H31.32M28.68 353.25H31.32M27.86 347.2H32.14M30 466.57V469.83M60.55 466.57V469.83M91.1 466.57V469.83M121.65 466.57V469.83M152.2 466.57V469.83" stroke="#2a2a2a" stroke-width="1.17" fill="none"/>
<text transform="translate(26.33 471.11) scale(0.95,1)" font-size="8.15" text-anchor="end">0.0</text>
<text transform="translate(26.33 440.86) scale(0.95,1)" font-size="8.15" text-anchor="end">0.1</text>
<text transform="translate(26.33 410.61) scale(0.95,1)" font-size="8.15" text-anchor="end">0.2</text>
<text transform="translate(26.33 380.36) scale(0.95,1)" font-size="8.15" text-anchor="end">0.3</text>
<text transform="translate(26.33 350.11) scale(0.95,1)" font-size="8.15" text-anchor="end">0.4</text>
<text transform="translate(30 477.26) scale(0.95,1)" font-size="8.15" text-anchor="middle">0</text>
<text transform="translate(60.55 477.26) scale(0.95,1)" font-size="8.15" text-anchor="middle">50</text>
<text transform="translate(91.1 477.26) scale(0.95,1)" font-size="8.15" text-anchor="middle">100</text>
<text transform="translate(121.65 477.26) scale(0.95,1)" font-size="8.15" text-anchor="middle">150</text>
<text transform="translate(152.2 477.26) scale(0.95,1)" font-size="8.15" text-anchor="middle">200</text>
<text x="91.1" y="488.36" font-size="9.01" text-anchor="middle">Time [ns]</text>
<text x="91.1" y="341.29" font-size="9.37" text-anchor="middle">PLGA/ID2S LE all trials</text>
<text transform="translate(12.08 408.1) rotate(-90)" x="0" y="0" font-size="9.52" text-anchor="middle">ID2S Backbone RMSD [nm]</text>
<path d="M182.4 402.32 L185.85 407.17 L189.89 412.02 L193.93 415.25 L197.97 416.87 L202.01 418.48 L206.05 420.1 L210.09 418.48 L214.13 418.48 L218.17 416.87 L222.21 414.44 L226.25 416.06 L230.29 416.87 L234.33 417.68 L238.37 416.06 L242.41 416.87 L244.03 417.68 L243.42 416.87 L247.46 420.1 L251.51 421.72 L255.55 417.68 L258.78 412.83 L262.82 413.64 L266.05 414.44 L270.09 412.83 L274.13 411.21 L277.36 409.6 L281.4 408.79 L285.44 407.17 L289.48 404.75 L292.72 402.32 L296.76 401.52 L300.8 401.52 L304.03 400.71" fill="none" stroke="#dccef6" stroke-width="0.86" stroke-linejoin="round"/>
<path d="M182.4 400.75L183.9 403.43L180.9 403.43ZM185.85 405.6L187.35 408.27L184.35 408.27ZM189.89 410.44L191.39 413.12L188.39 413.12ZM193.93 413.68L195.43 416.36L192.43 416.36ZM197.97 415.29L199.47 417.97L196.47 417.97ZM202.01 416.91L203.51 419.59L200.51 419.59ZM206.05 418.53L207.55 421.2L204.55 421.2ZM210.09 416.91L211.59 419.59L208.59 419.59ZM214.13 416.91L215.63 419.59L212.63 419.59ZM218.17 415.29L219.67 417.97L216.67 417.97ZM222.21 412.87L223.71 415.55L220.72 415.55ZM226.25 414.48L227.75 417.16L224.76 417.16ZM230.29 415.29L231.79 417.97L228.8 417.97ZM234.33 416.1L235.83 418.78L232.84 418.78ZM238.37 414.48L239.87 417.16L236.88 417.16ZM242.41 415.29L243.91 417.97L240.92 417.97ZM244.03 416.1L245.53 418.78L242.53 418.78ZM243.42 415.29L244.92 417.97L241.93 417.97ZM247.46 418.53L248.96 421.2L245.97 421.2ZM251.51 420.14L253 422.82L250.01 422.82ZM255.55 416.1L257.04 418.78L254.05 418.78ZM258.78 411.25L260.27 413.93L257.28 413.93ZM262.82 412.06L264.32 414.74L261.32 414.74ZM266.05 412.87L267.55 415.55L264.55 415.55ZM270.09 411.25L271.59 413.93L268.59 413.93ZM274.13 409.64L275.63 412.32L272.63 412.32ZM277.36 408.02L278.86 410.7L275.87 410.7ZM281.4 407.21L282.9 409.89L279.91 409.89ZM285.44 405.6L286.94 408.27L283.95 408.27ZM289.48 403.17L290.98 405.85L287.99 405.85ZM292.72 400.75L294.21 403.43L291.22 403.43ZM296.76 399.94L298.25 402.62L295.26 402.62ZM300.8 399.94L302.3 402.62L299.3 402.62ZM304.03 399.13L305.53 401.81L302.53 401.81Z" fill="#dccef6"/>
<path d="M182.4 399.09 L185.85 403.94 L189.89 408.79 L193.93 412.02 L197.16 413.64 L201.2 415.25 L205.24 418.48 L209.28 421.72 L213.32 420.1 L216.56 422.53 L220.6 421.72 L224.64 424.14 L227.87 423.33 L231.91 422.53 L235.95 431.41 L240.8 437.88 L244.03 439.49 L243.42 441.11 L247.46 439.49 L251.51 433.84 L255.55 433.03 L258.78 428.99 L262.82 429.8 L266.86 426.57 L270.09 427.37 L274.13 425.76 L278.17 425.76 L281.4 424.14 L285.44 424.14 L288.68 423.33 L292.72 423.33 L296.76 418.48 L300.8 420.1 L304.03 421.72" fill="none" stroke="#c4a0f2" stroke-width="0.86" stroke-linejoin="round"/>
<path d="M182.4 397.52L183.9 400.19L180.9 400.19ZM185.85 402.36L187.35 405.04L184.35 405.04ZM189.89 407.21L191.39 409.89L188.39 409.89ZM193.93 410.44L195.43 413.12L192.43 413.12ZM197.16 412.06L198.66 414.74L195.66 414.74ZM201.2 413.68L202.7 416.36L199.7 416.36ZM205.24 416.91L206.74 419.59L203.75 419.59ZM209.28 420.14L210.78 422.82L207.79 422.82ZM213.32 418.53L214.82 421.2L211.83 421.2ZM216.56 420.95L218.05 423.63L215.06 423.63ZM220.6 420.14L222.09 422.82L219.1 422.82ZM224.64 422.57L226.13 425.24L223.14 425.24ZM227.87 421.76L229.37 424.44L226.37 424.44ZM231.91 420.95L233.41 423.63L230.41 423.63ZM235.95 429.84L237.45 432.52L234.45 432.52ZM240.8 436.3L242.3 438.98L239.3 438.98ZM244.03 437.92L245.53 440.6L242.53 440.6ZM243.42 439.54L244.92 442.21L241.93 442.21ZM247.46 437.92L248.96 440.6L245.97 440.6ZM251.51 432.26L253 434.94L250.01 434.94ZM255.55 431.45L257.04 434.13L254.05 434.13ZM258.78 427.41L260.27 430.09L257.28 430.09ZM262.82 428.22L264.32 430.9L261.32 430.9ZM266.86 424.99L268.36 427.67L265.36 427.67ZM270.09 425.8L271.59 428.48L268.59 428.48ZM274.13 424.18L275.63 426.86L272.63 426.86ZM278.17 424.18L279.67 426.86L276.67 426.86ZM281.4 422.57L282.9 425.24L279.91 425.24ZM285.44 422.57L286.94 425.24L283.95 425.24ZM288.68 421.76L290.17 424.44L287.18 424.44ZM292.72 421.76L294.21 424.44L291.22 424.44ZM296.76 416.91L298.25 419.59L295.26 419.59ZM300.8 418.53L302.3 421.2L299.3 421.2ZM304.03 420.14L305.53 422.82L302.53 422.82Z" fill="#c4a0f2"/>
<path d="M182.4 394.24 L185.85 399.09 L189.08 397.47 L193.12 403.94 L197.16 408.79 L200.39 412.83 L204.43 415.25 L207.67 418.48 L211.71 418.48 L214.94 422.53 L218.98 424.95 L222.21 424.95 L226.25 421.72 L229.48 420.91 L233.53 431.41 L236.76 433.84 L240.8 434.65 L244.03 439.49 L243.42 439.49 L247.46 433.03 L251.51 422.53 L255.55 429.8 L258.78 423.33 L262.82 420.1 L266.86 418.48 L270.09 413.64 L274.13 421.72 L277.36 416.87 L281.4 419.29 L284.64 412.83 L288.68 416.06 L292.72 416.87 L296.76 417.68 L300.8 416.06 L304.03 420.1" fill="none" stroke="#ab74f4" stroke-width="0.86" stroke-linejoin="round"/>
<path d="M182.4 392.67L183.9 395.35L180.9 395.35ZM185.85 397.52L187.35 400.19L184.35 400.19ZM189.08 395.9L190.58 398.58L187.58 398.58ZM193.12 402.36L194.62 405.04L191.62 405.04ZM197.16 407.21L198.66 409.89L195.66 409.89ZM200.39 411.25L201.89 413.93L198.9 413.93ZM204.43 413.68L205.93 416.36L202.94 416.36ZM207.67 416.91L209.16 419.59L206.17 419.59ZM211.71 416.91L213.2 419.59L210.21 419.59ZM214.94 420.95L216.44 423.63L213.44 423.63ZM218.98 423.37L220.48 426.05L217.48 426.05ZM222.21 423.37L223.71 426.05L220.72 426.05ZM226.25 420.14L227.75 422.82L224.76 422.82ZM229.48 419.33L230.98 422.01L227.99 422.01ZM233.53 429.84L235.02 432.52L232.03 432.52ZM236.76 432.26L238.25 434.94L235.26 434.94ZM240.8 433.07L242.3 435.75L239.3 435.75ZM244.03 437.92L245.53 440.6L242.53 440.6ZM243.42 437.92L244.92 440.6L241.93 440.6ZM247.46 431.45L248.96 434.13L245.97 434.13ZM251.51 420.95L253 423.63L250.01 423.63ZM255.55 428.22L257.04 430.9L254.05 430.9ZM258.78 421.76L260.27 424.44L257.28 424.44ZM262.82 418.53L264.32 421.2L261.32 421.2ZM266.86 416.91L268.36 419.59L265.36 419.59ZM270.09 412.06L271.59 414.74L268.59 414.74ZM274.13 420.14L275.63 422.82L272.63 422.82ZM277.36 415.29L278.86 417.97L275.87 417.97ZM281.4 417.72L282.9 420.4L279.91 420.4ZM284.64 411.25L286.13 413.93L283.14 413.93ZM288.68 414.48L290.17 417.16L287.18 417.16ZM292.72 415.29L294.21 417.97L291.22 417.97ZM296.76 416.1L298.25 418.78L295.26 418.78ZM300.8 414.48L302.3 417.16L299.3 417.16ZM304.03 418.53L305.53 421.2L302.53 421.2Z" fill="#ab74f4"/>
<path d="M182.4 382.12 L185.85 387.78 L189.08 386.16 L193.12 394.24 L197.16 398.28 L200.39 400.71 L203.63 408.79 L206.86 416.06 L210.9 410.4 L214.94 416.06 L218.98 420.1 L222.21 425.76 L226.25 426.57 L229.48 423.33 L233.53 426.57 L236.76 425.76 L240.8 437.88 L244.03 441.11 L243.42 439.49 L247.46 436.26 L251.51 432.22 L255.55 426.57 L258.78 422.53 L262.82 422.53 L266.86 422.53 L270.09 424.95 L274.13 421.72 L278.17 420.1 L281.4 422.53 L285.44 422.53 L288.68 418.48 L292.72 417.68 L296.76 420.1 L300.8 418.48 L304.03 420.91" fill="none" stroke="#9446f0" stroke-width="0.86" stroke-linejoin="round"/>
<path d="M182.4 380.55L183.9 383.22L180.9 383.22ZM185.85 386.2L187.35 388.88L184.35 388.88ZM189.08 384.59L190.58 387.26L187.58 387.26ZM193.12 392.67L194.62 395.35L191.62 395.35ZM197.16 396.71L198.66 399.39L195.66 399.39ZM200.39 399.13L201.89 401.81L198.9 401.81ZM203.63 407.21L205.12 409.89L202.13 409.89ZM206.86 414.48L208.36 417.16L205.36 417.16ZM210.9 408.83L212.4 411.51L209.4 411.51ZM214.94 414.48L216.44 417.16L213.44 417.16ZM218.98 418.53L220.48 421.2L217.48 421.2ZM222.21 424.18L223.71 426.86L220.72 426.86ZM226.25 424.99L227.75 427.67L224.76 427.67ZM229.48 421.76L230.98 424.44L227.99 424.44ZM233.53 424.99L235.02 427.67L232.03 427.67ZM236.76 424.18L238.25 426.86L235.26 426.86ZM240.8 436.3L242.3 438.98L239.3 438.98ZM244.03 439.54L245.53 442.21L242.53 442.21ZM243.42 437.92L244.92 440.6L241.93 440.6ZM247.46 434.69L248.96 437.37L245.97 437.37ZM251.51 430.65L253 433.33L250.01 433.33ZM255.55 424.99L257.04 427.67L254.05 427.67ZM258.78 420.95L260.27 423.63L257.28 423.63ZM262.82 420.95L264.32 423.63L261.32 423.63ZM266.86 420.95L268.36 423.63L265.36 423.63ZM270.09 423.37L271.59 426.05L268.59 426.05ZM274.13 420.14L275.63 422.82L272.63 422.82ZM278.17 418.53L279.67 421.2L276.67 421.2ZM281.4 420.95L282.9 423.63L279.91 423.63ZM285.44 420.95L286.94 423.63L283.95 423.63ZM288.68 416.91L290.17 419.59L287.18 419.59ZM292.72 416.1L294.21 418.78L291.22 418.78ZM296.76 418.53L298.25 421.2L295.26 421.2ZM300.8 416.91L302.3 419.59L299.3 419.59ZM304.03 419.33L305.53 422.01L302.53 422.01Z" fill="#9446f0"/>
<path d="M182.4 400.71 L185.85 405.56 L189.08 410.4 L193.12 410.4 L197.16 413.64 L201.2 416.87 L204.43 418.48 L208.47 424.14 L211.71 426.57 L214.94 428.18 L218.98 425.76 L222.21 428.18 L226.25 430.61 L229.48 433.03 L233.53 433.03 L237.57 434.65 L241.61 439.49 L243.42 441.11 L247.46 437.88 L251.51 434.65 L255.55 431.41 L258.78 428.99 L262.82 429.8 L266.86 429.8 L270.09 430.61 L274.13 429.8 L278.17 426.57 L281.4 426.57 L285.44 424.95 L288.68 421.72 L292.72 420.91 L296.76 421.72 L300.8 423.33 L304.03 424.95" fill="none" stroke="#7e22ea" stroke-width="0.86" stroke-linejoin="round"/>
<path d="M182.4 399.13L183.9 401.81L180.9 401.81ZM185.85 403.98L187.35 406.66L184.35 406.66ZM189.08 408.83L190.58 411.51L187.58 411.51ZM193.12 408.83L194.62 411.51L191.62 411.51ZM197.16 412.06L198.66 414.74L195.66 414.74ZM201.2 415.29L202.7 417.97L199.7 417.97ZM204.43 416.91L205.93 419.59L202.94 419.59ZM208.47 422.57L209.97 425.24L206.98 425.24ZM211.71 424.99L213.2 427.67L210.21 427.67ZM214.94 426.61L216.44 429.28L213.44 429.28ZM218.98 424.18L220.48 426.86L217.48 426.86ZM222.21 426.61L223.71 429.28L220.72 429.28ZM226.25 429.03L227.75 431.71L224.76 431.71ZM229.48 431.45L230.98 434.13L227.99 434.13ZM233.53 431.45L235.02 434.13L232.03 434.13ZM237.57 433.07L239.06 435.75L236.07 435.75ZM241.61 437.92L243.1 440.6L240.11 440.6ZM243.42 439.54L244.92 442.21L241.93 442.21ZM247.46 436.3L248.96 438.98L245.97 438.98ZM251.51 433.07L253 435.75L250.01 435.75ZM255.55 429.84L257.04 432.52L254.05 432.52ZM258.78 427.41L260.27 430.09L257.28 430.09ZM262.82 428.22L264.32 430.9L261.32 430.9ZM266.86 428.22L268.36 430.9L265.36 430.9ZM270.09 429.03L271.59 431.71L268.59 431.71ZM274.13 428.22L275.63 430.9L272.63 430.9ZM278.17 424.99L279.67 427.67L276.67 427.67ZM281.4 424.99L282.9 427.67L279.91 427.67ZM285.44 423.37L286.94 426.05L283.95 426.05ZM288.68 420.14L290.17 422.82L287.18 422.82ZM292.72 419.33L294.21 422.01L291.22 422.01ZM296.76 420.14L298.25 422.82L295.26 422.82ZM300.8 421.76L302.3 424.44L299.3 424.44ZM304.03 423.37L305.53 426.05L302.53 426.05Z" fill="#7e22ea"/>
<path d="M182.4 412.02 L185.85 416.87 L189.89 420.1 L193.12 424.95 L197.16 425.76 L201.2 424.95 L204.43 425.76 L207.67 428.99 L211.71 430.61 L214.94 432.22 L218.98 433.03 L222.21 437.88 L226.25 436.26 L229.48 437.07 L233.53 436.26 L237.57 437.88 L241.61 441.11 L243.42 443.54 L247.46 440.3 L251.51 437.88 L255.55 436.26 L258.78 436.26 L262.82 435.45 L266.86 436.26 L270.09 434.65 L274.13 432.22 L278.17 429.8 L281.4 428.18 L285.44 426.57 L288.68 426.57 L292.72 424.95 L296.76 426.57 L300.8 425.76 L304.03 427.37" fill="none" stroke="#6618d0" stroke-width="0.86" stroke-linejoin="round"/>
<path d="M182.4 410.44L183.9 413.12L180.9 413.12ZM185.85 415.29L187.35 417.97L184.35 417.97ZM189.89 418.53L191.39 421.2L188.39 421.2ZM193.12 423.37L194.62 426.05L191.62 426.05ZM197.16 424.18L198.66 426.86L195.66 426.86ZM201.2 423.37L202.7 426.05L199.7 426.05ZM204.43 424.18L205.93 426.86L202.94 426.86ZM207.67 427.41L209.16 430.09L206.17 430.09ZM211.71 429.03L213.2 431.71L210.21 431.71ZM214.94 430.65L216.44 433.33L213.44 433.33ZM218.98 431.45L220.48 434.13L217.48 434.13ZM222.21 436.3L223.71 438.98L220.72 438.98ZM226.25 434.69L227.75 437.37L224.76 437.37ZM229.48 435.49L230.98 438.17L227.99 438.17ZM233.53 434.69L235.02 437.37L232.03 437.37ZM237.57 436.3L239.06 438.98L236.07 438.98ZM241.61 439.54L243.1 442.21L240.11 442.21ZM243.42 441.96L244.92 444.64L241.93 444.64ZM247.46 438.73L248.96 441.41L245.97 441.41ZM251.51 436.3L253 438.98L250.01 438.98ZM255.55 434.69L257.04 437.37L254.05 437.37ZM258.78 434.69L260.27 437.37L257.28 437.37ZM262.82 433.88L264.32 436.56L261.32 436.56ZM266.86 434.69L268.36 437.37L265.36 437.37ZM270.09 433.07L271.59 435.75L268.59 435.75ZM274.13 430.65L275.63 433.33L272.63 433.33ZM278.17 428.22L279.67 430.9L276.67 430.9ZM281.4 426.61L282.9 429.28L279.91 429.28ZM285.44 424.99L286.94 427.67L283.95 427.67ZM288.68 424.99L290.17 427.67L287.18 427.67ZM292.72 423.37L294.21 426.05L291.22 426.05ZM296.76 424.99L298.25 427.67L295.26 427.67ZM300.8 424.18L302.3 426.86L299.3 426.86ZM304.03 425.8L305.53 428.48L302.53 428.48Z" fill="#6618d0"/>
<path d="M182.4 407.17 L185.85 411.21 L189.89 414.44 L193.12 415.25 L197.16 416.87 L200.39 418.48 L204.43 420.91 L207.67 423.33 L211.71 428.18 L214.94 431.41 L218.98 433.84 L222.21 435.45 L226.25 436.26 L230.29 435.45 L233.53 436.26 L237.57 437.07 L241.61 439.49 L243.42 441.92 L247.46 439.49 L251.51 436.26 L255.55 434.65 L258.78 434.65 L262.82 436.26 L266.86 433.84 L270.09 433.03 L274.13 432.22 L278.17 430.61 L281.4 429.8 L285.44 428.18 L288.68 428.18 L292.72 427.37 L296.76 428.99 L300.8 429.8 L304.03 429.8" fill="none" stroke="#3e0a98" stroke-width="0.86" stroke-linejoin="round"/>
<path d="M182.4 405.6L183.9 408.27L180.9 408.27ZM185.85 409.64L187.35 412.32L184.35 412.32ZM189.89 412.87L191.39 415.55L188.39 415.55ZM193.12 413.68L194.62 416.36L191.62 416.36ZM197.16 415.29L198.66 417.97L195.66 417.97ZM200.39 416.91L201.89 419.59L198.9 419.59ZM204.43 419.33L205.93 422.01L202.94 422.01ZM207.67 421.76L209.16 424.44L206.17 424.44ZM211.71 426.61L213.2 429.28L210.21 429.28ZM214.94 429.84L216.44 432.52L213.44 432.52ZM218.98 432.26L220.48 434.94L217.48 434.94ZM222.21 433.88L223.71 436.56L220.72 436.56ZM226.25 434.69L227.75 437.37L224.76 437.37ZM230.29 433.88L231.79 436.56L228.8 436.56ZM233.53 434.69L235.02 437.37L232.03 437.37ZM237.57 435.49L239.06 438.17L236.07 438.17ZM241.61 437.92L243.1 440.6L240.11 440.6ZM243.42 440.34L244.92 443.02L241.93 443.02ZM247.46 437.92L248.96 440.6L245.97 440.6ZM251.51 434.69L253 437.37L250.01 437.37ZM255.55 433.07L257.04 435.75L254.05 435.75ZM258.78 433.07L260.27 435.75L257.28 435.75ZM262.82 434.69L264.32 437.37L261.32 437.37ZM266.86 432.26L268.36 434.94L265.36 434.94ZM270.09 431.45L271.59 434.13L268.59 434.13ZM274.13 430.65L275.63 433.33L272.63 433.33ZM278.17 429.03L279.67 431.71L276.67 431.71ZM281.4 428.22L282.9 430.9L279.91 430.9ZM285.44 426.61L286.94 429.28L283.95 429.28ZM288.68 426.61L290.17 429.28L287.18 429.28ZM292.72 425.8L294.21 428.48L291.22 428.48ZM296.76 427.41L298.25 430.09L295.26 430.09ZM300.8 428.22L302.3 430.9L299.3 430.9ZM304.03 428.22L305.53 430.9L302.53 430.9Z" fill="#3e0a98"/>
<path d="M182.45 461.96 L184.23 445.96 L186.66 428.18 L189.08 416.87 L193.12 403.13 L197.16 406.36 L200.39 407.98 L204.43 406.36 L207.67 403.94 L210.9 403.13 L214.94 399.9 L218.98 407.17 L222.21 399.09 L226.25 403.13 L229.48 397.47 L233.53 388.59 L236.76 397.47 L240.8 396.67 L244.03 397.47 L243.42 398.28 L247.46 399.09 L251.51 395.86 L255.55 398.28 L258.78 399.09 L262.82 398.28 L266.05 399.09 L270.09 400.71 L273.32 398.28 L277.36 394.24 L280.6 399.09 L284.64 393.43 L287.87 400.71 L291.91 398.28 L295.95 402.32 L299.99 398.28 L304.03 399.9" fill="none" stroke="#7dec0e" stroke-width="0.86" stroke-linejoin="round"/>
<path d="M181.18 461.96a1.27 1.27 0 1 0 2.54 0a1.27 1.27 0 1 0 -2.54 0ZM182.96 445.96a1.27 1.27 0 1 0 2.54 0a1.27 1.27 0 1 0 -2.54 0ZM185.39 428.18a1.27 1.27 0 1 0 2.54 0a1.27 1.27 0 1 0 -2.54 0ZM187.81 416.87a1.27 1.27 0 1 0 2.54 0a1.27 1.27 0 1 0 -2.54 0ZM191.85 403.13a1.27 1.27 0 1 0 2.54 0a1.27 1.27 0 1 0 -2.54 0ZM195.89 406.36a1.27 1.27 0 1 0 2.54 0a1.27 1.27 0 1 0 -2.54 0ZM199.12 407.98a1.27 1.27 0 1 0 2.54 0a1.27 1.27 0 1 0 -2.54 0ZM203.16 406.36a1.27 1.27 0 1 0 2.54 0a1.27 1.27 0 1 0 -2.54 0ZM206.4 403.94a1.27 1.27 0 1 0 2.54 0a1.27 1.27 0 1 0 -2.54 0ZM209.63 403.13a1.27 1.27 0 1 0 2.54 0a1.27 1.27 0 1 0 -2.54 0ZM213.67 399.9a1.27 1.27 0 1 0 2.54 0a1.27 1.27 0 1 0 -2.54 0ZM217.71 407.17a1.27 1.27 0 1 0 2.54 0a1.27 1.27 0 1 0 -2.54 0ZM220.94 399.09a1.27 1.27 0 1 0 2.54 0a1.27 1.27 0 1 0 -2.54 0ZM224.98 403.13a1.27 1.27 0 1 0 2.54 0a1.27 1.27 0 1 0 -2.54 0ZM228.21 397.47a1.27 1.27 0 1 0 2.54 0a1.27 1.27 0 1 0 -2.54 0ZM232.25 388.59a1.27 1.27 0 1 0 2.54 0a1.27 1.27 0 1 0 -2.54 0ZM235.49 397.47a1.27 1.27 0 1 0 2.54 0a1.27 1.27 0 1 0 -2.54 0ZM239.53 396.67a1.27 1.27 0 1 0 2.54 0a1.27 1.27 0 1 0 -2.54 0ZM242.76 397.47a1.27 1.27 0 1 0 2.54 0a1.27 1.27 0 1 0 -2.54 0ZM242.15 398.28a1.27 1.27 0 1 0 2.54 0a1.27 1.27 0 1 0 -2.54 0ZM246.19 399.09a1.27 1.27 0 1 0 2.54 0a1.27 1.27 0 1 0 -2.54 0ZM250.23 395.86a1.27 1.27 0 1 0 2.54 0a1.27 1.27 0 1 0 -2.54 0ZM254.27 398.28a1.27 1.27 0 1 0 2.54 0a1.27 1.27 0 1 0 -2.54 0ZM257.51 399.09a1.27 1.27 0 1 0 2.54 0a1.27 1.27 0 1 0 -2.54 0ZM261.55 398.28a1.27 1.27 0 1 0 2.54 0a1.27 1.27 0 1 0 -2.54 0ZM264.78 399.09a1.27 1.27 0 1 0 2.54 0a1.27 1.27 0 1 0 -2.54 0ZM268.82 400.71a1.27 1.27 0 1 0 2.54 0a1.27 1.27 0 1 0 -2.54 0ZM272.05 398.28a1.27 1.27 0 1 0 2.54 0a1.27 1.27 0 1 0 -2.54 0ZM276.09 394.24a1.27 1.27 0 1 0 2.54 0a1.27 1.27 0 1 0 -2.54 0ZM279.33 399.09a1.27 1.27 0 1 0 2.54 0a1.27 1.27 0 1 0 -2.54 0ZM283.37 393.43a1.27 1.27 0 1 0 2.54 0a1.27 1.27 0 1 0 -2.54 0ZM286.6 400.71a1.27 1.27 0 1 0 2.54 0a1.27 1.27 0 1 0 -2.54 0ZM290.64 398.28a1.27 1.27 0 1 0 2.54 0a1.27 1.27 0 1 0 -2.54 0ZM294.68 402.32a1.27 1.27 0 1 0 2.54 0a1.27 1.27 0 1 0 -2.54 0ZM298.72 398.28a1.27 1.27 0 1 0 2.54 0a1.27 1.27 0 1 0 -2.54 0ZM302.76 399.9a1.27 1.27 0 1 0 2.54 0a1.27 1.27 0 1 0 -2.54 0Z" fill="#7dec0e"/>
<line x1="243.4" y1="347" x2="243.4" y2="468.1" stroke="#111" stroke-width="1.02"/>
<rect x="182.4" y="347" width="122" height="121.1" fill="none" stroke="#2a2a2a" stroke-width="1.27"/>
<path d="M180.27 468.1H184.53M181.08 462.05H183.72M181.08 455.99H183.72M181.08 449.94H183.72M181.08 443.88H183.72M180.27 437.83H184.53M181.08 431.77H183.72M181.08 425.72H183.72M181.08 419.66H183.72M181.08 413.61H183.72M180.27 407.55H184.53M181.08 401.5H183.72M181.08 395.44H183.72M181.08 389.38H183.72M181.08 383.33H183.72M180.27 377.28H184.53M181.08 371.22H183.72M181.08 365.16H183.72M181.08 359.11H183.72M181.08 353.06H183.72M180.27 347H184.53M182.4 466.47V469.73M212.9 466.47V469.73M243.4 466.47V469.73M273.9 466.47V469.73M304.4 466.47V469.73" stroke="#2a2a2a" stroke-width="1.17" fill="none"/>
<text transform="translate(178.74 471.01) scale(0.95,1)" font-size="8.13" text-anchor="end">0.0</text>
<text transform="translate(178.74 440.73) scale(0.95,1)" font-size="8.13" text-anchor="end">0.1</text>
<text transform="translate(178.74 410.46) scale(0.95,1)" font-size="8.13" text-anchor="end">0.2</text>
<text transform="translate(178.74 380.18) scale(0.95,1)" font-size="8.13" text-anchor="end">0.3</text>
<text transform="translate(178.74 349.91) scale(0.95,1)" font-size="8.13" text-anchor="end">0.4</text>
<text transform="translate(182.4 477.15) scale(0.95,1)" font-size="8.13" text-anchor="middle">0</text>
<text transform="translate(212.9 477.15) scale(0.95,1)" font-size="8.13" text-anchor="middle">50</text>
<text transform="translate(243.4 477.15) scale(0.95,1)" font-size="8.13" text-anchor="middle">100</text>
<text transform="translate(273.9 477.15) scale(0.95,1)" font-size="8.13" text-anchor="middle">150</text>
<text transform="translate(304.4 477.15) scale(0.95,1)" font-size="8.13" text-anchor="middle">200</text>
<text x="243.4" y="488.23" font-size="9.00" text-anchor="middle">Time [ns]</text>
<text x="243.4" y="341.1" font-size="9.35" text-anchor="middle">PEG/ID2S LE all trials</text>
<path d="M333.3 402.32 L336.85 405.56 L340.89 409.6 L344.93 412.02 L348.16 413.64 L352.2 415.25 L356.24 416.06 L360.28 415.25 L364.32 412.02 L368.36 410.4 L372.4 407.98 L376.44 408.79 L380.48 403.13 L384.53 408.79 L388.57 410.4 L392.61 409.6 L395.03 409.6 L394.94 408.79 L399.46 407.98 L403.51 407.98 L407.55 403.13 L410.78 402.32 L414.82 399.9 L418.86 399.9 L422.9 398.28 L426.13 394.24 L429.36 391.82 L433.4 389.39 L436.64 390.2 L440.68 390.2 L444.72 389.39 L448.76 390.2 L452.8 391.01 L456.03 392.63" fill="none" stroke="#dccef6" stroke-width="0.87" stroke-linejoin="round"/>
<path d="M333.3 400.73L334.81 403.44L331.79 403.44ZM336.85 403.97L338.36 406.67L335.34 406.67ZM340.89 408.01L342.4 410.71L339.38 410.71ZM344.93 410.43L346.44 413.13L343.42 413.13ZM348.16 412.05L349.67 414.75L346.65 414.75ZM352.2 413.66L353.71 416.36L350.69 416.36ZM356.24 414.47L357.75 417.17L354.73 417.17ZM360.28 413.66L361.79 416.36L358.77 416.36ZM364.32 410.43L365.83 413.13L362.81 413.13ZM368.36 408.82L369.87 411.52L366.85 411.52ZM372.4 406.39L373.91 409.09L370.89 409.09ZM376.44 407.2L377.95 409.9L374.94 409.9ZM380.48 401.54L381.99 404.24L378.98 404.24ZM384.53 407.2L386.03 409.9L383.02 409.9ZM388.57 408.82L390.07 411.52L387.06 411.52ZM392.61 408.01L394.12 410.71L391.1 410.71ZM395.03 408.01L396.54 410.71L393.52 410.71ZM394.94 407.2L396.45 409.9L393.43 409.9ZM399.46 406.39L400.97 409.09L397.96 409.09ZM403.51 406.39L405.01 409.09L402 409.09ZM407.55 401.54L409.05 404.24L406.04 404.24ZM410.78 400.73L412.29 403.44L409.27 403.44ZM414.82 398.31L416.33 401.01L413.31 401.01ZM418.86 398.31L420.37 401.01L417.35 401.01ZM422.9 396.69L424.41 399.39L421.39 399.39ZM426.13 392.65L427.64 395.35L424.62 395.35ZM429.36 390.23L430.87 392.93L427.85 392.93ZM433.4 387.81L434.91 390.51L431.89 390.51ZM436.64 388.61L438.15 391.31L435.13 391.31ZM440.68 388.61L442.19 391.31L439.17 391.31ZM444.72 387.81L446.23 390.51L443.21 390.51ZM448.76 388.61L450.27 391.31L447.25 391.31ZM452.8 389.42L454.31 392.12L451.29 392.12ZM456.03 391.04L457.54 393.74L454.52 393.74Z" fill="#dccef6"/>
<path d="M333.3 426.57 L336.85 428.18 L340.89 418.48 L344.12 420.91 L348.16 423.33 L352.2 425.76 L355.43 427.37 L359.47 429.8 L362.71 428.99 L366.75 429.8 L369.98 433.03 L374.02 433.84 L377.25 435.45 L380.48 434.65 L384.53 437.07 L388.57 439.49 L392.61 442.73 L395.03 443.54 L394.94 439.49 L399.46 436.26 L403.51 433.84 L407.55 436.26 L410.78 435.45 L414.82 436.26 L418.05 433.84 L422.09 433.03 L426.13 430.61 L429.36 431.41 L433.4 432.22 L437.44 433.03 L440.68 432.22 L444.72 433.03 L448.76 432.22 L452.8 429.8 L456.03 427.37" fill="none" stroke="#c4a0f2" stroke-width="0.87" stroke-linejoin="round"/>
<path d="M333.3 424.98L334.81 427.68L331.79 427.68ZM336.85 426.59L338.36 429.29L335.34 429.29ZM340.89 416.9L342.4 419.6L339.38 419.6ZM344.12 419.32L345.63 422.02L342.61 422.02ZM348.16 421.74L349.67 424.45L346.65 424.45ZM352.2 424.17L353.71 426.87L350.69 426.87ZM355.43 425.78L356.94 428.49L353.93 428.49ZM359.47 428.21L360.98 430.91L357.97 430.91ZM362.71 427.4L364.22 430.1L361.2 430.1ZM366.75 428.21L368.26 430.91L365.24 430.91ZM369.98 431.44L371.49 434.14L368.47 434.14ZM374.02 432.25L375.53 434.95L372.51 434.95ZM377.25 433.87L378.76 436.57L375.74 436.57ZM380.48 433.06L381.99 435.76L378.98 435.76ZM384.53 435.48L386.03 438.18L383.02 438.18ZM388.57 437.91L390.07 440.61L387.06 440.61ZM392.61 441.14L394.12 443.84L391.1 443.84ZM395.03 441.95L396.54 444.65L393.52 444.65ZM394.94 437.91L396.45 440.61L393.43 440.61ZM399.46 434.67L400.97 437.37L397.96 437.37ZM403.51 432.25L405.01 434.95L402 434.95ZM407.55 434.67L409.05 437.37L406.04 437.37ZM410.78 433.87L412.29 436.57L409.27 436.57ZM414.82 434.67L416.33 437.37L413.31 437.37ZM418.05 432.25L419.56 434.95L416.54 434.95ZM422.09 431.44L423.6 434.14L420.58 434.14ZM426.13 429.02L427.64 431.72L424.62 431.72ZM429.36 429.83L430.87 432.53L427.85 432.53ZM433.4 430.63L434.91 433.33L431.89 433.33ZM437.44 431.44L438.95 434.14L435.94 434.14ZM440.68 430.63L442.19 433.33L439.17 433.33ZM444.72 431.44L446.23 434.14L443.21 434.14ZM448.76 430.63L450.27 433.33L447.25 433.33ZM452.8 428.21L454.31 430.91L451.29 430.91ZM456.03 425.78L457.54 428.49L454.52 428.49Z" fill="#c4a0f2"/>
<path d="M333.3 399.09 L336.85 402.32 L340.89 403.94 L344.12 403.94 L348.16 408.79 L352.2 412.83 L355.43 413.64 L359.47 415.25 L362.71 414.44 L365.94 415.25 L369.98 410.4 L374.02 408.79 L377.25 413.64 L380.48 418.48 L384.53 421.72 L388.57 428.18 L391.8 423.33 L395.03 428.18 L394.94 434.65 L399.46 427.37 L403.51 427.37 L407.55 428.18 L410.78 427.37 L414.82 424.95 L418.05 424.95 L422.09 426.57 L426.13 428.18 L429.36 422.53 L433.4 421.72 L437.44 418.48 L440.68 416.87 L444.72 414.44 L448.76 416.06 L452.8 413.64 L456.03 415.25" fill="none" stroke="#ab74f4" stroke-width="0.87" stroke-linejoin="round"/>
<path d="M333.3 397.5L334.81 400.2L331.79 400.2ZM336.85 400.73L338.36 403.44L335.34 403.44ZM340.89 402.35L342.4 405.05L339.38 405.05ZM344.12 402.35L345.63 405.05L342.61 405.05ZM348.16 407.2L349.67 409.9L346.65 409.9ZM352.2 411.24L353.71 413.94L350.69 413.94ZM355.43 412.05L356.94 414.75L353.93 414.75ZM359.47 413.66L360.98 416.36L357.97 416.36ZM362.71 412.86L364.22 415.56L361.2 415.56ZM365.94 413.66L367.45 416.36L364.43 416.36ZM369.98 408.82L371.49 411.52L368.47 411.52ZM374.02 407.2L375.53 409.9L372.51 409.9ZM377.25 412.05L378.76 414.75L375.74 414.75ZM380.48 416.9L381.99 419.6L378.98 419.6ZM384.53 420.13L386.03 422.83L383.02 422.83ZM388.57 426.59L390.07 429.29L387.06 429.29ZM391.8 421.74L393.31 424.45L390.29 424.45ZM395.03 426.59L396.54 429.29L393.52 429.29ZM394.94 433.06L396.45 435.76L393.43 435.76ZM399.46 425.78L400.97 428.49L397.96 428.49ZM403.51 425.78L405.01 428.49L402 428.49ZM407.55 426.59L409.05 429.29L406.04 429.29ZM410.78 425.78L412.29 428.49L409.27 428.49ZM414.82 423.36L416.33 426.06L413.31 426.06ZM418.05 423.36L419.56 426.06L416.54 426.06ZM422.09 424.98L423.6 427.68L420.58 427.68ZM426.13 426.59L427.64 429.29L424.62 429.29ZM429.36 420.94L430.87 423.64L427.85 423.64ZM433.4 420.13L434.91 422.83L431.89 422.83ZM437.44 416.9L438.95 419.6L435.94 419.6ZM440.68 415.28L442.19 417.98L439.17 417.98ZM444.72 412.86L446.23 415.56L443.21 415.56ZM448.76 414.47L450.27 417.17L447.25 417.17ZM452.8 412.05L454.31 414.75L451.29 414.75ZM456.03 413.66L457.54 416.36L454.52 416.36Z" fill="#ab74f4"/>
<path d="M333.3 395.86 L336.85 403.94 L340.89 399.09 L344.93 402.32 L348.16 395.86 L351.39 395.05 L355.43 402.32 L358.67 400.71 L362.71 397.47 L365.94 402.32 L369.98 408.79 L374.02 410.4 L377.25 412.02 L380.48 413.64 L384.53 418.48 L388.57 424.14 L392.61 434.65 L395.03 436.26 L394.94 441.11 L399.46 427.37 L403.51 426.57 L407.55 431.41 L410.78 424.14 L414.82 425.76 L418.05 420.91 L422.09 426.57 L426.13 426.57 L429.36 416.87 L433.4 418.48 L437.44 415.25 L440.68 409.6 L444.72 406.36 L448.76 410.4 L452.8 412.83 L456.03 409.6" fill="none" stroke="#9446f0" stroke-width="0.87" stroke-linejoin="round"/>
<path d="M333.3 394.27L334.81 396.97L331.79 396.97ZM336.85 402.35L338.36 405.05L335.34 405.05ZM340.89 397.5L342.4 400.2L339.38 400.2ZM344.93 400.73L346.44 403.44L343.42 403.44ZM348.16 394.27L349.67 396.97L346.65 396.97ZM351.39 393.46L352.9 396.16L349.88 396.16ZM355.43 400.73L356.94 403.44L353.93 403.44ZM358.67 399.12L360.18 401.82L357.16 401.82ZM362.71 395.89L364.22 398.59L361.2 398.59ZM365.94 400.73L367.45 403.44L364.43 403.44ZM369.98 407.2L371.49 409.9L368.47 409.9ZM374.02 408.82L375.53 411.52L372.51 411.52ZM377.25 410.43L378.76 413.13L375.74 413.13ZM380.48 412.05L381.99 414.75L378.98 414.75ZM384.53 416.9L386.03 419.6L383.02 419.6ZM388.57 422.55L390.07 425.25L387.06 425.25ZM392.61 433.06L394.12 435.76L391.1 435.76ZM395.03 434.67L396.54 437.37L393.52 437.37ZM394.94 439.52L396.45 442.22L393.43 442.22ZM399.46 425.78L400.97 428.49L397.96 428.49ZM403.51 424.98L405.01 427.68L402 427.68ZM407.55 429.83L409.05 432.53L406.04 432.53ZM410.78 422.55L412.29 425.25L409.27 425.25ZM414.82 424.17L416.33 426.87L413.31 426.87ZM418.05 419.32L419.56 422.02L416.54 422.02ZM422.09 424.98L423.6 427.68L420.58 427.68ZM426.13 424.98L427.64 427.68L424.62 427.68ZM429.36 415.28L430.87 417.98L427.85 417.98ZM433.4 416.9L434.91 419.6L431.89 419.6ZM437.44 413.66L438.95 416.36L435.94 416.36ZM440.68 408.01L442.19 410.71L439.17 410.71ZM444.72 404.77L446.23 407.48L443.21 407.48ZM448.76 408.82L450.27 411.52L447.25 411.52ZM452.8 411.24L454.31 413.94L451.29 413.94ZM456.03 408.01L457.54 410.71L454.52 410.71Z" fill="#9446f0"/>
<path d="M333.3 405.56 L336.85 410.4 L340.89 406.36 L344.12 409.6 L348.16 412.02 L352.2 415.25 L355.43 416.87 L359.47 418.48 L362.71 418.48 L366.75 416.06 L370.79 415.25 L374.02 416.87 L377.25 418.48 L380.48 420.1 L384.53 429.8 L388.57 433.03 L392.61 437.88 L394.94 441.92 L399.46 437.07 L403.51 433.84 L407.55 430.61 L410.78 431.41 L414.82 429.8 L418.05 425.76 L422.09 433.03 L426.13 433.84 L429.36 418.48 L433.4 420.1 L437.44 416.87 L440.68 414.44 L444.72 412.83 L448.76 407.17 L452.8 411.21 L456.03 412.83" fill="none" stroke="#7e22ea" stroke-width="0.87" stroke-linejoin="round"/>
<path d="M333.3 403.97L334.81 406.67L331.79 406.67ZM336.85 408.82L338.36 411.52L335.34 411.52ZM340.89 404.77L342.4 407.48L339.38 407.48ZM344.12 408.01L345.63 410.71L342.61 410.71ZM348.16 410.43L349.67 413.13L346.65 413.13ZM352.2 413.66L353.71 416.36L350.69 416.36ZM355.43 415.28L356.94 417.98L353.93 417.98ZM359.47 416.9L360.98 419.6L357.97 419.6ZM362.71 416.9L364.22 419.6L361.2 419.6ZM366.75 414.47L368.26 417.17L365.24 417.17ZM370.79 413.66L372.3 416.36L369.28 416.36ZM374.02 415.28L375.53 417.98L372.51 417.98ZM377.25 416.9L378.76 419.6L375.74 419.6ZM380.48 418.51L381.99 421.21L378.98 421.21ZM384.53 428.21L386.03 430.91L383.02 430.91ZM388.57 431.44L390.07 434.14L387.06 434.14ZM392.61 436.29L394.12 438.99L391.1 438.99ZM394.94 440.33L396.45 443.03L393.43 443.03ZM399.46 435.48L400.97 438.18L397.96 438.18ZM403.51 432.25L405.01 434.95L402 434.95ZM407.55 429.02L409.05 431.72L406.04 431.72ZM410.78 429.83L412.29 432.53L409.27 432.53ZM414.82 428.21L416.33 430.91L413.31 430.91ZM418.05 424.17L419.56 426.87L416.54 426.87ZM422.09 431.44L423.6 434.14L420.58 434.14ZM426.13 432.25L427.64 434.95L424.62 434.95ZM429.36 416.9L430.87 419.6L427.85 419.6ZM433.4 418.51L434.91 421.21L431.89 421.21ZM437.44 415.28L438.95 417.98L435.94 417.98ZM440.68 412.86L442.19 415.56L439.17 415.56ZM444.72 411.24L446.23 413.94L443.21 413.94ZM448.76 405.58L450.27 408.28L447.25 408.28ZM452.8 409.62L454.31 412.32L451.29 412.32ZM456.03 411.24L457.54 413.94L454.52 413.94Z" fill="#7e22ea"/>
<path d="M333.3 407.17 L336.85 412.02 L340.89 413.64 L344.12 414.44 L348.16 416.06 L351.39 420.1 L355.43 423.33 L359.47 424.95 L362.71 424.95 L366.75 423.33 L369.98 425.76 L373.21 429.8 L377.25 431.41 L380.48 433.03 L384.53 434.65 L388.57 437.88 L392.61 441.11 L395.03 441.92 L394.94 442.73 L399.46 441.11 L403.51 439.49 L407.55 431.41 L410.78 432.22 L414.82 428.18 L418.05 430.61 L422.09 430.61 L426.13 424.95 L429.36 421.72 L433.4 422.53 L437.44 421.72 L440.68 418.48 L444.72 419.29 L448.76 418.48 L452.8 416.87 L456.03 418.48" fill="none" stroke="#6618d0" stroke-width="0.87" stroke-linejoin="round"/>
<path d="M333.3 405.58L334.81 408.28L331.79 408.28ZM336.85 410.43L338.36 413.13L335.34 413.13ZM340.89 412.05L342.4 414.75L339.38 414.75ZM344.12 412.86L345.63 415.56L342.61 415.56ZM348.16 414.47L349.67 417.17L346.65 417.17ZM351.39 418.51L352.9 421.21L349.88 421.21ZM355.43 421.74L356.94 424.45L353.93 424.45ZM359.47 423.36L360.98 426.06L357.97 426.06ZM362.71 423.36L364.22 426.06L361.2 426.06ZM366.75 421.74L368.26 424.45L365.24 424.45ZM369.98 424.17L371.49 426.87L368.47 426.87ZM373.21 428.21L374.72 430.91L371.7 430.91ZM377.25 429.83L378.76 432.53L375.74 432.53ZM380.48 431.44L381.99 434.14L378.98 434.14ZM384.53 433.06L386.03 435.76L383.02 435.76ZM388.57 436.29L390.07 438.99L387.06 438.99ZM392.61 439.52L394.12 442.22L391.1 442.22ZM395.03 440.33L396.54 443.03L393.52 443.03ZM394.94 441.14L396.45 443.84L393.43 443.84ZM399.46 439.52L400.97 442.22L397.96 442.22ZM403.51 437.91L405.01 440.61L402 440.61ZM407.55 429.83L409.05 432.53L406.04 432.53ZM410.78 430.63L412.29 433.33L409.27 433.33ZM414.82 426.59L416.33 429.29L413.31 429.29ZM418.05 429.02L419.56 431.72L416.54 431.72ZM422.09 429.02L423.6 431.72L420.58 431.72ZM426.13 423.36L427.64 426.06L424.62 426.06ZM429.36 420.13L430.87 422.83L427.85 422.83ZM433.4 420.94L434.91 423.64L431.89 423.64ZM437.44 420.13L438.95 422.83L435.94 422.83ZM440.68 416.9L442.19 419.6L439.17 419.6ZM444.72 417.7L446.23 420.41L443.21 420.41ZM448.76 416.9L450.27 419.6L447.25 419.6ZM452.8 415.28L454.31 417.98L451.29 417.98ZM456.03 416.9L457.54 419.6L454.52 419.6Z" fill="#6618d0"/>
<path d="M333.3 402.32 L336.85 415.25 L340.89 416.06 L344.12 416.87 L348.16 417.68 L352.2 418.48 L355.43 420.1 L359.47 421.72 L362.71 423.33 L366.75 421.72 L369.98 424.95 L374.02 424.95 L377.25 428.18 L380.48 428.18 L384.53 433.03 L388.57 436.26 L392.61 439.49 L395.03 440.3 L394.94 443.54 L399.46 441.11 L403.51 437.88 L407.55 429.8 L410.78 428.99 L414.82 428.99 L418.05 426.57 L422.09 431.41 L426.13 429.8 L429.36 430.61 L433.4 431.41 L437.44 431.41 L440.68 431.41 L444.72 430.61 L447.95 432.22 L451.99 421.72 L456.03 424.14" fill="none" stroke="#3e0a98" stroke-width="0.87" stroke-linejoin="round"/>
<path d="M333.3 400.73L334.81 403.44L331.79 403.44ZM336.85 413.66L338.36 416.36L335.34 416.36ZM340.89 414.47L342.4 417.17L339.38 417.17ZM344.12 415.28L345.63 417.98L342.61 417.98ZM348.16 416.09L349.67 418.79L346.65 418.79ZM352.2 416.9L353.71 419.6L350.69 419.6ZM355.43 418.51L356.94 421.21L353.93 421.21ZM359.47 420.13L360.98 422.83L357.97 422.83ZM362.71 421.74L364.22 424.45L361.2 424.45ZM366.75 420.13L368.26 422.83L365.24 422.83ZM369.98 423.36L371.49 426.06L368.47 426.06ZM374.02 423.36L375.53 426.06L372.51 426.06ZM377.25 426.59L378.76 429.29L375.74 429.29ZM380.48 426.59L381.99 429.29L378.98 429.29ZM384.53 431.44L386.03 434.14L383.02 434.14ZM388.57 434.67L390.07 437.37L387.06 437.37ZM392.61 437.91L394.12 440.61L391.1 440.61ZM395.03 438.71L396.54 441.42L393.52 441.42ZM394.94 441.95L396.45 444.65L393.43 444.65ZM399.46 439.52L400.97 442.22L397.96 442.22ZM403.51 436.29L405.01 438.99L402 438.99ZM407.55 428.21L409.05 430.91L406.04 430.91ZM410.78 427.4L412.29 430.1L409.27 430.1ZM414.82 427.4L416.33 430.1L413.31 430.1ZM418.05 424.98L419.56 427.68L416.54 427.68ZM422.09 429.83L423.6 432.53L420.58 432.53ZM426.13 428.21L427.64 430.91L424.62 430.91ZM429.36 429.02L430.87 431.72L427.85 431.72ZM433.4 429.83L434.91 432.53L431.89 432.53ZM437.44 429.83L438.95 432.53L435.94 432.53ZM440.68 429.83L442.19 432.53L439.17 432.53ZM444.72 429.02L446.23 431.72L443.21 431.72ZM447.95 430.63L449.46 433.33L446.44 433.33ZM451.99 420.13L453.5 422.83L450.48 422.83ZM456.03 422.55L457.54 425.25L454.52 425.25Z" fill="#3e0a98"/>
<path d="M333.3 463.25 L335.23 445.96 L337.66 429.8 L340.08 416.87 L344.12 403.13 L348.16 406.36 L351.39 408.79 L355.43 406.36 L358.67 404.75 L362.71 403.94 L365.94 400.71 L369.98 407.98 L374.02 399.9 L377.25 403.94 L381.29 398.28 L384.53 389.39 L388.57 398.28 L392.61 397.47 L395.03 398.28 L394.94 398.28 L399.46 399.09 L403.51 396.67 L407.55 399.09 L410.78 399.09 L414.82 399.09 L418.05 399.9 L422.09 401.52 L425.32 398.28 L429.36 394.24 L432.6 399.9 L436.64 393.43 L439.87 399.9 L443.91 398.28 L447.95 403.13 L451.99 399.09 L456.03 399.9" fill="none" stroke="#7dec0e" stroke-width="0.87" stroke-linejoin="round"/>
<path d="M332.02 463.25a1.28 1.28 0 1 0 2.56 0a1.28 1.28 0 1 0 -2.56 0ZM333.95 445.96a1.28 1.28 0 1 0 2.56 0a1.28 1.28 0 1 0 -2.56 0ZM336.38 429.8a1.28 1.28 0 1 0 2.56 0a1.28 1.28 0 1 0 -2.56 0ZM338.8 416.87a1.28 1.28 0 1 0 2.56 0a1.28 1.28 0 1 0 -2.56 0ZM342.84 403.13a1.28 1.28 0 1 0 2.56 0a1.28 1.28 0 1 0 -2.56 0ZM346.88 406.36a1.28 1.28 0 1 0 2.56 0a1.28 1.28 0 1 0 -2.56 0ZM350.11 408.79a1.28 1.28 0 1 0 2.56 0a1.28 1.28 0 1 0 -2.56 0ZM354.15 406.36a1.28 1.28 0 1 0 2.56 0a1.28 1.28 0 1 0 -2.56 0ZM357.39 404.75a1.28 1.28 0 1 0 2.56 0a1.28 1.28 0 1 0 -2.56 0ZM361.43 403.94a1.28 1.28 0 1 0 2.56 0a1.28 1.28 0 1 0 -2.56 0ZM364.66 400.71a1.28 1.28 0 1 0 2.56 0a1.28 1.28 0 1 0 -2.56 0ZM368.7 407.98a1.28 1.28 0 1 0 2.56 0a1.28 1.28 0 1 0 -2.56 0ZM372.74 399.9a1.28 1.28 0 1 0 2.56 0a1.28 1.28 0 1 0 -2.56 0ZM375.97 403.94a1.28 1.28 0 1 0 2.56 0a1.28 1.28 0 1 0 -2.56 0ZM380.01 398.28a1.28 1.28 0 1 0 2.56 0a1.28 1.28 0 1 0 -2.56 0ZM383.24 389.39a1.28 1.28 0 1 0 2.56 0a1.28 1.28 0 1 0 -2.56 0ZM387.28 398.28a1.28 1.28 0 1 0 2.56 0a1.28 1.28 0 1 0 -2.56 0ZM391.32 397.47a1.28 1.28 0 1 0 2.56 0a1.28 1.28 0 1 0 -2.56 0ZM393.75 398.28a1.28 1.28 0 1 0 2.56 0a1.28 1.28 0 1 0 -2.56 0ZM393.66 398.28a1.28 1.28 0 1 0 2.56 0a1.28 1.28 0 1 0 -2.56 0ZM398.18 399.09a1.28 1.28 0 1 0 2.56 0a1.28 1.28 0 1 0 -2.56 0ZM402.22 396.67a1.28 1.28 0 1 0 2.56 0a1.28 1.28 0 1 0 -2.56 0ZM406.26 399.09a1.28 1.28 0 1 0 2.56 0a1.28 1.28 0 1 0 -2.56 0ZM409.5 399.09a1.28 1.28 0 1 0 2.56 0a1.28 1.28 0 1 0 -2.56 0ZM413.54 399.09a1.28 1.28 0 1 0 2.56 0a1.28 1.28 0 1 0 -2.56 0ZM416.77 399.9a1.28 1.28 0 1 0 2.56 0a1.28 1.28 0 1 0 -2.56 0ZM420.81 401.52a1.28 1.28 0 1 0 2.56 0a1.28 1.28 0 1 0 -2.56 0ZM424.04 398.28a1.28 1.28 0 1 0 2.56 0a1.28 1.28 0 1 0 -2.56 0ZM428.08 394.24a1.28 1.28 0 1 0 2.56 0a1.28 1.28 0 1 0 -2.56 0ZM431.31 399.9a1.28 1.28 0 1 0 2.56 0a1.28 1.28 0 1 0 -2.56 0ZM435.36 393.43a1.28 1.28 0 1 0 2.56 0a1.28 1.28 0 1 0 -2.56 0ZM438.59 399.9a1.28 1.28 0 1 0 2.56 0a1.28 1.28 0 1 0 -2.56 0ZM442.63 398.28a1.28 1.28 0 1 0 2.56 0a1.28 1.28 0 1 0 -2.56 0ZM446.67 403.13a1.28 1.28 0 1 0 2.56 0a1.28 1.28 0 1 0 -2.56 0ZM450.71 399.09a1.28 1.28 0 1 0 2.56 0a1.28 1.28 0 1 0 -2.56 0ZM454.75 399.9a1.28 1.28 0 1 0 2.56 0a1.28 1.28 0 1 0 -2.56 0Z" fill="#7dec0e"/>
<line x1="394.8" y1="347.4" x2="394.8" y2="469.4" stroke="#111" stroke-width="1.02"/>
<rect x="333.3" y="347.4" width="123" height="122" fill="none" stroke="#2a2a2a" stroke-width="1.28"/>
<path d="M331.15 469.4H335.45M331.97 463.3H334.63M331.97 457.2H334.63M331.97 451.1H334.63M331.97 445H334.63M331.15 438.9H335.45M331.97 432.8H334.63M331.97 426.7H334.63M331.97 420.6H334.63M331.97 414.5H334.63M331.15 408.4H335.45M331.97 402.3H334.63M331.97 396.2H334.63M331.97 390.1H334.63M331.97 384H334.63M331.15 377.9H335.45M331.97 371.8H334.63M331.97 365.7H334.63M331.97 359.6H334.63M331.97 353.5H334.63M331.15 347.4H335.45M333.3 467.76V471.04M364.05 467.76V471.04M394.8 467.76V471.04M425.55 467.76V471.04M456.3 467.76V471.04" stroke="#2a2a2a" stroke-width="1.18" fill="none"/>
<text transform="translate(329.61 472.33) scale(0.95,1)" font-size="8.20" text-anchor="end">0.0</text>
<text transform="translate(329.61 441.83) scale(0.95,1)" font-size="8.20" text-anchor="end">0.1</text>
<text transform="translate(329.61 411.33) scale(0.95,1)" font-size="8.20" text-anchor="end">0.2</text>
<text transform="translate(329.61 380.83) scale(0.95,1)" font-size="8.20" text-anchor="end">0.3</text>
<text transform="translate(329.61 350.33) scale(0.95,1)" font-size="8.20" text-anchor="end">0.4</text>
<text transform="translate(333.3 478.52) scale(0.95,1)" font-size="8.20" text-anchor="middle">0</text>
<text transform="translate(364.05 478.52) scale(0.95,1)" font-size="8.20" text-anchor="middle">50</text>
<text transform="translate(394.8 478.52) scale(0.95,1)" font-size="8.20" text-anchor="middle">100</text>
<text transform="translate(425.55 478.52) scale(0.95,1)" font-size="8.20" text-anchor="middle">150</text>
<text transform="translate(456.3 478.52) scale(0.95,1)" font-size="8.20" text-anchor="middle">200</text>
<text x="394.8" y="489.69" font-size="9.07" text-anchor="middle">Time [ns]</text>
<text x="394.8" y="341.45" font-size="9.43" text-anchor="middle">PLGA-PEG/ID2S LE all trials</text>
<rect x="480.5" y="207.5" width="75" height="99" fill="none" stroke="#f5f5f5" stroke-width="1"/>
<line x1="485.6" y1="215.8" x2="502.8" y2="215.8" stroke="#dccef6" stroke-width="1.2"/>
<path d="M494.2 213.5L496.38 217.41L492.01 217.41Z" fill="#dccef6"/>
<text x="510.2" y="218.4" font-size="8.15" style="stroke-width:0.15px">Trial 1</text>
<line x1="485.6" y1="227.8" x2="502.8" y2="227.8" stroke="#c4a0f2" stroke-width="1.2"/>
<path d="M494.2 225.5L496.38 229.41L492.01 229.41Z" fill="#c4a0f2"/>
<text x="510.2" y="230.4" font-size="8.15" style="stroke-width:0.15px">Trial 2</text>
<line x1="485.6" y1="239.7" x2="502.8" y2="239.7" stroke="#ab74f4" stroke-width="1.2"/>
<path d="M494.2 237.4L496.38 241.31L492.01 241.31Z" fill="#ab74f4"/>
<text x="510.2" y="242.3" font-size="8.15" style="stroke-width:0.15px">Trial 3</text>
<line x1="485.6" y1="251.6" x2="502.8" y2="251.6" stroke="#9446f0" stroke-width="1.2"/>
<path d="M494.2 249.3L496.38 253.21L492.01 253.21Z" fill="#9446f0"/>
<text x="510.2" y="254.2" font-size="8.15" style="stroke-width:0.15px">Trial 4</text>
<line x1="485.6" y1="263.6" x2="502.8" y2="263.6" stroke="#7e22ea" stroke-width="1.2"/>
<path d="M494.2 261.3L496.38 265.21L492.01 265.21Z" fill="#7e22ea"/>
<text x="510.2" y="266.2" font-size="8.15" style="stroke-width:0.15px">Trial 5</text>
<line x1="485.6" y1="275.6" x2="502.8" y2="275.6" stroke="#6618d0" stroke-width="1.2"/>
<path d="M494.2 273.3L496.38 277.21L492.01 277.21Z" fill="#6618d0"/>
<text x="510.2" y="278.2" font-size="8.15" style="stroke-width:0.15px">Trial 6</text>
<line x1="485.6" y1="287.4" x2="502.8" y2="287.4" stroke="#3e0a98" stroke-width="1.2"/>
<path d="M494.2 285.1L496.38 289.01L492.01 289.01Z" fill="#3e0a98"/>
<text x="510.2" y="290" font-size="8.15" style="stroke-width:0.15px">Trial 7</text>
<line x1="485.6" y1="299.4" x2="502.8" y2="299.4" stroke="#7dec0e" stroke-width="1.2"/>
<path d="M494.2 297.1L496.38 301.01L492.01 301.01Z" fill="#7dec0e"/>
<text x="510.2" y="302" font-size="8.15" style="stroke-width:0.15px">ID2S only</text>
</svg></body></html>
